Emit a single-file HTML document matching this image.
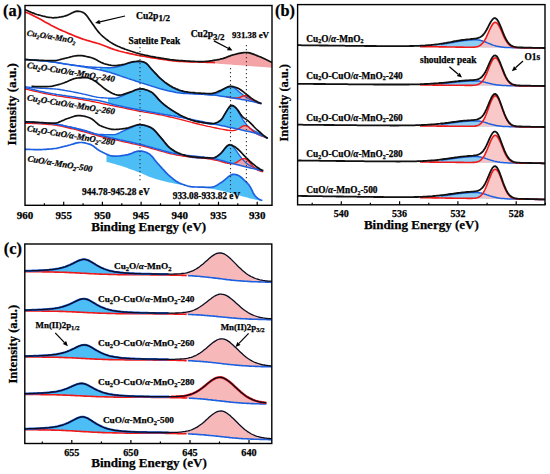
<!DOCTYPE html>
<html><head><meta charset="utf-8"><style>
html,body{margin:0;padding:0;background:#fff;width:550px;height:474px;overflow:hidden}
svg{display:block}
</style></head><body>
<svg width="550" height="474" viewBox="0 0 550 474">
<rect width="550" height="474" fill="#fff"/>
<polygon points="165,58.8 167,59.1 169,59.4 170.9,59.7 172.9,59.9 174.9,60.1 176.9,60.3 178.9,60.5 180.9,60.7 182.8,60.8 184.8,60.9 186.8,61 188.8,61.2 190.8,61.3 192.7,61.4 194.7,61.4 196.7,61.5 198.7,61.6 200.7,61.6 202.6,61.6 204.6,61.5 206.6,61.4 208.6,61.2 210.6,60.9 212.6,60.6 214.5,60.3 216.5,59.9 218.5,59.5 220.5,59.1 222.5,58.6 224.4,58 226.4,57.3 228.4,56.5 230.4,55.8 232.4,55.1 234.4,54.5 236.3,54 238.3,53.5 240.3,53.1 242.3,52.8 244.3,52.5 246.2,52.5 248.2,52.7 250.2,53.1 252.2,53.8 254.2,54.5 256.1,55.3 258.1,56 260.1,56.8 262.1,57.6 264.1,58.5 266.1,59.5 268,60.5 270,61.5 272,62.3 272,67.7 270,67.6 268,67.4 266.1,67.3 264.1,67.1 262.1,67 260.1,66.8 258.1,66.7 256.1,66.5 254.2,66.4 252.2,66.2 250.2,66.1 248.2,65.9 246.2,65.8 244.3,65.6 242.3,65.5 240.3,65.3 238.3,65.2 236.3,65 234.4,64.9 232.4,64.7 230.4,64.6 228.4,64.4 226.4,64.3 224.4,64.2 222.5,64 220.5,63.9 218.5,63.7 216.5,63.6 214.5,63.4 212.6,63.3 210.6,63.1 208.6,63 206.6,62.8 204.6,62.7 202.6,62.5 200.7,62.4 198.7,62.2 196.7,62.1 194.7,61.9 192.7,61.8 190.8,61.6 188.8,61.5 186.8,61.3 184.8,61.2 182.8,61 180.9,60.9 178.9,60.8 176.9,60.6 174.9,60.5 172.9,60.3 170.9,60.2 169,60 167,59.9 165,59.7" fill="#f4a3a6" />
<polyline points="25,12.1 27,12.7 29,13.5 31,14.5 33,15.5 35,16.5 37,17.5 39,18.6 41,19.6 43,20.7 45,21.9 47,23 49,24.1 51,25.2 53,26.2 55,27.2 57,28.2 59,29.2 61,30.1 63,31 65,31.8 67,32.7 69,33.6 71,34.4 73,35.2 75,36.1 77,36.9 79,37.6 81,38.4 83,39.1 85,39.7 87,40.4 89,40.9 91,41.5 93,42.1 95,42.6 97,43.2 99,43.8 101,44.5 103,45.2 105,46 107,46.8 109,47.6 111,48.4 113,49.1 115,49.8 117,50.4 119,51 121,51.5 123,52 125,52.5 127,52.9 129,53.4 131,53.8 133,54.2 135,54.7 137,55.1 139,55.4 141,55.8 143,56.2 145,56.5 147,56.9 149,57.2 151,57.6 153,57.9 155,58.2 157,58.5 159,58.8 161,59.1 163,59.4 165,59.7 167,60 169,60.3 171,60.5 173,60.8 175,61 177,61.2 179,61.3 181,61.4 183,61.5 185,61.6 187,61.7 189,61.8 191,61.9 193,61.9 195,62 197,62 199,62.1 201,62.1 203,62.2 205,62.2 207,62.3 209,62.4 211,62.4 213,62.5 215,62.5" fill="none" stroke="#f01818" stroke-width="1.7" stroke-linejoin="round" />
<polyline points="25,9.7 26.5,10.2 28,10.9 29.5,11.6 31,12.2 32.5,12.9 34,13.4 35.5,14 37,14.5 38.5,14.9 40,15.3 41.5,15.7 43,16.1 44.5,16.4 46,16.8 47.5,17.1 49,17.3 50.4,17.5 51.9,17.7 53.4,17.8 54.9,17.7 56.4,17.6 57.9,17.5 59.4,17.2 60.9,17 62.4,16.6 63.9,16.3 65.4,15.9 66.9,15.4 68.4,14.8 69.9,14.1 71.4,13.3 72.9,12.5 74.4,11.9 75.9,11.4 77.4,11.2 78.9,11.3 80.4,11.5 81.9,12 83.4,12.6 84.9,13.7 86.4,15.3 87.9,17.3 89.4,19.4 90.9,21.5 92.4,23.7 93.9,25.8 95.4,28 96.9,30 98.4,31.9 99.8,33.5 101.3,35 102.8,36.4 104.3,37.7 105.8,38.9 107.3,40 108.8,41.1 110.3,42.1 111.8,43.1 113.3,43.9 114.8,44.7 116.3,45.5 117.8,46.2 119.3,46.8 120.8,47.5 122.3,48.1 123.8,48.6 125.3,49.2 126.8,49.7 128.3,50.3 129.8,50.8 131.3,51.3 132.8,51.7 134.3,52.2 135.8,52.7 137.3,53.1 138.8,53.5 140.3,54 141.8,54.3 143.3,54.7 144.8,55.1 146.3,55.4 147.8,55.7 149.2,56 150.7,56.4 152.2,56.6 153.7,56.9 155.2,57.2 156.7,57.5 158.2,57.7 159.7,57.9 161.2,58.2 162.7,58.4 164.2,58.7 165.7,58.9 167.2,59.1 168.7,59.3 170.2,59.6 171.7,59.8 173.2,59.9 174.7,60.1 176.2,60.3 177.7,60.4 179.2,60.5 180.7,60.6 182.2,60.7 183.7,60.8 185.2,60.9 186.7,61 188.2,61.1 189.7,61.2 191.2,61.3 192.7,61.4 194.2,61.4 195.7,61.5 197.2,61.5 198.6,61.6 200.1,61.6 201.6,61.6 203.1,61.6 204.6,61.5 206.1,61.4 207.6,61.3 209.1,61.1 210.6,60.9 212.1,60.7 213.6,60.4 215.1,60.1 216.6,59.9 218.1,59.6 219.6,59.3 221.1,58.9 222.6,58.6 224.1,58.1 225.6,57.6 227.1,57 228.6,56.4 230.1,55.9 231.6,55.3 233.1,54.9 234.6,54.5 236.1,54.1 237.6,53.7 239.1,53.4 240.6,53.1 242.1,52.8 243.6,52.6 245.1,52.5 246.6,52.5 248,52.6 249.5,52.9 251,53.4 252.5,53.9 254,54.4 255.5,55 257,55.6 258.5,56.2 260,56.8 261.5,57.4 263,58.1 264.5,58.7 266,59.5 267.5,60.2 269,61 270.5,61.7 272,62.3" fill="none" stroke="#111" stroke-width="1.7" stroke-linejoin="round" />
<polygon points="100,67.5 101.5,67.5 103,67.6 104.5,67.6 106,67.6 107.5,67.7 109,67.7 110.5,67.7 112,67.6 113.5,67.5 115,67.3 116.5,67 118,66.6 119.5,66.2 121,65.9 122.5,65.4 124,65 125.5,64.4 127,63.9 128.5,63.3 130,62.8 131.5,62.4 133,62.1 134.5,61.9 136,61.7 137.5,61.5 139,61.4 140.5,61.5 142,61.7 143.5,62.1 145,62.7 146.5,63.6 148,65 149.5,66.8 151,68.6 152.5,70.3 154,71.9 155.5,73.5 157,75.1 158.5,76.7 160,78.1 161.5,79.5 163,80.8 164.5,82.1 166,83.3 167.5,84.4 169,85.5 170.5,86.4 172,87.3 173.5,88.1 175,88.9 176.5,89.6 178,90.2 179.5,90.8 181,91.3 182.5,91.7 184,92.1 185.5,92.4 187,92.6 188.5,92.9 190,93.1 191.5,93.3 193,93.4 194.5,93.6 196,93.7 197.5,93.9 199,94 200.5,94.2 202,94.3 203.5,94.4 205,94.5 206.5,94.6 208,94.7 209.5,94.8 211,94.8 212.5,94.9 214,94.9 214,95.1 212.5,94.9 211,94.8 209.5,94.7 208,94.6 206.5,94.5 205,94.4 203.5,94.3 202,94.2 200.5,94.2 199,94.1 197.5,94.1 196,94 194.5,94 193,93.9 191.5,93.8 190,93.8 188.5,93.7 187,93.6 185.5,93.5 184,93.4 182.5,93.3 181,93.1 179.5,92.9 178,92.7 176.5,92.5 175,92.2 173.5,91.9 172,91.6 170.5,91.3 169,91 167.5,90.6 166,90.3 164.5,89.9 163,89.5 161.5,89.1 160,88.6 158.5,88.2 157,87.8 155.5,87.3 154,86.8 152.5,86.4 151,85.9 149.5,85.4 148,85 146.5,84.5 145,84 143.5,83.5 142,83.1 140.5,82.6 139,82.1 137.5,81.6 136,81.1 134.5,80.6 133,80.1 131.5,79.6 130,79.1 128.5,78.6 127,78.2 125.5,77.7 124,77.2 122.5,76.7 121,76.1 119.5,75.6 118,75.1 116.5,74.6 115,74.1 113.5,73.5 112,73 110.5,72.6 109,72.1 107.5,71.7 106,71.3 104.5,70.9 103,70.5 101.5,70.2 100,69.9" fill="#4cbdf5" />
<polyline points="25,59.5 26.5,59.6 28,59.7 29.5,59.8 31,59.9 32.5,60 34,60.1 35.5,60.3 37,60.4 38.5,60.5 40,60.6 41.5,60.8 43,60.9 44.5,61.1 46,61.3 47.5,61.4 49,61.6 50.5,61.8 52,62 53.5,62.1 55,62.3 56.5,62.5 58,62.8 59.5,63 61,63.2 62.5,63.5 64,63.7 65.5,63.9 67,64.2 68.5,64.4 70,64.6 71.5,64.8 73,65 74.5,65.2 76,65.4 77.5,65.6 79,65.8 80.5,66 82,66.2 83.5,66.3 85,66.5 86.5,66.6 88,66.8 89.5,66.9 91,67 92.5,67.2 94,67.2 95.5,67.3 97,67.4 98.5,67.4 100,67.5 101.5,67.5 103,67.6 104.5,67.6 106,67.6 107.5,67.7 109,67.7 110.5,67.7 112,67.6 113.5,67.5 115,67.3 116.5,67 118,66.6 119.5,66.2 121,65.9 122.5,65.4 124,65 125.5,64.4 127,63.9 128.5,63.3 130,62.8 131.5,62.4 133,62.1 134.5,61.9 136,61.7 137.5,61.5 139,61.4 140.5,61.5 142,61.7 143.5,62.1 145,62.7 146.5,63.6 148,65 149.5,66.8 151,68.6 152.5,70.3 154,71.9 155.5,73.5 157,75.1 158.5,76.7 160,78.1 161.5,79.5 163,80.8 164.5,82.1 166,83.3 167.5,84.4 169,85.5 170.5,86.4 172,87.3 173.5,88.1 175,88.9 176.5,89.6 178,90.2 179.5,90.8 181,91.3 182.5,91.7 184,92.1 185.5,92.4 187,92.6 188.5,92.9 190,93.1 191.5,93.3 193,93.4 194.5,93.6 196,93.7 197.5,93.9 199,94 200.5,94.2 202,94.3 203.5,94.4 205,94.5 206.5,94.6 208,94.7 209.5,94.8 211,94.8 212.5,94.9 214,94.9" fill="none" stroke="#1c60e0" stroke-width="1.4" stroke-linejoin="round" />
<polygon points="205,94 206,94.1 207,94.1 208,94.1 209,94.1 209.9,94.1 210.9,94.1 211.9,94 212.9,93.9 213.9,93.8 214.9,93.7 215.9,93.5 216.9,93.2 217.9,92.9 218.9,92.4 219.8,91.9 220.8,91.4 221.8,90.7 222.8,90.1 223.8,89.3 224.8,88.7 225.8,88.2 226.8,87.7 227.8,87.3 228.7,87 229.7,86.8 230.7,86.7 231.7,86.8 232.7,87.1 233.7,87.6 234.7,88.2 235.7,88.9 236.7,89.7 237.7,90.5 238.6,91.3 239.6,92.2 240.6,93 241.6,93.8 242.6,94.6 243.6,95.4 244.6,96.1 245.6,96.8 246.6,97.4 247.5,98 248.5,98.6 249.5,99.1 250.5,99.5 251.5,100 252.5,100.4 253.5,100.7 254.5,101.1 255.5,101.4 256.5,101.8 257.4,102.3 258.4,102.8 259.4,103.3 260.4,103.6 261.4,103.9 261.4,103.5 260.4,103.3 259.4,103.2 258.4,102.9 257.4,102.7 256.5,102.5 255.5,102.2 254.5,102 253.5,101.8 252.5,101.5 251.5,101.3 250.5,101.1 249.5,100.9 248.5,100.7 247.5,100.5 246.6,100.3 245.6,100.1 244.6,99.9 243.6,99.7 242.6,99.6 241.6,99.4 240.6,99.2 239.6,99 238.6,98.9 237.7,98.7 236.7,98.5 235.7,98.4 234.7,98.2 233.7,98.1 232.7,97.9 231.7,97.8 230.7,97.6 229.7,97.5 228.7,97.3 227.8,97.1 226.8,97 225.8,96.8 224.8,96.7 223.8,96.5 222.8,96.4 221.8,96.2 220.8,96 219.8,95.9 218.9,95.7 217.9,95.6 216.9,95.5 215.9,95.3 214.9,95.2 213.9,95.1 212.9,95 211.9,94.9 210.9,94.8 209.9,94.7 209,94.6 208,94.6 207,94.5 206,94.4 205,94.4" fill="#4cbdf5" />
<polygon points="226,96.9 227,97 228,97.2 228.9,97.3 229.9,97.5 230.9,97.6 231.9,97.8 232.9,97.9 233.9,98 234.8,98 235.8,98.1 236.8,98 237.8,97.9 238.8,97.7 239.8,97.3 240.8,97 241.7,96.5 242.7,96.1 243.7,95.8 244.7,95.6 245.7,95.6 246.6,95.9 247.6,96.3 248.6,96.9 249.6,97.6 250.6,98.4 251.6,99.2 252.5,100 253.5,100.7 254.5,101.2 255.5,101.7 256.5,102.2 257.5,102.5 258.4,102.8 259.4,103.1 260.4,103.3 261.4,103.5 261.4,103.5 260.4,103.3 259.4,103.2 258.4,102.9 257.5,102.7 256.5,102.5 255.5,102.2 254.5,102 253.5,101.8 252.5,101.5 251.6,101.3 250.6,101.1 249.6,100.9 248.6,100.7 247.6,100.5 246.6,100.3 245.7,100.1 244.7,99.9 243.7,99.8 242.7,99.6 241.7,99.4 240.8,99.2 239.8,99.1 238.8,98.9 237.8,98.7 236.8,98.6 235.8,98.4 234.8,98.3 233.9,98.1 232.9,97.9 231.9,97.8 230.9,97.6 229.9,97.5 228.9,97.3 228,97.2 227,97 226,96.9" fill="#f4a3a6" opacity="0.9"/>
<polyline points="205,94 206,94.1 207,94.1 208,94.1 209,94.1 209.9,94.1 210.9,94.1 211.9,94 212.9,93.9 213.9,93.8 214.9,93.7 215.9,93.5 216.9,93.2 217.9,92.9 218.9,92.4 219.8,91.9 220.8,91.4 221.8,90.7 222.8,90.1 223.8,89.3 224.8,88.7 225.8,88.2 226.8,87.7 227.8,87.3 228.7,87 229.7,86.8 230.7,86.7 231.7,86.8 232.7,87.1 233.7,87.6 234.7,88.2 235.7,88.9 236.7,89.7 237.7,90.5 238.6,91.3 239.6,92.2 240.6,93 241.6,93.8 242.6,94.6 243.6,95.4 244.6,96.1 245.6,96.8 246.6,97.4 247.5,98 248.5,98.6 249.5,99.1 250.5,99.5 251.5,100 252.5,100.4 253.5,100.7 254.5,101.1 255.5,101.4 256.5,101.8 257.4,102.3 258.4,102.8 259.4,103.3 260.4,103.6 261.4,103.9" fill="none" stroke="#1c60e0" stroke-width="1.3" stroke-linejoin="round" />
<polyline points="226,96.9 227,97 228,97.2 228.9,97.3 229.9,97.5 230.9,97.6 231.9,97.8 232.9,97.9 233.9,98 234.8,98 235.8,98.1 236.8,98 237.8,97.9 238.8,97.7 239.8,97.3 240.8,97 241.7,96.5 242.7,96.1 243.7,95.8 244.7,95.6 245.7,95.6 246.6,95.9 247.6,96.3 248.6,96.9 249.6,97.6 250.6,98.4 251.6,99.2 252.5,100 253.5,100.7 254.5,101.2 255.5,101.7 256.5,102.2 257.5,102.5 258.4,102.8 259.4,103.1 260.4,103.3 261.4,103.5" fill="none" stroke="#f01818" stroke-width="1.4" stroke-linejoin="round" />
<polyline points="25,59.5 27,59.6 29,59.8 31,59.9 32.9,60.1 34.9,60.2 36.9,60.4 38.9,60.6 40.9,60.7 42.9,60.9 44.9,61.1 46.9,61.3 48.8,61.6 50.8,61.8 52.8,62.1 54.8,62.3 56.8,62.6 58.8,62.9 60.8,63.3 62.7,63.6 64.7,64 66.7,64.3 68.7,64.6 70.7,64.9 72.7,65.2 74.7,65.5 76.7,65.8 78.6,66.1 80.6,66.4 82.6,66.7 84.6,67 86.6,67.4 88.6,67.7 90.6,68.1 92.5,68.4 94.5,68.8 96.5,69.2 98.5,69.6 100.5,70 102.5,70.4 104.5,70.9 106.4,71.4 108.4,71.9 110.4,72.5 112.4,73.2 114.4,73.8 116.4,74.5 118.4,75.2 120.4,75.9 122.3,76.6 124.3,77.3 126.3,77.9 128.3,78.6 130.3,79.2 132.3,79.9 134.3,80.5 136.2,81.2 138.2,81.8 140.2,82.5 142.2,83.1 144.2,83.8 146.2,84.4 148.2,85 150.2,85.6 152.1,86.3 154.1,86.9 156.1,87.5 158.1,88.1 160.1,88.7 162.1,89.2 164.1,89.8 166,90.3 168,90.8 170,91.2 172,91.6 174,92 176,92.4 178,92.7 180,93 181.9,93.2 183.9,93.4 185.9,93.5 187.9,93.6 189.9,93.8 191.9,93.8 193.9,93.9 195.8,94 197.8,94.1 199.8,94.2 201.8,94.2 203.8,94.3 205.8,94.4 207.8,94.6 209.7,94.7 211.7,94.9 213.7,95.1 215.7,95.3 217.7,95.6 219.7,95.9 221.7,96.2 223.7,96.5 225.6,96.8 227.6,97.1 229.6,97.4 231.6,97.7 233.6,98.1 235.6,98.4 237.6,98.7 239.5,99 241.5,99.4 243.5,99.7 245.5,100.1 247.5,100.5 249.5,100.9 251.5,101.3 253.5,101.7 255.4,102.2 257.4,102.7 259.4,103.1 261.4,103.5" fill="none" stroke="#1c60e0" stroke-width="1.5" stroke-linejoin="round" />
<polyline points="25,59.5 26.5,59.6 28,59.7 29.5,59.8 31,59.9 32.5,60 34,60.1 35.5,60.1 37,60.2 38.5,60.3 40,60.3 41.5,60.4 43,60.4 44.5,60.5 45.9,60.5 47.4,60.6 48.9,60.6 50.4,60.7 51.9,60.7 53.4,60.7 54.9,60.6 56.4,60.5 57.9,60.2 59.4,59.8 60.9,59.4 62.4,59 63.9,58.6 65.4,58.2 66.9,57.8 68.4,57.5 69.9,57.1 71.4,56.7 72.9,56.3 74.4,56 75.9,55.8 77.4,55.6 78.9,55.5 80.4,55.6 81.9,55.7 83.4,55.9 84.8,56.2 86.3,56.5 87.8,56.8 89.3,57.1 90.8,57.5 92.3,58 93.8,58.6 95.3,59.3 96.8,60.1 98.3,60.9 99.8,61.7 101.3,62.5 102.8,63.1 104.3,63.7 105.8,64.1 107.3,64.5 108.8,64.9 110.3,65.2 111.8,65.5 113.3,65.6 114.8,65.7 116.3,65.6 117.8,65.4 119.3,65.2 120.8,65 122.3,64.7 123.7,64.4 125.2,64 126.7,63.5 128.2,63 129.7,62.6 131.2,62.2 132.7,61.9 134.2,61.7 135.7,61.5 137.2,61.3 138.7,61.2 140.2,61.3 141.7,61.5 143.2,61.9 144.7,62.5 146.2,63.3 147.7,64.7 149.2,66.5 150.7,68.2 152.2,69.9 153.7,71.5 155.2,73.1 156.7,74.7 158.2,76.3 159.7,77.8 161.2,79.2 162.7,80.4 164.1,81.6 165.6,82.8 167.1,83.8 168.6,84.8 170.1,85.8 171.6,86.6 173.1,87.4 174.6,88.1 176.1,88.8 177.6,89.4 179.1,90 180.6,90.5 182.1,90.9 183.6,91.3 185.1,91.6 186.6,91.8 188.1,92.1 189.6,92.3 191.1,92.5 192.6,92.6 194.1,92.7 195.6,92.9 197.1,93 198.6,93.1 200.1,93.2 201.6,93.3 203,93.4 204.5,93.4 206,93.5 207.5,93.5 209,93.6 210.5,93.6 212,93.5 213.5,93.2 215,92.7 216.5,92.2 218,91.5 219.5,90.9 221,90.3 222.5,89.5 224,88.7 225.5,87.9 227,87.2 228.5,86.6 230,86.3 231.5,86.3 233,86.6 234.5,87 236,87.5 237.5,88.1 239,88.8 240.5,89.7 241.9,90.7 243.4,91.9 244.9,93.1 246.4,94.3 247.9,95.5 249.4,96.7 250.9,97.9 252.4,98.9 253.9,99.9 255.4,100.8 256.9,101.6 258.4,102.4 259.9,103 261.4,103.5" fill="none" stroke="#111" stroke-width="1.7" stroke-linejoin="round" />
<polygon points="108,98.1 109.5,98.2 111,98.2 112.5,98.3 114,98.3 115.5,98.2 117,97.9 118.5,97.4 119.9,96.8 121.4,96.2 122.9,95.6 124.4,94.9 125.9,94.2 127.4,93.5 128.9,92.8 130.4,92.2 131.9,91.5 133.4,90.9 134.9,90.3 136.4,89.8 137.9,89.4 139.4,89.1 140.8,89.1 142.3,89.2 143.8,89.4 145.3,89.8 146.8,90.3 148.3,90.8 149.8,91.4 151.3,92.2 152.8,93.3 154.3,94.7 155.8,96.3 157.3,98.1 158.8,99.8 160.3,101.4 161.7,102.8 163.2,104.1 164.7,105.3 166.2,106.4 167.7,107.5 169.2,108.6 170.7,109.7 172.2,110.7 173.7,111.6 175.2,112.6 176.7,113.6 178.2,114.5 179.7,115.4 181.2,116.2 182.6,116.9 184.1,117.6 185.6,118.2 187.1,118.7 188.6,119.3 190.1,119.7 191.6,120.2 193.1,120.6 194.6,121 196.1,121.3 197.6,121.7 199.1,122 200.6,122.3 202.1,122.6 203.5,122.9 205,123.1 206.5,123.4 208,123.6 209.5,123.8 211,124 212.5,124.2 214,124.3 214,124 212.5,123.7 211,123.4 209.5,123.1 208,122.8 206.5,122.5 205,122.2 203.5,121.9 202.1,121.6 200.6,121.3 199.1,121 197.6,120.7 196.1,120.4 194.6,120.1 193.1,119.8 191.6,119.5 190.1,119.2 188.6,118.9 187.1,118.6 185.6,118.3 184.1,118 182.6,117.7 181.2,117.4 179.7,117.1 178.2,116.9 176.7,116.6 175.2,116.3 173.7,116 172.2,115.8 170.7,115.5 169.2,115.2 167.7,115 166.2,114.7 164.7,114.4 163.2,114.2 161.7,113.9 160.3,113.7 158.8,113.4 157.3,113.1 155.8,112.9 154.3,112.6 152.8,112.3 151.3,112.1 149.8,111.8 148.3,111.5 146.8,111.3 145.3,111 143.8,110.7 142.3,110.4 140.8,110.2 139.4,109.9 137.9,109.6 136.4,109.3 134.9,109 133.4,108.7 131.9,108.4 130.4,108.2 128.9,107.9 127.4,107.6 125.9,107.3 124.4,107 122.9,106.7 121.4,106.3 119.9,106 118.5,105.7 117,105.4 115.5,105 114,104.6 112.5,104.3 111,103.8 109.5,103.4 108,102.9" fill="#4cbdf5" />
<polyline points="25,86.8 26.5,86.9 28,87.1 29.5,87.3 31,87.4 32.5,87.6 34,87.7 35.5,87.9 37,88 38.5,88.1 40,88.2 41.5,88.3 43,88.4 44.5,88.4 46,88.5 47.5,88.6 49,88.6 50.5,88.7 52,88.8 53.5,88.9 55,89 56.5,89.1 58,89.3 59.5,89.5 61,89.8 62.5,90 64,90.3 65.5,90.6 67,90.8 68.5,91.1 70,91.3 71.5,91.6 73,91.9 74.5,92.2 76,92.5 77.5,92.8 79,93.1 80.5,93.4 82,93.8 83.5,94.1 85,94.4 86.5,94.8 88,95.1 89.5,95.5 91,95.9 92.5,96.3 94,96.6 95.5,96.9 97,97.2 98.5,97.4 100,97.6 101.5,97.7 103,97.8 104.5,97.9 106,98 107.5,98.1 109,98.2 110.5,98.2 112,98.3 113.5,98.3 115,98.2 116.5,98 118,97.5 119.5,97 121,96.4 122.5,95.8 124,95.1 125.5,94.4 127,93.7 128.5,93 130,92.3 131.5,91.7 133,91.1 134.5,90.5 136,89.9 137.5,89.5 139,89.2 140.5,89.1 142,89.1 143.5,89.3 145,89.7 146.5,90.1 148,90.7 149.5,91.3 151,92 152.5,93 154,94.4 155.5,96 157,97.8 158.5,99.5 160,101.2 161.5,102.6 163,103.9 164.5,105.1 166,106.3 167.5,107.4 169,108.5 170.5,109.5 172,110.5 173.5,111.5 175,112.5 176.5,113.5 178,114.4 179.5,115.3 181,116.1 182.5,116.9 184,117.5 185.5,118.1 187,118.7 188.5,119.2 190,119.7 191.5,120.1 193,120.6 194.5,121 196,121.3 197.5,121.6 199,122 200.5,122.3 202,122.6 203.5,122.9 205,123.1 206.5,123.4 208,123.6 209.5,123.8 211,124 212.5,124.2 214,124.3" fill="none" stroke="#1c60e0" stroke-width="1.4" stroke-linejoin="round" />
<polygon points="205,123.3 206,123.4 207,123.5 208,123.6 209,123.7 210,123.8 211,123.8 212,123.9 213,123.9 214,123.8 215,123.6 215.9,123.3 216.9,122.9 217.9,122.4 218.9,121.8 219.9,121.2 220.9,120.3 221.9,119.1 222.9,117.7 223.9,116 224.9,114.4 225.9,112.7 226.9,111.1 227.9,109.4 228.9,107.9 229.9,106.7 230.9,106 231.9,105.8 232.9,106 233.9,106.5 234.9,107.3 235.9,108.2 236.8,109.3 237.8,111 238.8,112.7 239.8,114.4 240.8,116.2 241.8,117.9 242.8,119.5 243.8,121 244.8,122.4 245.8,123.7 246.8,124.9 247.8,126 248.8,127 249.8,127.9 250.8,128.7 251.8,129.4 252.8,130 253.8,130.6 254.8,131.1 255.8,131.7 256.8,132.1 257.7,132.6 258.7,133.1 259.7,133.6 260.7,134 261.7,134.5 262.7,135 263.7,135.9 264.7,136.7 265.7,137.4 266.7,138.1 267.7,138.6 267.7,137.9 266.7,137.6 265.7,137.2 264.7,136.8 263.7,136.3 262.7,135.9 261.7,135.5 260.7,135.1 259.7,134.7 258.7,134.3 257.7,134 256.8,133.6 255.8,133.3 254.8,133.1 253.8,132.8 252.8,132.5 251.8,132.3 250.8,132 249.8,131.8 248.8,131.6 247.8,131.3 246.8,131.1 245.8,130.9 244.8,130.6 243.8,130.4 242.8,130.2 241.8,130 240.8,129.7 239.8,129.5 238.8,129.3 237.8,129.1 236.8,128.9 235.9,128.7 234.9,128.4 233.9,128.2 232.9,128 231.9,127.8 230.9,127.6 229.9,127.4 228.9,127.2 227.9,127 226.9,126.7 225.9,126.5 224.9,126.3 223.9,126.1 222.9,125.9 221.9,125.7 220.9,125.5 219.9,125.3 218.9,125.1 217.9,124.8 216.9,124.6 215.9,124.4 215,124.2 214,124 213,123.8 212,123.6 211,123.4 210,123.2 209,123 208,122.8 207,122.6 206,122.4 205,122.2" fill="#4cbdf5" />
<polygon points="225.8,126.5 226.8,126.7 227.8,126.9 228.8,127.1 229.8,127.4 230.8,127.6 231.8,127.8 232.8,128 233.8,128.2 234.8,128.4 235.8,128.6 236.8,128.9 237.8,129.1 238.8,128.7 239.8,128 240.8,127.4 241.8,126.7 242.8,126.2 243.8,125.8 244.8,125.6 245.8,125.6 246.8,125.9 247.7,126.4 248.7,127 249.7,127.9 250.7,128.8 251.7,129.8 252.7,130.7 253.7,131.6 254.7,132.4 255.7,133.1 256.7,133.6 257.7,134 258.7,134.3 259.7,134.7 260.7,135 261.7,135.5 262.7,135.9 263.7,136.3 264.7,136.8 265.7,137.2 266.7,137.6 267.7,137.9 267.7,137.9 266.7,137.6 265.7,137.2 264.7,136.8 263.7,136.3 262.7,135.9 261.7,135.5 260.7,135 259.7,134.7 258.7,134.3 257.7,134 256.7,133.6 255.7,133.3 254.7,133 253.7,132.8 252.7,132.5 251.7,132.3 250.7,132 249.7,131.8 248.7,131.6 247.7,131.3 246.8,131.1 245.8,130.9 244.8,130.6 243.8,130.4 242.8,130.2 241.8,129.9 240.8,129.7 239.8,129.5 238.8,129.3 237.8,129.1 236.8,128.9 235.8,128.6 234.8,128.4 233.8,128.2 232.8,128 231.8,127.8 230.8,127.6 229.8,127.4 228.8,127.1 227.8,126.9 226.8,126.7 225.8,126.5" fill="#f4a3a6" opacity="0.9"/>
<polyline points="205,123.3 206,123.4 207,123.5 208,123.6 209,123.7 210,123.8 211,123.8 212,123.9 213,123.9 214,123.8 215,123.6 215.9,123.3 216.9,122.9 217.9,122.4 218.9,121.8 219.9,121.2 220.9,120.3 221.9,119.1 222.9,117.7 223.9,116 224.9,114.4 225.9,112.7 226.9,111.1 227.9,109.4 228.9,107.9 229.9,106.7 230.9,106 231.9,105.8 232.9,106 233.9,106.5 234.9,107.3 235.9,108.2 236.8,109.3 237.8,111 238.8,112.7 239.8,114.4 240.8,116.2 241.8,117.9 242.8,119.5 243.8,121 244.8,122.4 245.8,123.7 246.8,124.9 247.8,126 248.8,127 249.8,127.9 250.8,128.7 251.8,129.4 252.8,130 253.8,130.6 254.8,131.1 255.8,131.7 256.8,132.1 257.7,132.6 258.7,133.1 259.7,133.6 260.7,134 261.7,134.5 262.7,135 263.7,135.9 264.7,136.7 265.7,137.4 266.7,138.1 267.7,138.6" fill="none" stroke="#1c60e0" stroke-width="1.3" stroke-linejoin="round" />
<polyline points="25,89 27,89.4 29,89.8 31,90.3 33,90.8 34.9,91.3 36.9,91.7 38.9,92.2 40.9,92.7 42.9,93.1 44.9,93.5 46.9,93.9 48.9,94.3 50.8,94.7 52.8,95.1 54.8,95.4 56.8,95.8 58.8,96.1 60.8,96.4 62.8,96.7 64.8,97 66.8,97.3 68.7,97.5 70.7,97.8 72.7,98.1 74.7,98.4 76.7,98.7 78.7,99 80.7,99.3 82.7,99.6 84.6,100 86.6,100.3 88.6,100.7 90.6,101.1 92.6,101.5 94.6,101.9 96.6,102.3 98.6,102.7 100.5,103.1 102.5,103.6 104.5,104 106.5,104.4 108.5,104.8 110.5,105.3 112.5,105.7 114.5,106.1 116.5,106.5 118.4,106.9 120.4,107.3 122.4,107.7 124.4,108.2 126.4,108.6 128.4,109 130.4,109.4 132.4,109.8 134.3,110.2 136.3,110.6 138.3,111 140.3,111.4 142.3,111.7 144.3,112.1 146.3,112.4 148.3,112.7 150.3,113.1 152.2,113.4 154.2,113.7 156.2,114.1 158.2,114.5 160.2,114.8 162.2,115.2 164.2,115.7 166.2,116.1 168.1,116.5 170.1,117 172.1,117.4 174.1,117.9 176.1,118.4 178.1,118.8 180.1,119.3 182.1,119.8 184,120.3 186,120.9 188,121.4 190,121.9 192,122.5 194,123 196,123.5 198,124 200,124.5 201.9,124.9 203.9,125.4 205.9,125.8 207.9,126.3 209.9,126.7 211.9,127.2 213.9,127.6 215.9,128 217.8,128.4 219.8,128.8 221.8,129.2 223.8,129.5 225.8,129.9 226.8,130.1" fill="none" stroke="#f01818" stroke-width="1.3" stroke-linejoin="round" />
<polyline points="225.8,129.9 226.8,130.1 227.8,130.2 228.8,130.4 229.8,130.5 230.8,130.6 231.8,130.6 232.8,130.6 233.8,130.5 234.8,130.4 235.8,130.1 236.8,129.7 237.8,129.2 238.8,128.7 239.8,128 240.8,127.4 241.8,126.7 242.8,126.2 243.8,125.8 244.8,125.6 245.8,125.6 246.8,125.9 247.7,126.4 248.7,127 249.7,127.9 250.7,128.8 251.7,129.8 252.7,130.7 253.7,131.6 254.7,132.4 255.7,133.1 256.7,133.7 257.7,134.3 258.7,134.8 259.7,135.2 260.7,135.6 261.7,136 262.7,136.4 263.7,136.7 264.7,137.1 265.7,137.4 266.7,137.7 267.7,138" fill="none" stroke="#f01818" stroke-width="1.4" stroke-linejoin="round" />
<polyline points="25,87.7 27,88.1 29,88.6 31,89.1 33,89.6 34.9,90 36.9,90.5 38.9,91 40.9,91.4 42.9,91.8 44.9,92.3 46.9,92.7 48.9,93.1 50.9,93.4 52.9,93.8 54.8,94.1 56.8,94.5 58.8,94.8 60.8,95.1 62.8,95.4 64.8,95.6 66.8,95.9 68.8,96.2 70.8,96.5 72.7,96.8 74.7,97.1 76.7,97.4 78.7,97.7 80.7,98 82.7,98.3 84.7,98.6 86.7,98.9 88.7,99.1 90.6,99.4 92.6,99.7 94.6,99.9 96.6,100.2 98.6,100.6 100.6,101 102.6,101.4 104.6,101.9 106.6,102.5 108.6,103.1 110.5,103.7 112.5,104.3 114.5,104.8 116.5,105.3 118.5,105.7 120.5,106.1 122.5,106.6 124.5,107 126.5,107.4 128.4,107.8 130.4,108.2 132.4,108.6 134.4,108.9 136.4,109.3 138.4,109.7 140.4,110.1 142.4,110.4 144.4,110.8 146.3,111.2 148.3,111.5 150.3,111.9 152.3,112.3 154.3,112.6 156.3,113 158.3,113.3 160.3,113.7 162.3,114 164.3,114.4 166.2,114.7 168.2,115.1 170.2,115.4 172.2,115.8 174.2,116.1 176.2,116.5 178.2,116.9 180.2,117.2 182.2,117.6 184.1,118 186.1,118.4 188.1,118.8 190.1,119.2 192.1,119.6 194.1,120 196.1,120.4 198.1,120.8 200.1,121.2 202.1,121.6 204,122 206,122.4 208,122.8 210,123.2 212,123.6 214,124 216,124.4 218,124.8 220,125.3 221.9,125.7 223.9,126.1 225.9,126.5 227.9,127 229.9,127.4 231.9,127.8 233.9,128.2 235.9,128.7 237.9,129.1 239.8,129.5 241.8,130 243.8,130.4 245.8,130.9 247.8,131.3 249.8,131.8 251.8,132.3 253.8,132.8 255.8,133.3 257.8,134 259.7,134.7 261.7,135.5 263.7,136.3 265.7,137.2 267.7,137.9" fill="none" stroke="#1c60e0" stroke-width="1.5" stroke-linejoin="round" />
<polyline points="31.5,86.3 33,86.4 34.5,86.5 36,86.6 37.5,86.6 39,86.6 40.5,86.7 42,86.7 43.5,86.7 45,86.7 46.4,86.7 47.9,86.6 49.4,86.5 50.9,86.3 52.4,86.1 53.9,85.7 55.4,85.4 56.9,85 58.4,84.6 59.9,84.2 61.4,83.8 62.9,83.3 64.4,82.8 65.9,82.1 67.4,81.5 68.9,80.8 70.4,80.1 71.9,79.5 73.4,78.9 74.9,78.5 76.3,78.2 77.8,78 79.3,77.9 80.8,77.8 82.3,77.7 83.8,77.6 85.3,77.6 86.8,77.7 88.3,78 89.8,78.5 91.3,79.1 92.8,79.8 94.3,80.7 95.8,81.6 97.3,82.7 98.8,84 100.3,85.2 101.8,86.4 103.3,87.6 104.8,88.8 106.2,89.8 107.7,90.7 109.2,91.6 110.7,92.4 112.2,93.2 113.7,93.9 115.2,94.5 116.7,94.9 118.2,95.1 119.7,95.1 121.2,94.9 122.7,94.6 124.2,94.1 125.7,93.6 127.2,93.1 128.7,92.6 130.2,92.1 131.7,91.6 133.2,91 134.7,90.3 136.1,89.8 137.6,89.3 139.1,89 140.6,88.9 142.1,88.9 143.6,89.2 145.1,89.5 146.6,90 148.1,90.5 149.6,91.2 151.1,91.9 152.6,92.9 154.1,94.3 155.6,95.9 157.1,97.6 158.6,99.4 160.1,100.9 161.6,102.3 163.1,103.6 164.5,104.8 166,106 167.5,107.1 169,108.1 170.5,109.2 172,110.2 173.5,111.1 175,112.1 176.5,113 178,113.8 179.5,114.7 181,115.5 182.5,116.2 184,116.9 185.5,117.6 187,118.2 188.5,118.9 190,119.4 191.5,120 193,120.5 194.4,120.9 195.9,121.3 197.4,121.6 198.9,121.9 200.4,122.2 201.9,122.4 203.4,122.6 204.9,122.9 206.4,123.1 207.9,123.2 209.4,123.3 210.9,123.4 212.4,123.5 213.9,123.4 215.4,123.1 216.9,122.5 218.4,121.8 219.9,120.8 221.4,119.4 222.9,117.4 224.3,114.9 225.8,112.4 227.3,109.9 228.8,107.6 230.3,105.9 231.8,105.4 233.3,105.8 234.8,106.9 236.3,108.2 237.8,110 239.3,112.3 240.8,114.6 242.3,116.5 243.8,117.9 245.3,118.9 246.8,119.9 248.3,121 249.8,122.4 251.3,123.9 252.8,125.4 254.2,127 255.7,128.5 257.2,129.9 258.7,131.2 260.2,132.5 261.7,133.8 263.2,135.1 264.7,136.3 266.2,137.4 267.7,138.2" fill="none" stroke="#111" stroke-width="1.7" stroke-linejoin="round" />
<polygon points="95,133.7 96.5,134.1 98,134.3 99.5,134.5 101,134.5 102.4,134.5 103.9,134.5 105.4,134.6 106.9,134.6 108.4,134.6 109.9,134.6 111.4,134.6 112.8,134.6 114.3,134.5 115.8,134.3 117.3,133.8 118.8,133.1 120.3,132.4 121.8,131.6 123.3,131 124.8,130.4 126.2,129.7 127.7,129.1 129.2,128.5 130.7,127.9 132.2,127.3 133.7,126.6 135.2,126 136.7,125.4 138.1,125.1 139.6,124.9 141.1,124.9 142.6,125.1 144.1,125.4 145.6,125.8 147.1,126.3 148.6,126.8 150,127.5 151.5,128.2 153,129.3 154.5,130.6 156,132.2 157.5,133.9 159,135.6 160.4,137.4 161.9,139.1 163.4,141 164.9,142.8 166.4,144.7 167.9,146.4 169.4,147.9 170.9,149.1 172.4,150.1 173.8,151.1 175.3,151.9 176.8,152.7 178.3,153.4 179.8,154 181.3,154.5 182.8,155.1 184.2,155.5 185.7,156 187.2,156.4 188.7,156.8 190.2,157.1 191.7,157.3 193.2,157.5 194.7,157.6 196.2,157.8 197.6,157.9 199.1,158 200.6,158.1 202.1,158.2 203.6,158.3 205.1,158.4 206.6,158.4 208.1,158.5 209.5,158.5 211,158.6 212.5,158.6 214,158.6 214,158.7 212.5,158.4 211,158.2 209.5,157.9 208.1,157.7 206.6,157.5 205.1,157.3 203.6,157.1 202.1,157 200.6,156.8 199.1,156.7 197.6,156.5 196.2,156.4 194.7,156.2 193.2,156.1 191.7,155.9 190.2,155.8 188.7,155.6 187.2,155.5 185.7,155.3 184.2,155.1 182.8,154.9 181.3,154.7 179.8,154.4 178.3,154.2 176.8,153.9 175.3,153.6 173.8,153.3 172.4,153 170.9,152.7 169.4,152.3 167.9,151.9 166.4,151.5 164.9,151.2 163.4,150.8 161.9,150.3 160.4,149.9 159,149.5 157.5,149.1 156,148.7 154.5,148.2 153,147.8 151.5,147.4 150,147 148.6,146.5 147.1,146.1 145.6,145.7 144.1,145.3 142.6,145 141.1,144.6 139.6,144.2 138.1,143.9 136.7,143.5 135.2,143.2 133.7,142.8 132.2,142.5 130.7,142.2 129.2,141.8 127.7,141.5 126.2,141.2 124.8,140.9 123.3,140.5 121.8,140.2 120.3,139.9 118.8,139.6 117.3,139.2 115.8,138.9 114.3,138.6 112.8,138.2 111.4,137.9 109.9,137.6 108.4,137.2 106.9,136.9 105.4,136.5 103.9,136.2 102.4,135.8 101,135.4 99.5,135.1 98,134.7 96.5,134.3 95,133.8" fill="#4cbdf5" />
<polyline points="25,122.2 26.5,122.2 28,122.2 29.5,122.3 31,122.3 32.5,122.3 34,122.4 35.5,122.5 37,122.6 38.5,122.6 40,122.7 41.5,122.8 43,123 44.5,123.1 46,123.2 47.5,123.3 49,123.4 50.5,123.6 52,123.7 53.5,123.9 55,124 56.5,124.2 58,124.4 59.5,124.7 61,125 62.5,125.3 64,125.6 65.5,125.9 67,126.3 68.5,126.6 70,126.9 71.5,127.2 73,127.6 74.5,127.9 76,128.2 77.5,128.6 79,129 80.5,129.3 82,129.7 83.5,130.1 85,130.5 86.5,131 88,131.5 89.5,132 91,132.5 92.5,133 94,133.5 95.5,133.9 97,134.2 98.5,134.4 100,134.5 101.5,134.5 103,134.5 104.5,134.6 106,134.6 107.5,134.6 109,134.6 110.5,134.6 112,134.6 113.5,134.6 115,134.5 116.5,134.1 118,133.5 119.5,132.8 121,132 122.5,131.3 124,130.7 125.5,130 127,129.4 128.5,128.8 130,128.2 131.5,127.6 133,126.9 134.5,126.2 136,125.6 137.5,125.2 139,124.9 140.5,124.9 142,125 143.5,125.2 145,125.6 146.5,126.1 148,126.6 149.5,127.2 151,127.9 152.5,128.9 154,130.1 155.5,131.6 157,133.3 158.5,135.1 160,136.9 161.5,138.6 163,140.4 164.5,142.3 166,144.2 167.5,146 169,147.5 170.5,148.8 172,149.9 173.5,150.9 175,151.8 176.5,152.6 178,153.3 179.5,153.9 181,154.4 182.5,155 184,155.5 185.5,155.9 187,156.3 188.5,156.7 190,157 191.5,157.3 193,157.5 194.5,157.6 196,157.7 197.5,157.9 199,158 200.5,158.1 202,158.2 203.5,158.3 205,158.4 206.5,158.4 208,158.5 209.5,158.5 211,158.6 212.5,158.6 214,158.6" fill="none" stroke="#1c60e0" stroke-width="1.4" stroke-linejoin="round" />
<polygon points="205,158.2 206,158.2 207,158.3 208,158.3 208.9,158.3 209.9,158.4 210.9,158.4 211.9,158.4 212.9,158.3 213.9,158.2 214.9,157.9 215.9,157.4 216.8,156.8 217.8,156.1 218.8,155.5 219.8,154.7 220.8,153.8 221.8,152.7 222.8,151.5 223.7,150.3 224.7,149 225.7,147.8 226.7,146.7 227.7,145.9 228.7,145.3 229.7,145.1 230.6,145.2 231.6,145.5 232.6,146.4 233.6,147.4 234.6,148.6 235.6,149.9 236.6,151.2 237.6,152.6 238.5,154 239.5,155.4 240.5,156.7 241.5,158 242.5,159.2 243.5,160.3 244.5,161.4 245.4,162.3 246.4,163.2 247.4,163.9 248.4,164.6 249.4,165.3 250.4,165.8 251.4,166.3 252.3,166.8 253.3,167.2 254.3,167.6 255.3,168 256.3,168.3 257.3,168.7 258.3,169 259.3,169.2 260.2,169.6 261.2,170.2 262.2,170.7 263.2,171 263.2,170.7 262.2,170.6 261.2,170.4 260.2,170.2 259.3,170 258.3,169.8 257.3,169.6 256.3,169.3 255.3,169.1 254.3,168.9 253.3,168.6 252.3,168.4 251.4,168.2 250.4,167.9 249.4,167.7 248.4,167.5 247.4,167.2 246.4,167 245.4,166.7 244.5,166.5 243.5,166.3 242.5,166 241.5,165.8 240.5,165.5 239.5,165.3 238.5,165 237.6,164.8 236.6,164.5 235.6,164.2 234.6,164 233.6,163.7 232.6,163.5 231.6,163.2 230.6,163 229.7,162.7 228.7,162.5 227.7,162.2 226.7,162 225.7,161.7 224.7,161.4 223.7,161.2 222.8,160.9 221.8,160.6 220.8,160.4 219.8,160.1 218.8,159.8 217.8,159.6 216.8,159.3 215.9,159.1 214.9,158.9 213.9,158.7 212.9,158.5 211.9,158.3 210.9,158.1 209.9,158 208.9,157.8 208,157.7 207,157.6 206,157.4 205,157.3" fill="#4cbdf5" />
<polygon points="224.8,161.4 225.8,161.7 226.8,162 227.8,162.2 228.7,162.5 229.7,162.8 230.7,163 231.7,163.3 232.7,163.5 233.7,163.4 234.6,163.2 235.6,162.8 236.6,162.3 237.6,161.7 238.6,161 239.6,160.4 240.6,159.7 241.5,159.2 242.5,158.8 243.5,158.6 244.5,158.6 245.5,158.9 246.5,159.5 247.4,160.2 248.4,161.2 249.4,162.3 250.4,163.4 251.4,164.6 252.4,165.7 253.4,166.7 254.3,167.6 255.3,168.5 256.3,169.2 257.3,169.6 258.3,169.8 259.3,170 260.2,170.2 261.2,170.4 262.2,170.6 263.2,170.7 263.2,170.7 262.2,170.6 261.2,170.4 260.2,170.2 259.3,170 258.3,169.8 257.3,169.6 256.3,169.3 255.3,169.1 254.3,168.9 253.4,168.6 252.4,168.4 251.4,168.2 250.4,167.9 249.4,167.7 248.4,167.5 247.4,167.2 246.5,167 245.5,166.8 244.5,166.5 243.5,166.3 242.5,166 241.5,165.8 240.6,165.5 239.6,165.3 238.6,165 237.6,164.8 236.6,164.5 235.6,164.3 234.6,164 233.7,163.8 232.7,163.5 231.7,163.3 230.7,163 229.7,162.8 228.7,162.5 227.8,162.2 226.8,162 225.8,161.7 224.8,161.4" fill="#f4a3a6" opacity="0.9"/>
<polyline points="205,158.2 206,158.2 207,158.3 208,158.3 208.9,158.3 209.9,158.4 210.9,158.4 211.9,158.4 212.9,158.3 213.9,158.2 214.9,157.9 215.9,157.4 216.8,156.8 217.8,156.1 218.8,155.5 219.8,154.7 220.8,153.8 221.8,152.7 222.8,151.5 223.7,150.3 224.7,149 225.7,147.8 226.7,146.7 227.7,145.9 228.7,145.3 229.7,145.1 230.6,145.2 231.6,145.5 232.6,146.4 233.6,147.4 234.6,148.6 235.6,149.9 236.6,151.2 237.6,152.6 238.5,154 239.5,155.4 240.5,156.7 241.5,158 242.5,159.2 243.5,160.3 244.5,161.4 245.4,162.3 246.4,163.2 247.4,163.9 248.4,164.6 249.4,165.3 250.4,165.8 251.4,166.3 252.3,166.8 253.3,167.2 254.3,167.6 255.3,168 256.3,168.3 257.3,168.7 258.3,169 259.3,169.2 260.2,169.6 261.2,170.2 262.2,170.7 263.2,171" fill="none" stroke="#1c60e0" stroke-width="1.3" stroke-linejoin="round" />
<polyline points="25,123.3 27,123.3 29,123.4 31,123.4 33,123.5 35,123.6 37,123.7 39,123.8 41,123.9 43,124 45,124.2 47,124.4 49,124.5 51,124.7 53,124.9 55,125.1 57,125.4 59,125.8 61,126.2 63,126.6 65,127.1 67,127.5 69,128 71,128.5 73,128.9 75,129.4 76.9,129.9 78.9,130.5 80.9,131 82.9,131.5 84.9,132.1 86.9,132.6 88.9,133.2 90.9,133.8 92.9,134.4 94.9,134.9 96.9,135.5 98.9,136 100.9,136.5 102.9,137 104.9,137.5 106.9,138 108.9,138.4 110.9,138.9 112.9,139.4 114.9,139.8 116.9,140.2 118.9,140.7 120.9,141.1 122.9,141.6 124.9,142 126.9,142.4 128.9,142.9 130.9,143.3 132.9,143.8 134.9,144.2 136.9,144.7 138.9,145.1 140.9,145.6 142.9,146.1 144.9,146.6 146.9,147.2 148.9,147.7 150.9,148.3 152.9,148.9 154.9,149.4 156.9,150 158.9,150.6 160.9,151.1 162.9,151.7 164.9,152.2 166.9,152.8 168.9,153.3 170.9,153.8 172.9,154.2 174.9,154.6 176.8,155 178.8,155.4 180.8,155.7 182.8,156 184.8,156.3 186.8,156.5 188.8,156.7 190.8,156.9 192.8,157.1 194.8,157.3 196.8,157.5 198.8,157.7 200.8,157.9 202.8,158.2 204.8,158.4 206.8,158.6 208.8,158.9 210.8,159.2 212.8,159.6 214.8,160 216.8,160.4 218.8,160.9 220.8,161.5 222.8,162 224.8,162.5 225.8,162.8" fill="none" stroke="#f01818" stroke-width="1.3" stroke-linejoin="round" />
<polyline points="224.8,162.5 225.8,162.8 226.8,163 227.8,163.2 228.7,163.4 229.7,163.5 230.7,163.6 231.7,163.7 232.7,163.6 233.7,163.4 234.6,163.2 235.6,162.8 236.6,162.3 237.6,161.7 238.6,161 239.6,160.4 240.6,159.7 241.5,159.2 242.5,158.8 243.5,158.6 244.5,158.6 245.5,158.9 246.5,159.5 247.4,160.2 248.4,161.2 249.4,162.3 250.4,163.4 251.4,164.6 252.4,165.7 253.4,166.7 254.3,167.6 255.3,168.5 256.3,169.2 257.3,169.8 258.3,170.3 259.3,170.7 260.2,171.1 261.2,171.4 262.2,171.6 263.2,171.8" fill="none" stroke="#f01818" stroke-width="1.4" stroke-linejoin="round" />
<polyline points="25,122.2 27,122.2 29,122.3 31,122.3 32.9,122.4 34.9,122.5 36.9,122.6 38.9,122.7 40.9,122.8 42.9,122.9 44.8,123.1 46.8,123.3 48.8,123.4 50.8,123.6 52.8,123.8 54.8,124 56.8,124.3 58.7,124.6 60.7,125 62.7,125.4 64.7,125.9 66.7,126.4 68.7,126.8 70.7,127.3 72.6,127.8 74.6,128.3 76.6,128.8 78.6,129.3 80.6,129.8 82.6,130.3 84.5,130.9 86.5,131.4 88.5,132 90.5,132.6 92.5,133.1 94.5,133.7 96.5,134.2 98.4,134.8 100.4,135.3 102.4,135.8 104.4,136.3 106.4,136.8 108.4,137.2 110.4,137.7 112.3,138.1 114.3,138.6 116.3,139 118.3,139.4 120.3,139.9 122.3,140.3 124.2,140.7 126.2,141.2 128.2,141.6 130.2,142.1 132.2,142.5 134.2,142.9 136.2,143.4 138.1,143.9 140.1,144.3 142.1,144.8 144.1,145.3 146.1,145.9 148.1,146.4 150.1,147 152,147.5 154,148.1 156,148.7 158,149.2 160,149.8 162,150.4 163.9,150.9 165.9,151.4 167.9,151.9 169.9,152.4 171.9,152.9 173.9,153.3 175.9,153.7 177.8,154.1 179.8,154.5 181.8,154.8 183.8,155 185.8,155.3 187.8,155.5 189.8,155.7 191.7,155.9 193.7,156.1 195.7,156.3 197.7,156.5 199.7,156.7 201.7,156.9 203.6,157.1 205.6,157.4 207.6,157.6 209.6,157.9 211.6,158.3 213.6,158.6 215.6,159.1 217.5,159.5 219.5,160 221.5,160.6 223.5,161.1 225.5,161.6 227.5,162.2 229.5,162.7 231.4,163.2 233.4,163.7 235.4,164.2 237.4,164.7 239.4,165.2 241.4,165.7 243.3,166.2 245.3,166.7 247.3,167.2 249.3,167.7 251.3,168.2 253.3,168.6 255.3,169.1 257.2,169.5 259.2,170 261.2,170.4 263.2,170.7" fill="none" stroke="#1c60e0" stroke-width="1.5" stroke-linejoin="round" />
<polyline points="25,121.7 26.5,121.8 28,121.9 29.5,122 31,122 32.5,122.1 34,122.2 35.5,122.3 37,122.4 38.5,122.4 40,122.5 41.5,122.6 43,122.7 44.5,122.8 46,122.9 47.5,123 49,123.1 50.5,123.1 52,123.2 53.5,123.2 55,123.1 56.5,122.9 58,122.5 59.5,121.9 61,121.3 62.5,120.6 64,120 65.4,119.3 66.9,118.7 68.4,118.2 69.9,117.7 71.4,117.2 72.9,116.7 74.4,116.2 75.9,115.9 77.4,115.6 78.9,115.5 80.4,115.6 81.9,115.8 83.4,116 84.9,116.4 86.4,116.8 87.9,117.2 89.4,117.7 90.9,118.4 92.4,119.3 93.9,120.5 95.4,121.9 96.9,123.2 98.4,124.5 99.9,125.4 101.4,126.1 102.9,126.7 104.4,127.3 105.9,127.8 107.4,128.3 108.9,128.7 110.4,129 111.9,129.3 113.4,129.4 114.9,129.5 116.4,129.4 117.9,129.3 119.4,129.2 120.9,129 122.4,128.8 123.9,128.6 125.4,128.4 126.9,128.1 128.4,127.8 129.9,127.3 131.4,126.8 132.9,126.3 134.4,125.8 135.9,125.3 137.4,124.9 138.9,124.7 140.4,124.7 141.9,124.8 143.4,125 144.8,125.3 146.3,125.8 147.8,126.3 149.3,126.9 150.8,127.5 152.3,128.4 153.8,129.7 155.3,131.1 156.8,132.8 158.3,134.6 159.8,136.4 161.3,138.1 162.8,139.9 164.3,141.8 165.8,143.6 167.3,145.4 168.8,147 170.3,148.2 171.8,149.3 173.3,150.3 174.8,151.3 176.3,152.1 177.8,152.8 179.3,153.4 180.8,154 182.3,154.5 183.8,154.9 185.3,155.4 186.8,155.8 188.3,156.1 189.8,156.4 191.3,156.6 192.8,156.8 194.3,157 195.8,157.1 197.3,157.3 198.8,157.4 200.3,157.5 201.8,157.6 203.3,157.7 204.8,157.8 206.3,157.8 207.8,157.9 209.3,157.9 210.8,158 212.3,158 213.8,157.8 215.3,157.3 216.8,156.5 218.3,155.4 219.8,154.2 221.3,152.8 222.8,151.1 224.2,149.2 225.7,147.4 227.2,145.8 228.7,144.9 230.2,144.7 231.7,145.1 233.2,145.9 234.7,146.8 236.2,147.8 237.7,149 239.2,150.3 240.7,151.9 242.2,153.5 243.7,155.1 245.2,156.6 246.7,158.2 248.2,159.7 249.7,161.2 251.2,162.5 252.7,163.8 254.2,164.9 255.7,166.1 257.2,167.2 258.7,168.2 260.2,169.2 261.7,170 263.2,170.6" fill="none" stroke="#111" stroke-width="1.7" stroke-linejoin="round" />
<polygon points="106.5,154.1 108,154.7 109.5,155.3 111,155.7 112.5,156 114,156.1 115.5,156.2 117,156.1 118.5,156 120,155.9 121.5,155.7 123,155.5 124.5,155.3 126,155 127.5,154.7 129,154.3 130.5,153.7 132,153.2 133.5,152.6 135,152 136.5,151.5 138,151.2 139.5,151 141,151 142.5,151.2 144,151.6 145.4,152.1 146.9,152.7 148.4,153.4 149.9,154.5 151.4,155.9 152.9,157.6 154.4,159.4 155.9,161.3 157.4,163.1 158.9,164.8 160.4,166.5 161.9,168.2 163.4,169.8 164.9,171.5 166.4,173 167.9,174.4 169.4,175.8 170.9,177.1 172.4,178.3 173.9,179.5 175.4,180.6 176.9,181.6 178.4,182.5 179.9,183.2 181.4,183.8 182.9,184.4 184.4,185 185.9,185.5 187.4,185.9 188.9,186.3 190.4,186.6 191.9,186.8 193.4,186.9 194.9,187 196.4,187 197.9,187.1 199.4,187.1 200.9,187.2 202.4,187.2 203.9,187.2 205.4,187.3 206.9,187.3 208.4,187.3 209.9,187.3 211.4,187.2 212.9,187 214.4,186.6 215.9,185.9 217.4,185 218.9,184 220.4,183 221.9,182.1 223.3,181 224.8,179.8 226.3,178.5 227.8,177.2 229.3,176 230.8,175 232.3,174.5 233.8,174.3 235.3,174.5 236.8,174.9 238.3,175.5 239.8,176.3 241.3,177.4 242.8,178.8 244.3,180.2 245.8,181.7 247.3,183.1 248.8,184.8 250.3,187.1 251.8,190.1 253.3,193.1 254.8,195.5 256.3,197.1 257.8,198.4 259.3,199.4 260.8,200 262.3,200.3 262.3,200.9 260.8,200.7 259.3,200.4 257.8,200.1 256.3,199.8 254.8,199.5 253.3,199.1 251.8,198.8 250.3,198.4 248.8,198 247.3,197.6 245.8,197.2 244.3,196.8 242.8,196.4 241.3,196 239.8,195.6 238.3,195.2 236.8,194.8 235.3,194.3 233.8,193.9 232.3,193.5 230.8,193.1 229.3,192.7 227.8,192.3 226.3,191.9 224.8,191.6 223.3,191.2 221.9,190.8 220.4,190.5 218.9,190.2 217.4,189.9 215.9,189.6 214.4,189.3 212.9,189 211.4,188.8 209.9,188.5 208.4,188.3 206.9,188.1 205.4,187.9 203.9,187.7 202.4,187.4 200.9,187.2 199.4,187.1 197.9,187.1 196.4,187 194.9,187 193.4,186.9 191.9,186.8 190.4,186.6 188.9,186.3 187.4,185.9 185.9,185.5 184.4,185.1 182.9,184.9 181.4,184.7 179.9,184.4 178.4,184.2 176.9,183.9 175.4,183.7 173.9,183.4 172.4,183.1 170.9,182.8 169.4,182.5 167.9,182.2 166.4,181.8 164.9,181.4 163.4,181.1 161.9,180.7 160.4,180.3 158.9,179.8 157.4,179.4 155.9,178.9 154.4,178.5 152.9,178 151.4,177.5 149.9,176.9 148.4,176.4 146.9,175.7 145.4,175.1 144,174.4 142.5,173.8 141,173.1 139.5,172.5 138,171.9 136.5,171.4 135,170.8 133.5,170.3 132,169.7 130.5,169.2 129,168.7 127.5,168.1 126,167.6 124.5,167.1 123,166.6 121.5,166.1 120,165.6 118.5,165.2 117,164.7 115.5,164.3 114,163.8 112.5,163.4 111,163 109.5,162.6 108,162.2 106.5,162" fill="#4cbdf5" />
<polyline points="25,149.2 26.5,149.3 28,149.4 29.5,149.4 31,149.5 32.5,149.5 34,149.6 35.4,149.6 36.9,149.6 38.4,149.6 39.9,149.6 41.4,149.6 42.9,149.5 44.4,149.4 45.9,149.3 47.4,149.2 48.9,149.1 50.4,149 51.9,148.8 53.4,148.7 54.8,148.5 56.3,148.3 57.8,148 59.3,147.7 60.8,147.3 62.3,146.9 63.8,146.5 65.3,146.1 66.8,145.8 68.3,145.4 69.8,145 71.3,144.5 72.8,144.1 74.3,143.6 75.7,143.1 77.2,142.8 78.7,142.6 80.2,142.5 81.7,142.5 83.2,142.7 84.7,142.9 86.2,143.3 87.7,143.7 89.2,144.1 90.7,144.6 92.2,145.4 93.7,146.3 95.1,147.5 96.6,148.7 98.1,149.8 99.6,150.7 101.1,151.5 102.6,152.3 104.1,153 105.6,153.7 107.1,154.4 108.6,155 110.1,155.5 111.6,155.8 113.1,156.1 114.5,156.2 116,156.2 117.5,156.1 119,156 120.5,155.8 122,155.6 123.5,155.4 125,155.2 126.5,154.9 128,154.6 129.5,154.1 131,153.6 132.5,153 133.9,152.4 135.4,151.8 136.9,151.4 138.4,151.1 139.9,151 141.4,151.1 142.9,151.3 144.4,151.7 145.9,152.3 147.4,152.9 148.9,153.7 150.4,154.9 151.9,156.3 153.4,158.1 154.8,159.9 156.3,161.8 157.8,163.6 159.3,165.2 160.8,166.9 162.3,168.6 163.8,170.2 165.3,171.8 166.8,173.4 168.3,174.8 169.8,176.1 171.3,177.4 172.8,178.6 174.2,179.8 175.7,180.9 177.2,181.8 178.7,182.7 180.2,183.4 181.7,184 183.2,184.5 184.7,185.1 186.2,185.5 187.7,186 189.2,186.3 190.7,186.6 192.2,186.8 193.6,186.9 195.1,187 196.6,187 198.1,187.1 199.6,187.1 201.1,187.2 202.6,187.2 204.1,187.2 205.6,187.3 207.1,187.3 208.6,187.3 210.1,187.3 211.6,187.2 213,187 214.5,186.5 216,185.8 217.5,184.9 219,183.9 220.5,182.9 222,182 223.5,180.9 225,179.7 226.5,178.4 228,177 229.5,175.9 231,175 232.5,174.4 233.9,174.3 235.4,174.5 236.9,174.9 238.4,175.5 239.9,176.3 241.4,177.5 242.9,178.8 244.4,180.3 245.9,181.7 247.4,183.2 248.9,184.9 250.4,187.2 251.9,190.1 253.3,193.1 254.8,195.5 256.3,197.1 257.8,198.4 259.3,199.4 260.8,200 262.3,200.3" fill="none" stroke="#1c60e0" stroke-width="1.7" stroke-linejoin="round" />
<line x1="140" y1="47" x2="140" y2="182" stroke="#333" stroke-width="1.1" stroke-dasharray="1.2,2.8"/>
<line x1="230.5" y1="68" x2="230.5" y2="193" stroke="#333" stroke-width="1.1" stroke-dasharray="1.2,2.8"/>
<line x1="246.4" y1="45" x2="246.4" y2="183" stroke="#333" stroke-width="1.1" stroke-dasharray="1.2,2.8"/>
<rect x="25" y="5.5" width="247" height="199.8" fill="none" stroke="#000" stroke-width="1.4"/>
<path d="M63.7,205.3v-3.5M102.4,205.3v-3.5M141.1,205.3v-3.5M179.8,205.3v-3.5M218.5,205.3v-3.5M257.2,205.3v-3.5M44.4,205.3v-2M83.1,205.3v-2M121.8,205.3v-2M160.5,205.3v-2M199.2,205.3v-2M237.8,205.3v-2" stroke="#000" stroke-width="1.2"/>
<text x="25" y="218.8" font-size="11" text-anchor="middle" style="font-family:'Liberation Serif',serif;font-weight:bold;stroke:#000;stroke-width:0.25px;" >960</text>
<text x="63.7" y="218.8" font-size="11" text-anchor="middle" style="font-family:'Liberation Serif',serif;font-weight:bold;stroke:#000;stroke-width:0.25px;" >955</text>
<text x="102.4" y="218.8" font-size="11" text-anchor="middle" style="font-family:'Liberation Serif',serif;font-weight:bold;stroke:#000;stroke-width:0.25px;" >950</text>
<text x="141.1" y="218.8" font-size="11" text-anchor="middle" style="font-family:'Liberation Serif',serif;font-weight:bold;stroke:#000;stroke-width:0.25px;" >945</text>
<text x="179.8" y="218.8" font-size="11" text-anchor="middle" style="font-family:'Liberation Serif',serif;font-weight:bold;stroke:#000;stroke-width:0.25px;" >940</text>
<text x="218.5" y="218.8" font-size="11" text-anchor="middle" style="font-family:'Liberation Serif',serif;font-weight:bold;stroke:#000;stroke-width:0.25px;" >935</text>
<text x="257.2" y="218.8" font-size="11" text-anchor="middle" style="font-family:'Liberation Serif',serif;font-weight:bold;stroke:#000;stroke-width:0.25px;" >930</text>
<text x="148.7" y="230.6" font-size="13" text-anchor="middle" style="font-family:'Liberation Serif',serif;font-weight:bold;stroke:#000;stroke-width:0.25px;" >Binding Energy (eV)</text>
<text x="0" y="0" font-size="13.2" text-anchor="middle" style="font-family:'Liberation Serif',serif;font-weight:bold;stroke:#000;stroke-width:0.25px;" transform="translate(16.2,104.2) rotate(-90)">Intensity (a.u.)</text>
<text x="3" y="15.5" font-size="16.3" text-anchor="start" style="font-family:'Liberation Serif',serif;font-weight:bold;stroke:#000;stroke-width:0.25px;" >(a)</text>
<text font-size="8.3" style="font-family:'Liberation Serif',serif;font-weight:bold;stroke:#000;stroke-width:0.25px;font-style:italic" transform="translate(26.6,35.4) rotate(9.3)">Cu<tspan font-size="5.6" dy="2">2</tspan><tspan dy="-2">O/α-MnO<tspan font-size="5.6" dy="2">2</tspan><tspan dy="-2"></tspan></text>
<text font-size="8.8" style="font-family:'Liberation Serif',serif;font-weight:bold;stroke:#000;stroke-width:0.25px;font-style:italic" transform="translate(26.8,67.7) rotate(9.3)">Cu<tspan font-size="6" dy="2">2</tspan><tspan dy="-2">O-CuO/α-MnO<tspan font-size="6" dy="2">2</tspan><tspan dy="-2">-240</tspan></text>
<text font-size="8.8" style="font-family:'Liberation Serif',serif;font-weight:bold;stroke:#000;stroke-width:0.25px;font-style:italic" transform="translate(26.8,100.2) rotate(9.3)">Cu<tspan font-size="6" dy="2">2</tspan><tspan dy="-2">O-CuO/α-MnO<tspan font-size="6" dy="2">2</tspan><tspan dy="-2">-260</tspan></text>
<text font-size="8.8" style="font-family:'Liberation Serif',serif;font-weight:bold;stroke:#000;stroke-width:0.25px;font-style:italic" transform="translate(26.8,131) rotate(9.3)">Cu<tspan font-size="6" dy="2">2</tspan><tspan dy="-2">O-CuO/α-MnO<tspan font-size="6" dy="2">2</tspan><tspan dy="-2">-280</tspan></text>
<text font-size="8.8" style="font-family:'Liberation Serif',serif;font-weight:bold;stroke:#000;stroke-width:0.25px;font-style:italic" transform="translate(27.2,161.3) rotate(9.3)">CuO/α-MnO<tspan font-size="6" dy="2">2</tspan><tspan dy="-2">-500</tspan></text>
<text x="136" y="18.8" font-size="9.6" text-anchor="start" style="font-family:'Liberation Serif',serif;font-weight:bold;stroke:#000;stroke-width:0.25px;" >Cu2p<tspan font-size="9" dy="2.5">1/2</tspan><tspan dy="-2.5"></tspan></text>
<text x="190.7" y="37.2" font-size="9.6" text-anchor="start" style="font-family:'Liberation Serif',serif;font-weight:bold;stroke:#000;stroke-width:0.25px;" >Cu2p<tspan font-size="9" dy="2.5">3/2</tspan><tspan dy="-2.5"></tspan></text>
<text x="232" y="37.6" font-size="8.9" text-anchor="start" style="font-family:'Liberation Serif',serif;font-weight:bold;stroke:#000;stroke-width:0.25px;" >931.38 eV</text>
<text x="128.5" y="44.1" font-size="9.35" text-anchor="start" style="font-family:'Liberation Serif',serif;font-weight:bold;stroke:#000;stroke-width:0.25px;" >Satelite Peak</text>
<text x="82" y="194.5" font-size="9.33" text-anchor="start" style="font-family:'Liberation Serif',serif;font-weight:bold;stroke:#000;stroke-width:0.25px;" >944.78-945.28 eV</text>
<text x="172.8" y="198.9" font-size="9.3" text-anchor="start" style="font-family:'Liberation Serif',serif;font-weight:bold;stroke:#000;stroke-width:0.25px;" >933.08-933.82 eV</text>
<line x1="125" y1="16" x2="99.9" y2="21.9" stroke="#000" stroke-width="1.2"/>
<polygon points="95,23 99.4,19.7 100.4,24" fill="#000"/>
<line x1="213.9" y1="40.9" x2="228.1" y2="48.3" stroke="#000" stroke-width="1.2"/>
<polygon points="232.5,50.6 227,50.2 229.1,46.3" fill="#000"/>
<polygon points="425,45.9 426,45.9 427,45.8 428,45.8 429,45.7 430,45.6 431,45.5 432,45.4 433,45.3 434,45.2 435,45.1 436,45 437,44.9 438,44.8 439,44.6 440,44.5 441,44.4 442,44.2 443,44.1 444,43.9 445,43.8 446,43.6 447,43.4 448,43.3 449,43.1 450,42.9 451,42.7 452,42.6 453,42.4 454,42.2 455,42 456,41.8 457,41.7 458,41.5 459,41.3 460,41.2 461,41 462,40.9 463,40.7 464,40.6 465,40.5 466,40.4 467,40.3 468,40.2 469,40.1 470,40 471,39.9 472,39.9 473,39.8 474,39.8 475,39.8 476,39.8 477,39.8 478,39.9 479,40 480,40.2 481,40.5 482,40.7 483,41.1 484,41.4 485,41.8 486,42.2 487,42.7 488,43.1 489,43.5 490,43.9 491,44.3 492,44.7 493,45.1 494,45.4 495,45.7 496,46 497,46.2 498,46.4 499,46.6 500,46.8 501,47 502,47.1 503,47.2 504,47.3 505,47.4 506,47.4 507,47.5 508,47.5 509,47.6 510,47.6 511,47.6 512,47.7 513,47.7 514,47.7 515,47.7 516,47.7 517,47.8 518,47.8 519,47.8 520,47.8 521,47.8 522,47.8 523,47.8 524,47.9 525,47.9 526,47.9 527,47.9 528,47.9 529,47.9 530,47.9 531,47.9 532,47.9 533,48 534,48 535,48 536,48 537,48 538,48 539,48 540,48 541,48.1 542,48.1 543,48.1 544,48.1 545,48.1 545,48.1 544,48.1 543,48.1 542,48.1 541,48.1 540,48 539,48 538,48 537,48 536,48 535,48 534,48 533,48 532,47.9 531,47.9 530,47.9 529,47.9 528,47.9 527,47.9 526,47.9 525,47.9 524,47.9 523,47.8 522,47.8 521,47.8 520,47.8 519,47.8 518,47.8 517,47.8 516,47.8 515,47.7 514,47.7 513,47.7 512,47.7 511,47.7 510,47.7 509,47.7 508,47.7 507,47.7 506,47.6 505,47.6 504,47.6 503,47.6 502,47.6 501,47.6 500,47.6 499,47.6 498,47.5 497,47.5 496,47.5 495,47.5 494,47.5 493,47.5 492,47.5 491,47.5 490,47.5 489,47.4 488,47.4 487,47.4 486,47.4 485,47.4 484,47.4 483,47.4 482,47.4 481,47.3 480,47.3 479,47.3 478,47.3 477,47.3 476,47.3 475,47.3 474,47.3 473,47.3 472,47.2 471,47.2 470,47.2 469,47.2 468,47.2 467,47.2 466,47.2 465,47.2 464,47.2 463,47.1 462,47.1 461,47.1 460,47.1 459,47.1 458,47.1 457,47.1 456,47.1 455,47 454,47 453,47 452,47 451,47 450,47 449,47 448,47 447,47 446,46.9 445,46.9 444,46.9 443,46.9 442,46.9 441,46.9 440,46.9 439,46.9 438,46.8 437,46.8 436,46.8 435,46.8 434,46.8 433,46.8 432,46.8 431,46.8 430,46.8 429,46.7 428,46.7 427,46.7 426,46.7 425,46.7" fill="#8ccdf3" />
<polygon points="425,46.7 426,46.7 427,46.7 428,46.7 429,46.7 430,46.8 431,46.8 432,46.8 433,46.8 434,46.8 435,46.8 436,46.8 437,46.8 438,46.8 439,46.9 440,46.9 441,46.9 442,46.9 443,46.9 444,46.9 445,46.9 446,46.9 447,47 448,47 449,47 450,47 451,47 452,47 453,47 454,47 455,47 456,47.1 457,47.1 458,47.1 459,47.1 460,47.1 461,47.1 462,47.1 463,47.1 464,47.2 465,47.2 466,47.2 467,47.2 468,47.2 469,47.2 470,47.2 471,47.2 472,47.2 473,47.2 474,47.1 475,47 476,46.9 477,46.7 478,46.4 479,46 480,45.5 481,44.8 482,43.8 483,42.7 484,41.3 485,39.7 486,37.8 487,35.7 488,33.5 489,31.2 490,29 491,27 492,25.2 493,23.7 494,22.8 495,22.3 496,22.5 497,23.1 498,24.3 499,25.9 500,27.9 501,30 502,32.3 503,34.6 504,36.8 505,38.8 506,40.6 507,42.2 508,43.5 509,44.6 510,45.4 511,46.1 512,46.6 513,47 514,47.2 515,47.4 516,47.5 517,47.6 518,47.7 519,47.7 520,47.8 521,47.8 522,47.8 523,47.8 524,47.9 525,47.9 526,47.9 527,47.9 528,47.9 529,47.9 530,47.9 531,47.9 532,47.9 533,48 534,48 535,48 536,48 537,48 538,48 539,48 540,48 541,48.1 542,48.1 543,48.1 544,48.1 545,48.1 545,48.1 544,48.1 543,48.1 542,48.1 541,48.1 540,48 539,48 538,48 537,48 536,48 535,48 534,48 533,48 532,47.9 531,47.9 530,47.9 529,47.9 528,47.9 527,47.9 526,47.9 525,47.9 524,47.9 523,47.8 522,47.8 521,47.8 520,47.8 519,47.8 518,47.8 517,47.8 516,47.8 515,47.7 514,47.7 513,47.7 512,47.7 511,47.7 510,47.7 509,47.7 508,47.7 507,47.7 506,47.6 505,47.6 504,47.6 503,47.6 502,47.6 501,47.6 500,47.6 499,47.6 498,47.5 497,47.5 496,47.5 495,47.5 494,47.5 493,47.5 492,47.5 491,47.5 490,47.5 489,47.4 488,47.4 487,47.4 486,47.4 485,47.4 484,47.4 483,47.4 482,47.4 481,47.3 480,47.3 479,47.3 478,47.3 477,47.3 476,47.3 475,47.3 474,47.3 473,47.3 472,47.2 471,47.2 470,47.2 469,47.2 468,47.2 467,47.2 466,47.2 465,47.2 464,47.2 463,47.1 462,47.1 461,47.1 460,47.1 459,47.1 458,47.1 457,47.1 456,47.1 455,47 454,47 453,47 452,47 451,47 450,47 449,47 448,47 447,47 446,46.9 445,46.9 444,46.9 443,46.9 442,46.9 441,46.9 440,46.9 439,46.9 438,46.8 437,46.8 436,46.8 435,46.8 434,46.8 433,46.8 432,46.8 431,46.8 430,46.8 429,46.7 428,46.7 427,46.7 426,46.7 425,46.7" fill="#f9c3c3" opacity="0.92"/>
<polyline points="441,44.4 442,44.2 443,44.1 444,43.9 445,43.8 446,43.6 447,43.4 448,43.3 449,43.1 450,42.9 451,42.7 452,42.6 453,42.4 454,42.2 455,42 456,41.8 457,41.7 458,41.5 459,41.3 460,41.2 461,41 462,40.9 463,40.7 464,40.6 465,40.5 466,40.4 467,40.3 468,40.2 469,40.1 470,40 471,39.9 472,39.9 473,39.8 474,39.8 475,39.8 476,39.8 477,39.8 478,39.9 479,40 480,40.2 481,40.5 482,40.7 483,41.1 484,41.4 485,41.8 486,42.2 487,42.7 488,43.1 489,43.5 490,43.9 491,44.3 492,44.7 493,45.1 494,45.4 495,45.7 496,46 497,46.2 498,46.4 499,46.6 500,46.8 501,47 502,47.1 503,47.2 504,47.3 505,47.4 506,47.4 507,47.5 508,47.5 509,47.6 510,47.6 511,47.6 512,47.7 513,47.7 514,47.7 515,47.7 516,47.7 517,47.8 518,47.8 519,47.8 520,47.8 521,47.8 522,47.8 523,47.8 524,47.9 525,47.9 526,47.9 527,47.9 528,47.9 529,47.9 530,47.9 531,47.9 532,47.9 533,48 534,48 535,48 536,48 537,48 538,48 539,48 540,48 541,48.1 542,48.1 543,48.1 544,48.1 545,48.1" fill="none" stroke="#1c60e0" stroke-width="1.5" stroke-linejoin="round" />
<polyline points="420,46.6 421,46.6 422,46.7 423,46.7 424,46.7 425,46.7 426,46.7 427,46.7 428,46.7 429,46.7 430,46.8 431,46.8 432,46.8 433,46.8 434,46.8 435,46.8 436,46.8 437,46.8 438,46.8 439,46.9 440,46.9 441,46.9 442,46.9 443,46.9 444,46.9 445,46.9 446,46.9 447,47 448,47 449,47 450,47 451,47 452,47 453,47 454,47 455,47 456,47.1 457,47.1 458,47.1 459,47.1 460,47.1 461,47.1 462,47.1 463,47.1 464,47.2 465,47.2 466,47.2 467,47.2 468,47.2 469,47.2 470,47.2 471,47.2 472,47.2 473,47.2 474,47.1 475,47 476,46.9 477,46.7 478,46.4 479,46 480,45.5 481,44.8 482,43.8 483,42.7 484,41.3 485,39.7 486,37.8 487,35.7 488,33.5 489,31.2 490,29 491,27 492,25.2 493,23.7 494,22.8 495,22.3 496,22.5 497,23.1 498,24.3 499,25.9 500,27.9 501,30 502,32.3 503,34.6 504,36.8 505,38.8 506,40.6 507,42.2 508,43.5 509,44.6 510,45.4 511,46.1 512,46.6 513,47 514,47.2 515,47.4 516,47.5 517,47.6 518,47.7 519,47.7 520,47.8 521,47.8 522,47.8 523,47.8 524,47.9 525,47.9 526,47.9 527,47.9 528,47.9 529,47.9 530,47.9 531,47.9 532,47.9 533,48 534,48 535,48 536,48 537,48 538,48 539,48 540,48 541,48.1 542,48.1 543,48.1 544,48.1 545,48.1" fill="none" stroke="#f01818" stroke-width="1.6" stroke-linejoin="round" />
<polyline points="297.6,45.2 299.1,45.2 300.6,45.2 302.1,45.3 303.6,45.3 305.1,45.3 306.6,45.3 308.1,45.3 309.6,45.3 311.1,45.4 312.6,45.4 314.1,45.4 315.6,45.4 317.1,45.4 318.6,45.4 320.1,45.5 321.6,45.5 323.1,45.5 324.6,45.5 326.1,45.5 327.6,45.5 329.1,45.6 330.6,45.6 332.1,45.6 333.6,45.6 335.1,45.6 336.6,45.7 338.1,45.7 339.6,45.7 341.1,45.7 342.6,45.7 344.1,45.7 345.6,45.8 347.1,45.8 348.6,45.8 350.1,45.8 351.6,45.8 353.1,45.8 354.6,45.9 356.1,45.9 357.6,45.9 359.1,45.9 360.6,45.9 362.1,45.9 363.6,45.9 365.1,46 366.6,46 368.1,46 369.6,46 371.1,46 372.6,46 374.1,46 375.6,46 377.1,46.1 378.6,46.1 380.1,46.1 381.6,46.1 383.1,46.1 384.6,46.1 386.1,46.1 387.6,46.1 389.1,46.1 390.6,46.1 392.1,46.1 393.6,46.1 395.1,46.1 396.6,46.1 398.1,46.1 399.6,46.1 401.1,46.1 402.6,46.1 404.1,46.1 405.6,46.1 407.1,46.1 408.6,46.1 410.1,46 411.6,46 413.1,46 414.6,45.9 416.1,45.9 417.6,45.8 419.1,45.8 420.6,45.7 422,45.6 423.5,45.6 425,45.5 426.5,45.3 428,45.2 429.5,45.1 431,45 432.5,44.8 434,44.6 435.5,44.5 437,44.3 438.5,44.1 440,43.8 441.5,43.6 443,43.4 444.5,43.1 446,42.9 447.5,42.6 449,42.3 450.5,42.1 452,41.8 453.5,41.5 455,41.2 456.5,41 458,40.7 459.5,40.5 461,40.2 462.5,40 464,39.8 465.5,39.6 467,39.4 468.5,39.3 470,39.2 471.5,39 473,38.9 474.5,38.7 476,38.5 477.5,38.2 479,37.7 480.5,37 482,36 483.5,34.5 485,32.5 486.5,30 488,27.2 489.5,24.2 491,21.5 492.5,19.4 494,18.2 495.5,18.2 497,19.4 498.5,21.8 500,25 501.5,28.7 503,32.5 504.5,36.1 506,39.2 507.5,41.7 509,43.6 510.5,45 512,45.9 513.5,46.5 515,46.9 516.5,47.2 518,47.3 519.5,47.4 521,47.5 522.5,47.5 524,47.6 525.5,47.6 527,47.6 528.5,47.7 530,47.7 531.5,47.7 533,47.8 534.5,47.8 536,47.8 537.5,47.9 539,47.9 540.5,47.9 542,47.9 543.5,48 545,48" fill="none" stroke="#111" stroke-width="1.8" stroke-linejoin="round" />
<text x="306.3" y="41.7" font-size="9.3" text-anchor="start" style="font-family:'Liberation Serif',serif;font-weight:bold;stroke:#000;stroke-width:0.25px;" >Cu<tspan font-size="6" dy="1.5">2</tspan><tspan dy="-1.5">O/<tspan style="font-style:italic">α</tspan>-MnO<tspan font-size="6" dy="1.5">2</tspan><tspan dy="-1.5"></tspan></tspan></text>
<polygon points="425,84.5 426,84.5 427,84.5 428,84.4 429,84.4 430,84.3 431,84.3 432,84.2 433,84.2 434,84.1 435,84.1 436,84 437,83.9 438,83.9 439,83.8 440,83.7 441,83.6 442,83.5 443,83.5 444,83.4 445,83.3 446,83.2 447,83.1 448,83 449,82.9 450,82.8 451,82.7 452,82.6 453,82.5 454,82.4 455,82.3 456,82.1 457,82 458,81.9 459,81.9 460,81.8 461,81.7 462,81.6 463,81.5 464,81.4 465,81.3 466,81.3 467,81.2 468,81.2 469,81.1 470,81.1 471,81 472,81 473,81 474,81 475,81 476,81 477,81 478,81 479,81.1 480,81.2 481,81.4 482,81.5 483,81.7 484,82 485,82.2 486,82.5 487,82.7 488,83 489,83.2 490,83.5 491,83.7 492,83.9 493,84.2 494,84.4 495,84.5 496,84.7 497,84.9 498,85 499,85.1 500,85.2 501,85.3 502,85.4 503,85.5 504,85.5 505,85.6 506,85.6 507,85.7 508,85.7 509,85.7 510,85.7 511,85.8 512,85.8 513,85.8 514,85.8 515,85.8 516,85.8 517,85.8 518,85.8 519,85.9 520,85.9 521,85.9 522,85.9 523,85.9 524,85.9 525,85.9 526,85.9 527,85.9 528,85.9 529,86 530,86 531,86 532,86 533,86 534,86 535,86 536,86 537,86 538,86 539,86 540,86.1 541,86.1 542,86.1 543,86.1 544,86.1 545,86.1 545,86.1 544,86.1 543,86.1 542,86.1 541,86.1 540,86.1 539,86 538,86 537,86 536,86 535,86 534,86 533,86 532,86 531,86 530,86 529,86 528,85.9 527,85.9 526,85.9 525,85.9 524,85.9 523,85.9 522,85.9 521,85.9 520,85.9 519,85.9 518,85.8 517,85.8 516,85.8 515,85.8 514,85.8 513,85.8 512,85.8 511,85.8 510,85.8 509,85.8 508,85.8 507,85.7 506,85.7 505,85.7 504,85.7 503,85.7 502,85.7 501,85.7 500,85.7 499,85.7 498,85.7 497,85.7 496,85.6 495,85.6 494,85.6 493,85.6 492,85.6 491,85.6 490,85.6 489,85.6 488,85.6 487,85.6 486,85.6 485,85.5 484,85.5 483,85.5 482,85.5 481,85.5 480,85.5 479,85.5 478,85.5 477,85.5 476,85.5 475,85.4 474,85.4 473,85.4 472,85.4 471,85.4 470,85.4 469,85.4 468,85.4 467,85.4 466,85.4 465,85.4 464,85.3 463,85.3 462,85.3 461,85.3 460,85.3 459,85.3 458,85.3 457,85.3 456,85.3 455,85.3 454,85.3 453,85.2 452,85.2 451,85.2 450,85.2 449,85.2 448,85.2 447,85.2 446,85.2 445,85.2 444,85.2 443,85.2 442,85.1 441,85.1 440,85.1 439,85.1 438,85.1 437,85.1 436,85.1 435,85.1 434,85.1 433,85.1 432,85 431,85 430,85 429,85 428,85 427,85 426,85 425,85" fill="#8ccdf3" />
<polygon points="425,85 426,85 427,85 428,85 429,85 430,85 431,85 432,85 433,85.1 434,85.1 435,85.1 436,85.1 437,85.1 438,85.1 439,85.1 440,85.1 441,85.1 442,85.1 443,85.2 444,85.2 445,85.2 446,85.2 447,85.2 448,85.2 449,85.2 450,85.2 451,85.2 452,85.2 453,85.2 454,85.3 455,85.3 456,85.3 457,85.3 458,85.3 459,85.3 460,85.3 461,85.3 462,85.3 463,85.3 464,85.3 465,85.4 466,85.4 467,85.4 468,85.4 469,85.4 470,85.4 471,85.4 472,85.4 473,85.3 474,85.3 475,85.2 476,85 477,84.8 478,84.5 479,84 480,83.4 481,82.7 482,81.6 483,80.4 484,78.8 485,77 486,74.9 487,72.7 488,70.2 489,67.7 490,65.3 491,63 492,61 493,59.4 494,58.3 495,57.9 496,58 497,58.7 498,60 499,61.8 500,63.9 501,66.3 502,68.8 503,71.3 504,73.8 505,76 506,78 507,79.7 508,81.1 509,82.3 510,83.3 511,84 512,84.5 513,85 514,85.2 515,85.5 516,85.6 517,85.7 518,85.8 519,85.8 520,85.8 521,85.9 522,85.9 523,85.9 524,85.9 525,85.9 526,85.9 527,85.9 528,85.9 529,86 530,86 531,86 532,86 533,86 534,86 535,86 536,86 537,86 538,86 539,86 540,86.1 541,86.1 542,86.1 543,86.1 544,86.1 545,86.1 545,86.1 544,86.1 543,86.1 542,86.1 541,86.1 540,86.1 539,86 538,86 537,86 536,86 535,86 534,86 533,86 532,86 531,86 530,86 529,86 528,85.9 527,85.9 526,85.9 525,85.9 524,85.9 523,85.9 522,85.9 521,85.9 520,85.9 519,85.9 518,85.8 517,85.8 516,85.8 515,85.8 514,85.8 513,85.8 512,85.8 511,85.8 510,85.8 509,85.8 508,85.8 507,85.7 506,85.7 505,85.7 504,85.7 503,85.7 502,85.7 501,85.7 500,85.7 499,85.7 498,85.7 497,85.7 496,85.6 495,85.6 494,85.6 493,85.6 492,85.6 491,85.6 490,85.6 489,85.6 488,85.6 487,85.6 486,85.6 485,85.5 484,85.5 483,85.5 482,85.5 481,85.5 480,85.5 479,85.5 478,85.5 477,85.5 476,85.5 475,85.4 474,85.4 473,85.4 472,85.4 471,85.4 470,85.4 469,85.4 468,85.4 467,85.4 466,85.4 465,85.4 464,85.3 463,85.3 462,85.3 461,85.3 460,85.3 459,85.3 458,85.3 457,85.3 456,85.3 455,85.3 454,85.3 453,85.2 452,85.2 451,85.2 450,85.2 449,85.2 448,85.2 447,85.2 446,85.2 445,85.2 444,85.2 443,85.2 442,85.1 441,85.1 440,85.1 439,85.1 438,85.1 437,85.1 436,85.1 435,85.1 434,85.1 433,85.1 432,85 431,85 430,85 429,85 428,85 427,85 426,85 425,85" fill="#f9c3c3" opacity="0.92"/>
<polyline points="441,83.6 442,83.5 443,83.5 444,83.4 445,83.3 446,83.2 447,83.1 448,83 449,82.9 450,82.8 451,82.7 452,82.6 453,82.5 454,82.4 455,82.3 456,82.1 457,82 458,81.9 459,81.9 460,81.8 461,81.7 462,81.6 463,81.5 464,81.4 465,81.3 466,81.3 467,81.2 468,81.2 469,81.1 470,81.1 471,81 472,81 473,81 474,81 475,81 476,81 477,81 478,81 479,81.1 480,81.2 481,81.4 482,81.5 483,81.7 484,82 485,82.2 486,82.5 487,82.7 488,83 489,83.2 490,83.5 491,83.7 492,83.9 493,84.2 494,84.4 495,84.5 496,84.7 497,84.9 498,85 499,85.1 500,85.2 501,85.3 502,85.4 503,85.5 504,85.5 505,85.6 506,85.6 507,85.7 508,85.7 509,85.7 510,85.7 511,85.8 512,85.8 513,85.8 514,85.8 515,85.8 516,85.8 517,85.8 518,85.8 519,85.9 520,85.9 521,85.9 522,85.9 523,85.9 524,85.9 525,85.9 526,85.9 527,85.9 528,85.9 529,86 530,86 531,86 532,86 533,86 534,86 535,86 536,86 537,86 538,86 539,86 540,86.1 541,86.1 542,86.1 543,86.1 544,86.1 545,86.1" fill="none" stroke="#1c60e0" stroke-width="1.5" stroke-linejoin="round" />
<polyline points="420,84.9 421,84.9 422,85 423,85 424,85 425,85 426,85 427,85 428,85 429,85 430,85 431,85 432,85 433,85.1 434,85.1 435,85.1 436,85.1 437,85.1 438,85.1 439,85.1 440,85.1 441,85.1 442,85.1 443,85.2 444,85.2 445,85.2 446,85.2 447,85.2 448,85.2 449,85.2 450,85.2 451,85.2 452,85.2 453,85.2 454,85.3 455,85.3 456,85.3 457,85.3 458,85.3 459,85.3 460,85.3 461,85.3 462,85.3 463,85.3 464,85.3 465,85.4 466,85.4 467,85.4 468,85.4 469,85.4 470,85.4 471,85.4 472,85.4 473,85.3 474,85.3 475,85.2 476,85 477,84.8 478,84.5 479,84 480,83.4 481,82.7 482,81.6 483,80.4 484,78.8 485,77 486,74.9 487,72.7 488,70.2 489,67.7 490,65.3 491,63 492,61 493,59.4 494,58.3 495,57.9 496,58 497,58.7 498,60 499,61.8 500,63.9 501,66.3 502,68.8 503,71.3 504,73.8 505,76 506,78 507,79.7 508,81.1 509,82.3 510,83.3 511,84 512,84.5 513,85 514,85.2 515,85.5 516,85.6 517,85.7 518,85.8 519,85.8 520,85.8 521,85.9 522,85.9 523,85.9 524,85.9 525,85.9 526,85.9 527,85.9 528,85.9 529,86 530,86 531,86 532,86 533,86 534,86 535,86 536,86 537,86 538,86 539,86 540,86.1 541,86.1 542,86.1 543,86.1 544,86.1 545,86.1" fill="none" stroke="#f01818" stroke-width="1.6" stroke-linejoin="round" />
<polyline points="297.6,83.8 299.1,83.8 300.6,83.8 302.1,83.8 303.6,83.9 305.1,83.9 306.6,83.9 308.1,83.9 309.6,83.9 311.1,83.9 312.6,83.9 314.1,84 315.6,84 317.1,84 318.6,84 320.1,84 321.6,84 323.1,84 324.6,84 326.1,84.1 327.6,84.1 329.1,84.1 330.6,84.1 332.1,84.1 333.6,84.1 335.1,84.1 336.6,84.2 338.1,84.2 339.6,84.2 341.1,84.2 342.6,84.2 344.1,84.2 345.6,84.2 347.1,84.2 348.6,84.3 350.1,84.3 351.6,84.3 353.1,84.3 354.6,84.3 356.1,84.3 357.6,84.3 359.1,84.3 360.6,84.4 362.1,84.4 363.6,84.4 365.1,84.4 366.6,84.4 368.1,84.4 369.6,84.4 371.1,84.4 372.6,84.4 374.1,84.5 375.6,84.5 377.1,84.5 378.6,84.5 380.1,84.5 381.6,84.5 383.1,84.5 384.6,84.5 386.1,84.5 387.6,84.5 389.1,84.5 390.6,84.5 392.1,84.5 393.6,84.5 395.1,84.5 396.6,84.5 398.1,84.5 399.6,84.5 401.1,84.5 402.6,84.5 404.1,84.5 405.6,84.5 407.1,84.5 408.6,84.5 410.1,84.4 411.6,84.4 413.1,84.4 414.6,84.4 416.1,84.3 417.6,84.3 419.1,84.3 420.6,84.2 422,84.2 423.5,84.1 425,84 426.5,84 428,83.9 429.5,83.8 431,83.7 432.5,83.6 434,83.5 435.5,83.4 437,83.3 438.5,83.2 440,83 441.5,82.9 443,82.8 444.5,82.6 446,82.5 447.5,82.3 449,82.1 450.5,82 452,81.8 453.5,81.6 455,81.5 456.5,81.3 458,81.2 459.5,81 461,80.9 462.5,80.7 464,80.6 465.5,80.5 467,80.4 468.5,80.3 470,80.2 471.5,80.2 473,80.1 474.5,79.9 476,79.7 477.5,79.3 479,78.8 480.5,78 482,76.7 483.5,74.9 485,72.6 486.5,69.7 488,66.4 489.5,62.9 491,59.7 492.5,57.2 494,55.7 495.5,55.5 497,56.6 498.5,59 500,62.3 501.5,66.2 503,70.1 504.5,73.9 506,77.1 507.5,79.7 509,81.7 510.5,83.1 512,84 513.5,84.7 515,85 516.5,85.3 518,85.4 519.5,85.5 521,85.6 522.5,85.6 524,85.6 525.5,85.7 527,85.7 528.5,85.7 530,85.7 531.5,85.8 533,85.8 534.5,85.8 536,85.9 537.5,85.9 539,85.9 540.5,85.9 542,85.9 543.5,86 545,86" fill="none" stroke="#111" stroke-width="1.8" stroke-linejoin="round" />
<text x="306.3" y="78.7" font-size="9.3" text-anchor="start" style="font-family:'Liberation Serif',serif;font-weight:bold;stroke:#000;stroke-width:0.25px;" >Cu<tspan font-size="6" dy="1.5">2</tspan><tspan dy="-1.5">O-CuO/<tspan style="font-style:italic">α</tspan>-MnO<tspan font-size="6" dy="1.5">2</tspan><tspan dy="-1.5">-240</tspan></tspan></text>
<polygon points="425,125.4 426,125.3 427,125.3 428,125.3 429,125.2 430,125.1 431,125.1 432,125 433,124.9 434,124.9 435,124.8 436,124.7 437,124.6 438,124.5 439,124.4 440,124.4 441,124.2 442,124.1 443,124 444,123.9 445,123.8 446,123.7 447,123.6 448,123.4 449,123.3 450,123.2 451,123.1 452,122.9 453,122.8 454,122.7 455,122.5 456,122.4 457,122.3 458,122.2 459,122 460,121.9 461,121.8 462,121.7 463,121.6 464,121.5 465,121.4 466,121.3 467,121.3 468,121.2 469,121.1 470,121.1 471,121 472,121 473,121 474,120.9 475,120.9 476,120.9 477,120.9 478,121 479,121.1 480,121.2 481,121.4 482,121.6 483,121.9 484,122.1 485,122.4 486,122.7 487,123 488,123.4 489,123.7 490,124 491,124.3 492,124.5 493,124.8 494,125.1 495,125.3 496,125.5 497,125.7 498,125.8 499,126 500,126.1 501,126.2 502,126.3 503,126.4 504,126.5 505,126.5 506,126.6 507,126.6 508,126.6 509,126.7 510,126.7 511,126.7 512,126.7 513,126.8 514,126.8 515,126.8 516,126.8 517,126.8 518,126.8 519,126.8 520,126.9 521,126.9 522,126.9 523,126.9 524,126.9 525,126.9 526,126.9 527,126.9 528,126.9 529,126.9 530,127 531,127 532,127 533,127 534,127 535,127 536,127 537,127 538,127 539,127 540,127.1 541,127.1 542,127.1 543,127.1 544,127.1 545,127.1 545,127.1 544,127.1 543,127.1 542,127.1 541,127.1 540,127.1 539,127 538,127 537,127 536,127 535,127 534,127 533,127 532,127 531,127 530,127 529,126.9 528,126.9 527,126.9 526,126.9 525,126.9 524,126.9 523,126.9 522,126.9 521,126.9 520,126.9 519,126.8 518,126.8 517,126.8 516,126.8 515,126.8 514,126.8 513,126.8 512,126.8 511,126.8 510,126.8 509,126.8 508,126.7 507,126.7 506,126.7 505,126.7 504,126.7 503,126.7 502,126.7 501,126.7 500,126.7 499,126.7 498,126.6 497,126.6 496,126.6 495,126.6 494,126.6 493,126.6 492,126.6 491,126.6 490,126.6 489,126.6 488,126.5 487,126.5 486,126.5 485,126.5 484,126.5 483,126.5 482,126.5 481,126.5 480,126.5 479,126.5 478,126.5 477,126.4 476,126.4 475,126.4 474,126.4 473,126.4 472,126.4 471,126.4 470,126.4 469,126.4 468,126.4 467,126.3 466,126.3 465,126.3 464,126.3 463,126.3 462,126.3 461,126.3 460,126.3 459,126.3 458,126.3 457,126.2 456,126.2 455,126.2 454,126.2 453,126.2 452,126.2 451,126.2 450,126.2 449,126.2 448,126.2 447,126.1 446,126.1 445,126.1 444,126.1 443,126.1 442,126.1 441,126.1 440,126.1 439,126.1 438,126.1 437,126.1 436,126 435,126 434,126 433,126 432,126 431,126 430,126 429,126 428,126 427,126 426,125.9 425,125.9" fill="#8ccdf3" />
<polygon points="425,125.9 426,125.9 427,126 428,126 429,126 430,126 431,126 432,126 433,126 434,126 435,126 436,126 437,126.1 438,126.1 439,126.1 440,126.1 441,126.1 442,126.1 443,126.1 444,126.1 445,126.1 446,126.1 447,126.1 448,126.2 449,126.2 450,126.2 451,126.2 452,126.2 453,126.2 454,126.2 455,126.2 456,126.2 457,126.2 458,126.3 459,126.3 460,126.3 461,126.3 462,126.3 463,126.3 464,126.3 465,126.3 466,126.3 467,126.3 468,126.3 469,126.3 470,126.3 471,126.3 472,126.3 473,126.3 474,126.2 475,126.1 476,125.9 477,125.7 478,125.4 479,124.9 480,124.2 481,123.3 482,122.2 483,120.8 484,119.1 485,117.1 486,114.8 487,112.2 488,109.5 489,106.8 490,104 491,101.5 492,99.3 493,97.6 494,96.4 495,95.8 496,96 497,96.8 498,98.2 499,100.2 500,102.6 501,105.2 502,108 503,110.8 504,113.4 505,115.9 506,118.1 507,120 508,121.6 509,122.9 510,124 511,124.8 512,125.4 513,125.8 514,126.2 515,126.4 516,126.6 517,126.7 518,126.7 519,126.8 520,126.8 521,126.8 522,126.9 523,126.9 524,126.9 525,126.9 526,126.9 527,126.9 528,126.9 529,126.9 530,127 531,127 532,127 533,127 534,127 535,127 536,127 537,127 538,127 539,127 540,127.1 541,127.1 542,127.1 543,127.1 544,127.1 545,127.1 545,127.1 544,127.1 543,127.1 542,127.1 541,127.1 540,127.1 539,127 538,127 537,127 536,127 535,127 534,127 533,127 532,127 531,127 530,127 529,126.9 528,126.9 527,126.9 526,126.9 525,126.9 524,126.9 523,126.9 522,126.9 521,126.9 520,126.9 519,126.8 518,126.8 517,126.8 516,126.8 515,126.8 514,126.8 513,126.8 512,126.8 511,126.8 510,126.8 509,126.8 508,126.7 507,126.7 506,126.7 505,126.7 504,126.7 503,126.7 502,126.7 501,126.7 500,126.7 499,126.7 498,126.6 497,126.6 496,126.6 495,126.6 494,126.6 493,126.6 492,126.6 491,126.6 490,126.6 489,126.6 488,126.5 487,126.5 486,126.5 485,126.5 484,126.5 483,126.5 482,126.5 481,126.5 480,126.5 479,126.5 478,126.5 477,126.4 476,126.4 475,126.4 474,126.4 473,126.4 472,126.4 471,126.4 470,126.4 469,126.4 468,126.4 467,126.3 466,126.3 465,126.3 464,126.3 463,126.3 462,126.3 461,126.3 460,126.3 459,126.3 458,126.3 457,126.2 456,126.2 455,126.2 454,126.2 453,126.2 452,126.2 451,126.2 450,126.2 449,126.2 448,126.2 447,126.1 446,126.1 445,126.1 444,126.1 443,126.1 442,126.1 441,126.1 440,126.1 439,126.1 438,126.1 437,126.1 436,126 435,126 434,126 433,126 432,126 431,126 430,126 429,126 428,126 427,126 426,125.9 425,125.9" fill="#f9c3c3" opacity="0.92"/>
<polyline points="441,124.2 442,124.1 443,124 444,123.9 445,123.8 446,123.7 447,123.6 448,123.4 449,123.3 450,123.2 451,123.1 452,122.9 453,122.8 454,122.7 455,122.5 456,122.4 457,122.3 458,122.2 459,122 460,121.9 461,121.8 462,121.7 463,121.6 464,121.5 465,121.4 466,121.3 467,121.3 468,121.2 469,121.1 470,121.1 471,121 472,121 473,121 474,120.9 475,120.9 476,120.9 477,120.9 478,121 479,121.1 480,121.2 481,121.4 482,121.6 483,121.9 484,122.1 485,122.4 486,122.7 487,123 488,123.4 489,123.7 490,124 491,124.3 492,124.5 493,124.8 494,125.1 495,125.3 496,125.5 497,125.7 498,125.8 499,126 500,126.1 501,126.2 502,126.3 503,126.4 504,126.5 505,126.5 506,126.6 507,126.6 508,126.6 509,126.7 510,126.7 511,126.7 512,126.7 513,126.8 514,126.8 515,126.8 516,126.8 517,126.8 518,126.8 519,126.8 520,126.9 521,126.9 522,126.9 523,126.9 524,126.9 525,126.9 526,126.9 527,126.9 528,126.9 529,126.9 530,127 531,127 532,127 533,127 534,127 535,127 536,127 537,127 538,127 539,127 540,127.1 541,127.1 542,127.1 543,127.1 544,127.1 545,127.1" fill="none" stroke="#1c60e0" stroke-width="1.5" stroke-linejoin="round" />
<polyline points="420,125.9 421,125.9 422,125.9 423,125.9 424,125.9 425,125.9 426,125.9 427,126 428,126 429,126 430,126 431,126 432,126 433,126 434,126 435,126 436,126 437,126.1 438,126.1 439,126.1 440,126.1 441,126.1 442,126.1 443,126.1 444,126.1 445,126.1 446,126.1 447,126.1 448,126.2 449,126.2 450,126.2 451,126.2 452,126.2 453,126.2 454,126.2 455,126.2 456,126.2 457,126.2 458,126.3 459,126.3 460,126.3 461,126.3 462,126.3 463,126.3 464,126.3 465,126.3 466,126.3 467,126.3 468,126.3 469,126.3 470,126.3 471,126.3 472,126.3 473,126.3 474,126.2 475,126.1 476,125.9 477,125.7 478,125.4 479,124.9 480,124.2 481,123.3 482,122.2 483,120.8 484,119.1 485,117.1 486,114.8 487,112.2 488,109.5 489,106.8 490,104 491,101.5 492,99.3 493,97.6 494,96.4 495,95.8 496,96 497,96.8 498,98.2 499,100.2 500,102.6 501,105.2 502,108 503,110.8 504,113.4 505,115.9 506,118.1 507,120 508,121.6 509,122.9 510,124 511,124.8 512,125.4 513,125.8 514,126.2 515,126.4 516,126.6 517,126.7 518,126.7 519,126.8 520,126.8 521,126.8 522,126.9 523,126.9 524,126.9 525,126.9 526,126.9 527,126.9 528,126.9 529,126.9 530,127 531,127 532,127 533,127 534,127 535,127 536,127 537,127 538,127 539,127 540,127.1 541,127.1 542,127.1 543,127.1 544,127.1 545,127.1" fill="none" stroke="#f01818" stroke-width="1.6" stroke-linejoin="round" />
<polyline points="297.6,124.7 299.1,124.7 300.6,124.7 302.1,124.7 303.6,124.8 305.1,124.8 306.6,124.8 308.1,124.8 309.6,124.8 311.1,124.8 312.6,124.8 314.1,124.9 315.6,124.9 317.1,124.9 318.6,124.9 320.1,124.9 321.6,124.9 323.1,124.9 324.6,125 326.1,125 327.6,125 329.1,125 330.6,125 332.1,125 333.6,125 335.1,125.1 336.6,125.1 338.1,125.1 339.6,125.1 341.1,125.1 342.6,125.1 344.1,125.1 345.6,125.2 347.1,125.2 348.6,125.2 350.1,125.2 351.6,125.2 353.1,125.2 354.6,125.2 356.1,125.2 357.6,125.3 359.1,125.3 360.6,125.3 362.1,125.3 363.6,125.3 365.1,125.3 366.6,125.3 368.1,125.3 369.6,125.4 371.1,125.4 372.6,125.4 374.1,125.4 375.6,125.4 377.1,125.4 378.6,125.4 380.1,125.4 381.6,125.4 383.1,125.4 384.6,125.4 386.1,125.4 387.6,125.4 389.1,125.4 390.6,125.5 392.1,125.5 393.6,125.5 395.1,125.5 396.6,125.5 398.1,125.5 399.6,125.4 401.1,125.4 402.6,125.4 404.1,125.4 405.6,125.4 407.1,125.4 408.6,125.4 410.1,125.4 411.6,125.3 413.1,125.3 414.6,125.3 416.1,125.2 417.6,125.2 419.1,125.2 420.6,125.1 422,125 423.5,125 425,124.9 426.5,124.8 428,124.7 429.5,124.6 431,124.5 432.5,124.4 434,124.3 435.5,124.1 437,124 438.5,123.8 440,123.7 441.5,123.5 443,123.3 444.5,123.2 446,123 447.5,122.8 449,122.6 450.5,122.4 452,122.2 453.5,122 455,121.8 456.5,121.6 458,121.4 459.5,121.2 461,121 462.5,120.9 464,120.7 465.5,120.6 467,120.5 468.5,120.3 470,120.3 471.5,120.2 473,120.1 474.5,119.9 476,119.7 477.5,119.3 479,118.7 480.5,117.9 482,116.6 483.5,114.7 485,112.2 486.5,109.1 488,105.6 489.5,101.9 491,98.5 492.5,95.8 494,94.2 495.5,94 497,95.3 498.5,97.9 500,101.5 501.5,105.7 503,110 504.5,114 506,117.5 507.5,120.3 509,122.5 510.5,124 512,125 513.5,125.6 515,126 516.5,126.3 518,126.4 519.5,126.5 521,126.5 522.5,126.6 524,126.6 525.5,126.7 527,126.7 528.5,126.7 530,126.7 531.5,126.8 533,126.8 534.5,126.8 536,126.8 537.5,126.9 539,126.9 540.5,126.9 542,126.9 543.5,127 545,127" fill="none" stroke="#111" stroke-width="1.8" stroke-linejoin="round" />
<text x="306.3" y="120.7" font-size="9.3" text-anchor="start" style="font-family:'Liberation Serif',serif;font-weight:bold;stroke:#000;stroke-width:0.25px;" >Cu<tspan font-size="6" dy="1.5">2</tspan><tspan dy="-1.5">O-CuO/<tspan style="font-style:italic">α</tspan>-MnO<tspan font-size="6" dy="1.5">2</tspan><tspan dy="-1.5">-260</tspan></tspan></text>
<polygon points="425,161.4 426,161.3 427,161.3 428,161.2 429,161.2 430,161.1 431,161.1 432,161 433,160.9 434,160.8 435,160.8 436,160.7 437,160.6 438,160.5 439,160.4 440,160.3 441,160.2 442,160.1 443,159.9 444,159.8 445,159.7 446,159.6 447,159.4 448,159.3 449,159.2 450,159 451,158.9 452,158.7 453,158.6 454,158.5 455,158.3 456,158.2 457,158.1 458,157.9 459,157.8 460,157.7 461,157.5 462,157.4 463,157.3 464,157.2 465,157.1 466,157 467,156.9 468,156.9 469,156.8 470,156.7 471,156.7 472,156.6 473,156.6 474,156.6 475,156.6 476,156.6 477,156.6 478,156.7 479,156.8 480,156.9 481,157.1 482,157.4 483,157.6 484,157.9 485,158.2 486,158.6 487,158.9 488,159.3 489,159.6 490,159.9 491,160.3 492,160.6 493,160.8 494,161.1 495,161.4 496,161.6 497,161.8 498,162 499,162.1 500,162.3 501,162.4 502,162.5 503,162.6 504,162.7 505,162.7 506,162.8 507,162.8 508,162.9 509,162.9 510,162.9 511,163 512,163 513,163 514,163 515,163 516,163.1 517,163.1 518,163.1 519,163.1 520,163.1 521,163.1 522,163.1 523,163.1 524,163.2 525,163.2 526,163.2 527,163.2 528,163.2 529,163.2 530,163.2 531,163.2 532,163.2 533,163.3 534,163.3 535,163.3 536,163.3 537,163.3 538,163.3 539,163.3 540,163.3 541,163.4 542,163.4 543,163.4 544,163.4 545,163.4 545,163.4 544,163.4 543,163.4 542,163.4 541,163.4 540,163.3 539,163.3 538,163.3 537,163.3 536,163.3 535,163.3 534,163.3 533,163.3 532,163.2 531,163.2 530,163.2 529,163.2 528,163.2 527,163.2 526,163.2 525,163.2 524,163.2 523,163.1 522,163.1 521,163.1 520,163.1 519,163.1 518,163.1 517,163.1 516,163.1 515,163 514,163 513,163 512,163 511,163 510,163 509,163 508,163 507,163 506,162.9 505,162.9 504,162.9 503,162.9 502,162.9 501,162.9 500,162.9 499,162.9 498,162.8 497,162.8 496,162.8 495,162.8 494,162.8 493,162.8 492,162.8 491,162.8 490,162.8 489,162.7 488,162.7 487,162.7 486,162.7 485,162.7 484,162.7 483,162.7 482,162.7 481,162.6 480,162.6 479,162.6 478,162.6 477,162.6 476,162.6 475,162.6 474,162.6 473,162.6 472,162.5 471,162.5 470,162.5 469,162.5 468,162.5 467,162.5 466,162.5 465,162.5 464,162.5 463,162.4 462,162.4 461,162.4 460,162.4 459,162.4 458,162.4 457,162.4 456,162.4 455,162.3 454,162.3 453,162.3 452,162.3 451,162.3 450,162.3 449,162.3 448,162.3 447,162.3 446,162.2 445,162.2 444,162.2 443,162.2 442,162.2 441,162.2 440,162.2 439,162.2 438,162.1 437,162.1 436,162.1 435,162.1 434,162.1 433,162.1 432,162.1 431,162.1 430,162.1 429,162 428,162 427,162 426,162 425,162" fill="#8ccdf3" />
<polygon points="425,162 426,162 427,162 428,162 429,162 430,162.1 431,162.1 432,162.1 433,162.1 434,162.1 435,162.1 436,162.1 437,162.1 438,162.1 439,162.2 440,162.2 441,162.2 442,162.2 443,162.2 444,162.2 445,162.2 446,162.2 447,162.3 448,162.3 449,162.3 450,162.3 451,162.3 452,162.3 453,162.3 454,162.3 455,162.3 456,162.4 457,162.4 458,162.4 459,162.4 460,162.4 461,162.4 462,162.4 463,162.4 464,162.5 465,162.5 466,162.5 467,162.5 468,162.5 469,162.5 470,162.5 471,162.5 472,162.5 473,162.4 474,162.4 475,162.3 476,162.2 477,161.9 478,161.6 479,161.2 480,160.6 481,159.8 482,158.8 483,157.6 484,156.1 485,154.3 486,152.2 487,150 488,147.5 489,145.1 490,142.6 491,140.4 492,138.4 493,136.9 494,135.8 495,135.3 496,135.5 497,136.2 498,137.5 499,139.3 500,141.4 501,143.7 502,146.2 503,148.7 504,151.1 505,153.3 506,155.3 507,157 508,158.4 509,159.6 510,160.5 511,161.2 512,161.8 513,162.2 514,162.5 515,162.7 516,162.8 517,162.9 518,163 519,163 520,163.1 521,163.1 522,163.1 523,163.1 524,163.2 525,163.2 526,163.2 527,163.2 528,163.2 529,163.2 530,163.2 531,163.2 532,163.2 533,163.3 534,163.3 535,163.3 536,163.3 537,163.3 538,163.3 539,163.3 540,163.3 541,163.4 542,163.4 543,163.4 544,163.4 545,163.4 545,163.4 544,163.4 543,163.4 542,163.4 541,163.4 540,163.3 539,163.3 538,163.3 537,163.3 536,163.3 535,163.3 534,163.3 533,163.3 532,163.2 531,163.2 530,163.2 529,163.2 528,163.2 527,163.2 526,163.2 525,163.2 524,163.2 523,163.1 522,163.1 521,163.1 520,163.1 519,163.1 518,163.1 517,163.1 516,163.1 515,163 514,163 513,163 512,163 511,163 510,163 509,163 508,163 507,163 506,162.9 505,162.9 504,162.9 503,162.9 502,162.9 501,162.9 500,162.9 499,162.9 498,162.8 497,162.8 496,162.8 495,162.8 494,162.8 493,162.8 492,162.8 491,162.8 490,162.8 489,162.7 488,162.7 487,162.7 486,162.7 485,162.7 484,162.7 483,162.7 482,162.7 481,162.6 480,162.6 479,162.6 478,162.6 477,162.6 476,162.6 475,162.6 474,162.6 473,162.6 472,162.5 471,162.5 470,162.5 469,162.5 468,162.5 467,162.5 466,162.5 465,162.5 464,162.5 463,162.4 462,162.4 461,162.4 460,162.4 459,162.4 458,162.4 457,162.4 456,162.4 455,162.3 454,162.3 453,162.3 452,162.3 451,162.3 450,162.3 449,162.3 448,162.3 447,162.3 446,162.2 445,162.2 444,162.2 443,162.2 442,162.2 441,162.2 440,162.2 439,162.2 438,162.1 437,162.1 436,162.1 435,162.1 434,162.1 433,162.1 432,162.1 431,162.1 430,162.1 429,162 428,162 427,162 426,162 425,162" fill="#f9c3c3" opacity="0.92"/>
<polyline points="441,160.2 442,160.1 443,159.9 444,159.8 445,159.7 446,159.6 447,159.4 448,159.3 449,159.2 450,159 451,158.9 452,158.7 453,158.6 454,158.5 455,158.3 456,158.2 457,158.1 458,157.9 459,157.8 460,157.7 461,157.5 462,157.4 463,157.3 464,157.2 465,157.1 466,157 467,156.9 468,156.9 469,156.8 470,156.7 471,156.7 472,156.6 473,156.6 474,156.6 475,156.6 476,156.6 477,156.6 478,156.7 479,156.8 480,156.9 481,157.1 482,157.4 483,157.6 484,157.9 485,158.2 486,158.6 487,158.9 488,159.3 489,159.6 490,159.9 491,160.3 492,160.6 493,160.8 494,161.1 495,161.4 496,161.6 497,161.8 498,162 499,162.1 500,162.3 501,162.4 502,162.5 503,162.6 504,162.7 505,162.7 506,162.8 507,162.8 508,162.9 509,162.9 510,162.9 511,163 512,163 513,163 514,163 515,163 516,163.1 517,163.1 518,163.1 519,163.1 520,163.1 521,163.1 522,163.1 523,163.1 524,163.2 525,163.2 526,163.2 527,163.2 528,163.2 529,163.2 530,163.2 531,163.2 532,163.2 533,163.3 534,163.3 535,163.3 536,163.3 537,163.3 538,163.3 539,163.3 540,163.3 541,163.4 542,163.4 543,163.4 544,163.4 545,163.4" fill="none" stroke="#1c60e0" stroke-width="1.5" stroke-linejoin="round" />
<polyline points="420,161.9 421,161.9 422,162 423,162 424,162 425,162 426,162 427,162 428,162 429,162 430,162.1 431,162.1 432,162.1 433,162.1 434,162.1 435,162.1 436,162.1 437,162.1 438,162.1 439,162.2 440,162.2 441,162.2 442,162.2 443,162.2 444,162.2 445,162.2 446,162.2 447,162.3 448,162.3 449,162.3 450,162.3 451,162.3 452,162.3 453,162.3 454,162.3 455,162.3 456,162.4 457,162.4 458,162.4 459,162.4 460,162.4 461,162.4 462,162.4 463,162.4 464,162.5 465,162.5 466,162.5 467,162.5 468,162.5 469,162.5 470,162.5 471,162.5 472,162.5 473,162.4 474,162.4 475,162.3 476,162.2 477,161.9 478,161.6 479,161.2 480,160.6 481,159.8 482,158.8 483,157.6 484,156.1 485,154.3 486,152.2 487,150 488,147.5 489,145.1 490,142.6 491,140.4 492,138.4 493,136.9 494,135.8 495,135.3 496,135.5 497,136.2 498,137.5 499,139.3 500,141.4 501,143.7 502,146.2 503,148.7 504,151.1 505,153.3 506,155.3 507,157 508,158.4 509,159.6 510,160.5 511,161.2 512,161.8 513,162.2 514,162.5 515,162.7 516,162.8 517,162.9 518,163 519,163 520,163.1 521,163.1 522,163.1 523,163.1 524,163.2 525,163.2 526,163.2 527,163.2 528,163.2 529,163.2 530,163.2 531,163.2 532,163.2 533,163.3 534,163.3 535,163.3 536,163.3 537,163.3 538,163.3 539,163.3 540,163.3 541,163.4 542,163.4 543,163.4 544,163.4 545,163.4" fill="none" stroke="#f01818" stroke-width="1.6" stroke-linejoin="round" />
<polyline points="297.6,160.5 299.1,160.5 300.6,160.5 302.1,160.6 303.6,160.6 305.1,160.6 306.6,160.6 308.1,160.6 309.6,160.6 311.1,160.7 312.6,160.7 314.1,160.7 315.6,160.7 317.1,160.7 318.6,160.7 320.1,160.8 321.6,160.8 323.1,160.8 324.6,160.8 326.1,160.8 327.6,160.8 329.1,160.9 330.6,160.9 332.1,160.9 333.6,160.9 335.1,160.9 336.6,161 338.1,161 339.6,161 341.1,161 342.6,161 344.1,161 345.6,161.1 347.1,161.1 348.6,161.1 350.1,161.1 351.6,161.1 353.1,161.1 354.6,161.2 356.1,161.2 357.6,161.2 359.1,161.2 360.6,161.2 362.1,161.2 363.6,161.2 365.1,161.3 366.6,161.3 368.1,161.3 369.6,161.3 371.1,161.3 372.6,161.3 374.1,161.3 375.6,161.3 377.1,161.4 378.6,161.4 380.1,161.4 381.6,161.4 383.1,161.4 384.6,161.4 386.1,161.4 387.6,161.4 389.1,161.4 390.6,161.4 392.1,161.4 393.6,161.4 395.1,161.4 396.6,161.5 398.1,161.5 399.6,161.5 401.1,161.4 402.6,161.4 404.1,161.4 405.6,161.4 407.1,161.4 408.6,161.4 410.1,161.4 411.6,161.4 413.1,161.3 414.6,161.3 416.1,161.3 417.6,161.2 419.1,161.2 420.6,161.1 422,161.1 423.5,161 425,160.9 426.5,160.8 428,160.7 429.5,160.6 431,160.5 432.5,160.4 434,160.3 435.5,160.1 437,160 438.5,159.8 440,159.6 441.5,159.4 443,159.2 444.5,159 446,158.8 447.5,158.6 449,158.4 450.5,158.2 452,158 453.5,157.8 455,157.5 456.5,157.3 458,157.1 459.5,156.9 461,156.7 462.5,156.6 464,156.4 465.5,156.3 467,156.1 468.5,156 470,155.9 471.5,155.8 473,155.7 474.5,155.5 476,155.3 477.5,154.9 479,154.3 480.5,153.5 482,152.3 483.5,150.6 485,148.2 486.5,145.4 488,142.1 489.5,138.7 491,135.6 492.5,133.1 494,131.7 495.5,131.6 497,132.8 498.5,135.3 500,138.7 501.5,142.7 503,146.7 504.5,150.6 506,153.9 507.5,156.6 509,158.6 510.5,160.1 512,161.1 513.5,161.8 515,162.2 516.5,162.5 518,162.6 519.5,162.7 521,162.8 522.5,162.8 524,162.9 525.5,162.9 527,162.9 528.5,163 530,163 531.5,163 533,163.1 534.5,163.1 536,163.1 537.5,163.2 539,163.2 540.5,163.2 542,163.2 543.5,163.3 545,163.3" fill="none" stroke="#111" stroke-width="1.8" stroke-linejoin="round" />
<text x="306.3" y="157.2" font-size="9.3" text-anchor="start" style="font-family:'Liberation Serif',serif;font-weight:bold;stroke:#000;stroke-width:0.25px;" >Cu<tspan font-size="6" dy="1.5">2</tspan><tspan dy="-1.5">O-CuO/<tspan style="font-style:italic">α</tspan>-MnO<tspan font-size="6" dy="1.5">2</tspan><tspan dy="-1.5">-280</tspan></tspan></text>
<polygon points="425,197.2 426,197.1 427,197.1 428,197 429,197 430,196.9 431,196.8 432,196.8 433,196.7 434,196.6 435,196.6 436,196.5 437,196.4 438,196.3 439,196.2 440,196.1 441,196 442,195.9 443,195.8 444,195.6 445,195.5 446,195.4 447,195.3 448,195.1 449,195 450,194.9 451,194.7 452,194.6 453,194.4 454,194.3 455,194.2 456,194 457,193.9 458,193.8 459,193.6 460,193.5 461,193.4 462,193.3 463,193.2 464,193.1 465,193 466,192.9 467,192.8 468,192.7 469,192.7 470,192.6 471,192.6 472,192.5 473,192.5 474,192.5 475,192.5 476,192.5 477,192.5 478,192.6 479,192.7 480,192.9 481,193.1 482,193.3 483,193.6 484,193.9 485,194.2 486,194.5 487,194.9 488,195.2 489,195.5 490,195.9 491,196.2 492,196.5 493,196.8 494,197.1 495,197.3 496,197.5 497,197.7 498,197.9 499,198.1 500,198.2 501,198.4 502,198.5 503,198.6 504,198.6 505,198.7 506,198.8 507,198.8 508,198.9 509,198.9 510,198.9 511,199 512,199 513,199 514,199 515,199.1 516,199.1 517,199.1 518,199.1 519,199.1 520,199.1 521,199.1 522,199.2 523,199.2 524,199.2 525,199.2 526,199.2 527,199.2 528,199.3 529,199.3 530,199.3 531,199.3 532,199.3 533,199.3 534,199.3 535,199.4 536,199.4 537,199.4 538,199.4 539,199.4 540,199.4 541,199.4 542,199.5 543,199.5 544,199.5 545,199.5 545,199.5 544,199.5 543,199.5 542,199.5 541,199.4 540,199.4 539,199.4 538,199.4 537,199.4 536,199.4 535,199.4 534,199.3 533,199.3 532,199.3 531,199.3 530,199.3 529,199.3 528,199.3 527,199.2 526,199.2 525,199.2 524,199.2 523,199.2 522,199.2 521,199.2 520,199.1 519,199.1 518,199.1 517,199.1 516,199.1 515,199.1 514,199 513,199 512,199 511,199 510,199 509,199 508,199 507,198.9 506,198.9 505,198.9 504,198.9 503,198.9 502,198.9 501,198.9 500,198.8 499,198.8 498,198.8 497,198.8 496,198.8 495,198.8 494,198.8 493,198.7 492,198.7 491,198.7 490,198.7 489,198.7 488,198.7 487,198.7 486,198.6 485,198.6 484,198.6 483,198.6 482,198.6 481,198.6 480,198.6 479,198.5 478,198.5 477,198.5 476,198.5 475,198.5 474,198.5 473,198.5 472,198.4 471,198.4 470,198.4 469,198.4 468,198.4 467,198.4 466,198.4 465,198.3 464,198.3 463,198.3 462,198.3 461,198.3 460,198.3 459,198.2 458,198.2 457,198.2 456,198.2 455,198.2 454,198.2 453,198.2 452,198.1 451,198.1 450,198.1 449,198.1 448,198.1 447,198.1 446,198.1 445,198 444,198 443,198 442,198 441,198 440,198 439,198 438,197.9 437,197.9 436,197.9 435,197.9 434,197.9 433,197.9 432,197.9 431,197.8 430,197.8 429,197.8 428,197.8 427,197.8 426,197.8 425,197.8" fill="#8ccdf3" />
<polygon points="425,197.8 426,197.8 427,197.8 428,197.8 429,197.8 430,197.8 431,197.8 432,197.9 433,197.9 434,197.9 435,197.9 436,197.9 437,197.9 438,197.9 439,198 440,198 441,198 442,198 443,198 444,198 445,198 446,198.1 447,198.1 448,198.1 449,198.1 450,198.1 451,198.1 452,198.1 453,198.2 454,198.2 455,198.2 456,198.2 457,198.2 458,198.2 459,198.2 460,198.3 461,198.3 462,198.3 463,198.3 464,198.3 465,198.3 466,198.3 467,198.4 468,198.4 469,198.4 470,198.4 471,198.4 472,198.4 473,198.3 474,198.3 475,198.2 476,198 477,197.8 478,197.5 479,197 480,196.4 481,195.5 482,194.5 483,193.1 484,191.5 485,189.5 486,187.3 487,184.9 488,182.3 489,179.7 490,177.1 491,174.6 492,172.5 493,170.8 494,169.7 495,169.2 496,169.3 497,170.1 498,171.5 499,173.4 500,175.7 501,178.2 502,180.9 503,183.6 504,186.2 505,188.5 506,190.7 507,192.5 508,194.1 509,195.3 510,196.3 511,197.1 512,197.7 513,198.1 514,198.4 515,198.7 516,198.8 517,198.9 518,199 519,199.1 520,199.1 521,199.1 522,199.2 523,199.2 524,199.2 525,199.2 526,199.2 527,199.2 528,199.3 529,199.3 530,199.3 531,199.3 532,199.3 533,199.3 534,199.3 535,199.4 536,199.4 537,199.4 538,199.4 539,199.4 540,199.4 541,199.4 542,199.5 543,199.5 544,199.5 545,199.5 545,199.5 544,199.5 543,199.5 542,199.5 541,199.4 540,199.4 539,199.4 538,199.4 537,199.4 536,199.4 535,199.4 534,199.3 533,199.3 532,199.3 531,199.3 530,199.3 529,199.3 528,199.3 527,199.2 526,199.2 525,199.2 524,199.2 523,199.2 522,199.2 521,199.2 520,199.1 519,199.1 518,199.1 517,199.1 516,199.1 515,199.1 514,199 513,199 512,199 511,199 510,199 509,199 508,199 507,198.9 506,198.9 505,198.9 504,198.9 503,198.9 502,198.9 501,198.9 500,198.8 499,198.8 498,198.8 497,198.8 496,198.8 495,198.8 494,198.8 493,198.7 492,198.7 491,198.7 490,198.7 489,198.7 488,198.7 487,198.7 486,198.6 485,198.6 484,198.6 483,198.6 482,198.6 481,198.6 480,198.6 479,198.5 478,198.5 477,198.5 476,198.5 475,198.5 474,198.5 473,198.5 472,198.4 471,198.4 470,198.4 469,198.4 468,198.4 467,198.4 466,198.4 465,198.3 464,198.3 463,198.3 462,198.3 461,198.3 460,198.3 459,198.2 458,198.2 457,198.2 456,198.2 455,198.2 454,198.2 453,198.2 452,198.1 451,198.1 450,198.1 449,198.1 448,198.1 447,198.1 446,198.1 445,198 444,198 443,198 442,198 441,198 440,198 439,198 438,197.9 437,197.9 436,197.9 435,197.9 434,197.9 433,197.9 432,197.9 431,197.8 430,197.8 429,197.8 428,197.8 427,197.8 426,197.8 425,197.8" fill="#f9c3c3" opacity="0.92"/>
<polyline points="441,196 442,195.9 443,195.8 444,195.6 445,195.5 446,195.4 447,195.3 448,195.1 449,195 450,194.9 451,194.7 452,194.6 453,194.4 454,194.3 455,194.2 456,194 457,193.9 458,193.8 459,193.6 460,193.5 461,193.4 462,193.3 463,193.2 464,193.1 465,193 466,192.9 467,192.8 468,192.7 469,192.7 470,192.6 471,192.6 472,192.5 473,192.5 474,192.5 475,192.5 476,192.5 477,192.5 478,192.6 479,192.7 480,192.9 481,193.1 482,193.3 483,193.6 484,193.9 485,194.2 486,194.5 487,194.9 488,195.2 489,195.5 490,195.9 491,196.2 492,196.5 493,196.8 494,197.1 495,197.3 496,197.5 497,197.7 498,197.9 499,198.1 500,198.2 501,198.4 502,198.5 503,198.6 504,198.6 505,198.7 506,198.8 507,198.8 508,198.9 509,198.9 510,198.9 511,199 512,199 513,199 514,199 515,199.1 516,199.1 517,199.1 518,199.1 519,199.1 520,199.1 521,199.1 522,199.2 523,199.2 524,199.2 525,199.2 526,199.2 527,199.2 528,199.3 529,199.3 530,199.3 531,199.3 532,199.3 533,199.3 534,199.3 535,199.4 536,199.4 537,199.4 538,199.4 539,199.4 540,199.4 541,199.4 542,199.5 543,199.5 544,199.5 545,199.5" fill="none" stroke="#1c60e0" stroke-width="1.5" stroke-linejoin="round" />
<polyline points="420,197.7 421,197.7 422,197.7 423,197.7 424,197.7 425,197.8 426,197.8 427,197.8 428,197.8 429,197.8 430,197.8 431,197.8 432,197.9 433,197.9 434,197.9 435,197.9 436,197.9 437,197.9 438,197.9 439,198 440,198 441,198 442,198 443,198 444,198 445,198 446,198.1 447,198.1 448,198.1 449,198.1 450,198.1 451,198.1 452,198.1 453,198.2 454,198.2 455,198.2 456,198.2 457,198.2 458,198.2 459,198.2 460,198.3 461,198.3 462,198.3 463,198.3 464,198.3 465,198.3 466,198.3 467,198.4 468,198.4 469,198.4 470,198.4 471,198.4 472,198.4 473,198.3 474,198.3 475,198.2 476,198 477,197.8 478,197.5 479,197 480,196.4 481,195.5 482,194.5 483,193.1 484,191.5 485,189.5 486,187.3 487,184.9 488,182.3 489,179.7 490,177.1 491,174.6 492,172.5 493,170.8 494,169.7 495,169.2 496,169.3 497,170.1 498,171.5 499,173.4 500,175.7 501,178.2 502,180.9 503,183.6 504,186.2 505,188.5 506,190.7 507,192.5 508,194.1 509,195.3 510,196.3 511,197.1 512,197.7 513,198.1 514,198.4 515,198.7 516,198.8 517,198.9 518,199 519,199.1 520,199.1 521,199.1 522,199.2 523,199.2 524,199.2 525,199.2 526,199.2 527,199.2 528,199.3 529,199.3 530,199.3 531,199.3 532,199.3 533,199.3 534,199.3 535,199.4 536,199.4 537,199.4 538,199.4 539,199.4 540,199.4 541,199.4 542,199.5 543,199.5 544,199.5 545,199.5" fill="none" stroke="#f01818" stroke-width="1.6" stroke-linejoin="round" />
<polyline points="297.6,195.9 299.1,195.9 300.6,195.9 302.1,196 303.6,196 305.1,196 306.6,196 308.1,196.1 309.6,196.1 311.1,196.1 312.6,196.1 314.1,196.1 315.6,196.2 317.1,196.2 318.6,196.2 320.1,196.2 321.6,196.2 323.1,196.3 324.6,196.3 326.1,196.3 327.6,196.3 329.1,196.4 330.6,196.4 332.1,196.4 333.6,196.4 335.1,196.4 336.6,196.5 338.1,196.5 339.6,196.5 341.1,196.5 342.6,196.5 344.1,196.6 345.6,196.6 347.1,196.6 348.6,196.6 350.1,196.7 351.6,196.7 353.1,196.7 354.6,196.7 356.1,196.7 357.6,196.8 359.1,196.8 360.6,196.8 362.1,196.8 363.6,196.8 365.1,196.8 366.6,196.9 368.1,196.9 369.6,196.9 371.1,196.9 372.6,196.9 374.1,197 375.6,197 377.1,197 378.6,197 380.1,197 381.6,197 383.1,197 384.6,197.1 386.1,197.1 387.6,197.1 389.1,197.1 390.6,197.1 392.1,197.1 393.6,197.1 395.1,197.1 396.6,197.1 398.1,197.1 399.6,197.1 401.1,197.1 402.6,197.1 404.1,197.1 405.6,197.1 407.1,197.1 408.6,197.1 410.1,197.1 411.6,197.1 413.1,197.1 414.6,197 416.1,197 417.6,197 419.1,196.9 420.6,196.9 422,196.8 423.5,196.7 425,196.7 426.5,196.6 428,196.5 429.5,196.4 431,196.3 432.5,196.2 434,196 435.5,195.9 437,195.7 438.5,195.6 440,195.4 441.5,195.2 443,195.1 444.5,194.9 446,194.7 447.5,194.5 449,194.2 450.5,194 452,193.8 453.5,193.6 455,193.4 456.5,193.2 458,193 459.5,192.8 461,192.6 462.5,192.4 464,192.3 465.5,192.1 467,192 468.5,191.9 470,191.8 471.5,191.7 473,191.6 474.5,191.4 476,191.2 477.5,190.8 479,190.3 480.5,189.4 482,188.1 483.5,186.3 485,183.9 486.5,180.9 488,177.4 489.5,173.9 491,170.5 492.5,167.9 494,166.4 495.5,166.2 497,167.5 498.5,170.1 500,173.7 501.5,177.9 503,182.2 504.5,186.2 506,189.6 507.5,192.4 509,194.6 510.5,196.1 512,197.1 513.5,197.8 515,198.2 516.5,198.5 518,198.7 519.5,198.8 521,198.8 522.5,198.9 524,198.9 525.5,199 527,199 528.5,199 530,199.1 531.5,199.1 533,199.1 534.5,199.2 536,199.2 537.5,199.2 539,199.3 540.5,199.3 542,199.3 543.5,199.4 545,199.4" fill="none" stroke="#111" stroke-width="1.8" stroke-linejoin="round" />
<text x="306.3" y="193.2" font-size="9.3" text-anchor="start" style="font-family:'Liberation Serif',serif;font-weight:bold;stroke:#000;stroke-width:0.25px;" >CuO/<tspan style="font-style:italic">α</tspan>-MnO<tspan font-size="6" dy="1.5">2</tspan><tspan dy="-1.5">-500</tspan></text>
<rect x="297.6" y="4.6" width="247.4" height="200.2" fill="none" stroke="#000" stroke-width="1.4"/>
<path d="M341.3,204.8v-3.5M399.6,204.8v-3.5M457.9,204.8v-3.5M516.2,204.8v-3.5M312.2,204.8v-2M370.4,204.8v-2M428.8,204.8v-2M487.1,204.8v-2M545.4,204.8v-2" stroke="#000" stroke-width="1.2"/>
<text x="341.3" y="217.4" font-size="10" text-anchor="middle" style="font-family:'Liberation Serif',serif;font-weight:bold;stroke:#000;stroke-width:0.25px;" >540</text>
<text x="399.6" y="217.4" font-size="10" text-anchor="middle" style="font-family:'Liberation Serif',serif;font-weight:bold;stroke:#000;stroke-width:0.25px;" >536</text>
<text x="457.9" y="217.4" font-size="10" text-anchor="middle" style="font-family:'Liberation Serif',serif;font-weight:bold;stroke:#000;stroke-width:0.25px;" >532</text>
<text x="516.2" y="217.4" font-size="10" text-anchor="middle" style="font-family:'Liberation Serif',serif;font-weight:bold;stroke:#000;stroke-width:0.25px;" >528</text>
<text x="421.3" y="229.2" font-size="13" text-anchor="middle" style="font-family:'Liberation Serif',serif;font-weight:bold;stroke:#000;stroke-width:0.25px;" >Binding Energy (eV)</text>
<text x="0" y="0" font-size="12.4" text-anchor="middle" style="font-family:'Liberation Serif',serif;font-weight:bold;stroke:#000;stroke-width:0.25px;" transform="translate(288.2,102.8) rotate(-90)">Intensity (a.u.)</text>
<text x="275" y="16" font-size="16.3" text-anchor="start" style="font-family:'Liberation Serif',serif;font-weight:bold;stroke:#000;stroke-width:0.25px;" >(b)</text>
<text x="420" y="63" font-size="9.4" text-anchor="start" style="font-family:'Liberation Serif',serif;font-weight:bold;stroke:#000;stroke-width:0.25px;" >shoulder peak</text>
<text x="524.5" y="60" font-size="9.4" text-anchor="start" style="font-family:'Liberation Serif',serif;font-weight:bold;stroke:#000;stroke-width:0.25px;" >O1s</text>
<line x1="449.4" y1="66.7" x2="458.2" y2="74.3" stroke="#000" stroke-width="1.2"/>
<polygon points="462,77.6 456.8,76 459.7,72.7" fill="#000"/>
<line x1="523" y1="61" x2="515.5" y2="67.8" stroke="#000" stroke-width="1.2"/>
<polygon points="511.8,71.2 514,66.2 517,69.5" fill="#000"/>
<polygon points="24.8,271 26.3,270.9 27.8,270.9 29.3,270.9 30.8,270.8 32.3,270.8 33.8,270.7 35.3,270.7 36.8,270.6 38.3,270.6 39.8,270.5 41.3,270.4 42.8,270.3 44.3,270.3 45.8,270.2 47.3,270 48.8,269.9 50.3,269.8 51.8,269.6 53.3,269.4 54.8,269.2 56.3,269 57.8,268.7 59.3,268.4 60.8,268.1 62.3,267.7 63.8,267.3 65.3,266.8 66.7,266.3 68.2,265.7 69.7,265.1 71.2,264.4 72.7,263.6 74.2,262.9 75.7,262.1 77.2,261.4 78.7,260.7 80.2,260.1 81.7,259.7 83.2,259.5 84.7,259.5 86.2,259.8 87.7,260.2 89.2,260.9 90.7,261.7 92.2,262.6 93.7,263.5 95.2,264.4 96.7,265.4 98.2,266.2 99.7,267 101.2,267.8 102.7,268.5 104.2,269.1 105.7,269.6 107.2,270.1 108.7,270.6 110.2,271 111.7,271.3 113.2,271.6 114.7,271.9 116.2,272.2 117.7,272.4 119.2,272.6 120.7,272.7 122.2,272.9 123.7,273 125.2,273.2 126.7,273.3 128.2,273.4 129.7,273.5 131.2,273.6 132.7,273.6 134.2,273.7 135.7,273.8 137.2,273.8 138.7,273.9 140.2,273.9 141.7,274 143.2,274 144.7,274.1 146.2,274.1 147.7,274.2 149.1,274.2 150.6,274.2 152.1,274.3 153.6,274.3 155.1,274.3 156.6,274.4 158.1,274.4 159.6,274.4 161.1,274.5 162.6,274.5 164.1,274.5 165.6,274.6 167.1,274.6 168.6,274.7 170.1,274.7 171.6,274.7 173.1,274.8 174.6,274.8 176.1,274.9 177.6,274.9 179.1,275 180.6,275 182.1,275.1 183.6,275.2 185.1,275.2 186.6,275.3 188.1,275.4 189.6,275.5 191.1,275.6 192.6,275.7 194.1,275.8 195.6,275.9 197.1,276 198.6,276.1 200.1,276.2 201.6,276.4 203.1,276.5 204.6,276.7 206.1,276.8 207.6,277 209.1,277.2 210.6,277.3 212.1,277.5 213.6,277.7 215.1,277.9 216.6,278.1 218.1,278.3 219.6,278.5 221.1,278.7 222.6,278.9 224.1,279.1 225.6,279.2 227.1,279.4 228.6,279.6 230.1,279.8 231.5,279.9 233,280.1 234.5,280.3 236,280.4 237.5,280.5 239,280.7 240.5,280.8 242,280.9 243.5,281 245,281.1 246.5,281.2 248,281.3 249.5,281.4 251,281.5 252.5,281.6 254,281.6 255.5,281.7 257,281.7 258.5,281.8 260,281.8 261.5,281.9 263,281.9 264.5,282 266,282 267.5,282 269,282.1 270.5,282.1 272,282.1 272,282.2 270.5,282.2 269,282.1 267.5,282.1 266,282.1 264.5,282 263,282 261.5,282 260,281.9 258.5,281.9 257,281.8 255.5,281.8 254,281.7 252.5,281.7 251,281.6 249.5,281.5 248,281.4 246.5,281.3 245,281.2 243.5,281.1 242,281 240.5,280.9 239,280.8 237.5,280.7 236,280.5 234.5,280.4 233,280.2 231.5,280.1 230.1,279.9 228.6,279.7 227.1,279.6 225.6,279.4 224.1,279.2 222.6,279 221.1,278.8 219.6,278.6 218.1,278.4 216.6,278.3 215.1,278.1 213.6,277.9 212.1,277.7 210.6,277.5 209.1,277.4 207.6,277.2 206.1,277 204.6,276.9 203.1,276.7 201.6,276.6 200.1,276.5 198.6,276.3 197.1,276.2 195.6,276.1 194.1,276 192.6,275.9 191.1,275.8 189.6,275.7 188.1,275.6 186.6,275.6 185.1,275.5 183.6,275.4 182.1,275.4 180.6,275.3 179.1,275.3 177.6,275.2 176.1,275.2 174.6,275.2 173.1,275.1 171.6,275.1 170.1,275.1 168.6,275 167.1,275 165.6,275 164.1,275 162.6,275 161.1,274.9 159.6,274.9 158.1,274.9 156.6,274.9 155.1,274.9 153.6,274.9 152.1,274.9 150.6,274.9 149.1,274.8 147.7,274.8 146.2,274.8 144.7,274.8 143.2,274.8 141.7,274.8 140.2,274.8 138.7,274.8 137.2,274.8 135.7,274.8 134.2,274.7 132.7,274.7 131.2,274.7 129.7,274.7 128.2,274.7 126.7,274.7 125.2,274.7 123.7,274.7 122.2,274.6 120.7,274.6 119.2,274.6 117.7,274.6 116.2,274.5 114.7,274.5 113.2,274.5 111.7,274.5 110.2,274.4 108.7,274.4 107.2,274.3 105.7,274.3 104.2,274.2 102.7,274.2 101.2,274.1 99.7,274.1 98.2,274 96.7,274 95.2,273.9 93.7,273.8 92.2,273.7 90.7,273.7 89.2,273.6 87.7,273.5 86.2,273.4 84.7,273.3 83.2,273.3 81.7,273.2 80.2,273.1 78.7,273 77.2,272.9 75.7,272.9 74.2,272.8 72.7,272.7 71.2,272.6 69.7,272.6 68.2,272.5 66.7,272.4 65.3,272.4 63.8,272.3 62.3,272.3 60.8,272.2 59.3,272.2 57.8,272.1 56.3,272.1 54.8,272.1 53.3,272 51.8,272 50.3,272 48.8,271.9 47.3,271.9 45.8,271.9 44.3,271.9 42.8,271.9 41.3,271.8 39.8,271.8 38.3,271.8 36.8,271.8 35.3,271.8 33.8,271.8 32.3,271.8 30.8,271.8 29.3,271.8 27.8,271.8 26.3,271.8 24.8,271.7" fill="#4cbdf5" />
<polygon points="24.8,271.7 26.3,271.7 27.8,271.7 29.3,271.7 30.8,271.7 32.3,271.7 33.8,271.7 35.3,271.8 36.8,271.8 38.3,271.8 39.8,271.8 41.3,271.8 42.8,271.8 44.3,271.8 45.8,271.9 47.3,271.9 48.8,271.9 50.3,271.9 51.8,271.9 53.3,272 54.8,272 56.3,272 57.8,272.1 59.3,272.1 60.8,272.2 62.3,272.2 63.8,272.3 65.3,272.3 66.7,272.4 68.2,272.4 69.7,272.5 71.2,272.6 72.7,272.6 74.2,272.7 75.7,272.8 77.2,272.9 78.7,272.9 80.2,273 81.7,273.1 83.2,273.2 84.7,273.3 86.2,273.3 87.7,273.4 89.2,273.5 90.7,273.6 92.2,273.7 93.7,273.7 95.2,273.8 96.7,273.9 98.2,273.9 99.7,274 101.2,274 102.7,274.1 104.2,274.1 105.7,274.2 107.2,274.2 108.7,274.3 110.2,274.3 111.7,274.3 113.2,274.4 114.7,274.4 116.2,274.4 117.7,274.4 119.2,274.4 120.7,274.5 122.2,274.5 123.7,274.5 125.2,274.5 126.7,274.5 128.2,274.5 129.7,274.5 131.2,274.5 132.7,274.5 134.2,274.5 135.7,274.5 137.2,274.6 138.7,274.6 140.2,274.6 141.7,274.6 143.2,274.6 144.7,274.6 146.2,274.6 147.7,274.6 149.1,274.6 150.6,274.6 152.1,274.5 153.6,274.5 155.1,274.5 156.6,274.5 158.1,274.5 159.6,274.5 161.1,274.5 162.6,274.5 164.1,274.5 165.6,274.5 167.1,274.5 168.6,274.5 170.1,274.5 171.6,274.4 173.1,274.4 174.6,274.4 176.1,274.3 177.6,274.2 179.1,274.1 180.6,274 182.1,273.8 183.6,273.6 185.1,273.4 186.6,273 188.1,272.7 189.6,272.2 191.1,271.7 192.6,271.1 194.1,270.4 195.6,269.5 197.1,268.6 198.6,267.6 200.1,266.5 201.6,265.3 203.1,264.1 204.6,262.8 206.1,261.4 207.6,260.1 209.1,258.7 210.6,257.5 212.1,256.3 213.6,255.2 215.1,254.3 216.6,253.7 218.1,253.2 219.6,253 221.1,253.1 222.6,253.5 224.1,254.1 225.6,254.9 227.1,255.9 228.6,257 230.1,258.3 231.5,259.7 233,261.2 234.5,262.7 236,264.2 237.5,265.8 239,267.3 240.5,268.7 242,270.1 243.5,271.4 245,272.6 246.5,273.8 248,274.8 249.5,275.7 251,276.6 252.5,277.3 254,278 255.5,278.6 257,279.1 258.5,279.5 260,279.9 261.5,280.2 263,280.5 264.5,280.7 266,280.9 267.5,281.1 269,281.2 270.5,281.3 272,281.4 272,282.2 270.5,282.2 269,282.1 267.5,282.1 266,282.1 264.5,282 263,282 261.5,282 260,281.9 258.5,281.9 257,281.8 255.5,281.8 254,281.7 252.5,281.7 251,281.6 249.5,281.5 248,281.4 246.5,281.3 245,281.2 243.5,281.1 242,281 240.5,280.9 239,280.8 237.5,280.7 236,280.5 234.5,280.4 233,280.2 231.5,280.1 230.1,279.9 228.6,279.7 227.1,279.6 225.6,279.4 224.1,279.2 222.6,279 221.1,278.8 219.6,278.6 218.1,278.4 216.6,278.3 215.1,278.1 213.6,277.9 212.1,277.7 210.6,277.5 209.1,277.4 207.6,277.2 206.1,277 204.6,276.9 203.1,276.7 201.6,276.6 200.1,276.5 198.6,276.3 197.1,276.2 195.6,276.1 194.1,276 192.6,275.9 191.1,275.8 189.6,275.7 188.1,275.6 186.6,275.6 185.1,275.5 183.6,275.4 182.1,275.4 180.6,275.3 179.1,275.3 177.6,275.2 176.1,275.2 174.6,275.2 173.1,275.1 171.6,275.1 170.1,275.1 168.6,275 167.1,275 165.6,275 164.1,275 162.6,275 161.1,274.9 159.6,274.9 158.1,274.9 156.6,274.9 155.1,274.9 153.6,274.9 152.1,274.9 150.6,274.9 149.1,274.8 147.7,274.8 146.2,274.8 144.7,274.8 143.2,274.8 141.7,274.8 140.2,274.8 138.7,274.8 137.2,274.8 135.7,274.8 134.2,274.7 132.7,274.7 131.2,274.7 129.7,274.7 128.2,274.7 126.7,274.7 125.2,274.7 123.7,274.7 122.2,274.6 120.7,274.6 119.2,274.6 117.7,274.6 116.2,274.5 114.7,274.5 113.2,274.5 111.7,274.5 110.2,274.4 108.7,274.4 107.2,274.3 105.7,274.3 104.2,274.2 102.7,274.2 101.2,274.1 99.7,274.1 98.2,274 96.7,274 95.2,273.9 93.7,273.8 92.2,273.7 90.7,273.7 89.2,273.6 87.7,273.5 86.2,273.4 84.7,273.3 83.2,273.3 81.7,273.2 80.2,273.1 78.7,273 77.2,272.9 75.7,272.9 74.2,272.8 72.7,272.7 71.2,272.6 69.7,272.6 68.2,272.5 66.7,272.4 65.3,272.4 63.8,272.3 62.3,272.3 60.8,272.2 59.3,272.2 57.8,272.1 56.3,272.1 54.8,272.1 53.3,272 51.8,272 50.3,272 48.8,271.9 47.3,271.9 45.8,271.9 44.3,271.9 42.8,271.9 41.3,271.8 39.8,271.8 38.3,271.8 36.8,271.8 35.3,271.8 33.8,271.8 32.3,271.8 30.8,271.8 29.3,271.8 27.8,271.8 26.3,271.8 24.8,271.7" fill="#f7b8b9" />
<polyline points="24.8,271.7 26.3,271.8 27.8,271.8 29.3,271.8 30.8,271.8 32.3,271.8 33.8,271.8 35.3,271.8 36.8,271.8 38.3,271.8 39.8,271.8 41.3,271.8 42.8,271.9 44.3,271.9 45.8,271.9 47.3,271.9 48.8,271.9 50.3,272 51.8,272 53.3,272 54.8,272.1 56.3,272.1 57.8,272.1 59.3,272.2 60.8,272.2 62.3,272.3 63.8,272.3 65.3,272.4 66.7,272.4 68.2,272.5 69.7,272.6 71.2,272.6 72.7,272.7 74.2,272.8 75.7,272.9 77.2,272.9 78.7,273 80.2,273.1 81.7,273.2 83.2,273.3 84.7,273.3 86.2,273.4 87.7,273.5 89.2,273.6 90.7,273.7 92.2,273.7 93.7,273.8 95.2,273.9 96.7,274 98.2,274 99.7,274.1 101.2,274.1 102.7,274.2 104.2,274.2 105.7,274.3 107.2,274.3 108.7,274.4 110.2,274.4 111.7,274.5 113.2,274.5 114.7,274.5 116.2,274.5 117.7,274.6 119.2,274.6 120.7,274.6 122.2,274.6 123.7,274.7 125.2,274.7 126.7,274.7 128.2,274.7 129.7,274.7 131.2,274.7 132.7,274.7 134.2,274.7 135.7,274.8 137.2,274.8 138.7,274.8 140.2,274.8 141.7,274.8 143.2,274.8 144.7,274.8 146.2,274.8 147.7,274.8 149.1,274.8 150.6,274.9 152.1,274.9 153.6,274.9 155.1,274.9 156.6,274.9 158.1,274.9 159.6,274.9 161.1,274.9 162.6,275 164.1,275 165.6,275 167.1,275 168.6,275 170.1,275.1 171.6,275.1 173.1,275.1 174.6,275.2 176.1,275.2 177.6,275.2 179.1,275.3 180.6,275.3 182.1,275.4 183.6,275.4 185.1,275.5 186.6,275.6" fill="none" stroke="#f01818" stroke-width="1.6" stroke-linejoin="round" />
<polyline points="188.1,275.6 189.6,275.7 191.1,275.8 192.6,275.9 194.1,276 195.6,276.1 197.1,276.2 198.6,276.3 200.1,276.5 201.6,276.6 203.1,276.7 204.6,276.9 206.1,277 207.6,277.2 209.1,277.4 210.6,277.5 212.1,277.7 213.6,277.9 215.1,278.1 216.6,278.3 218.1,278.4 219.6,278.6 221.1,278.8 222.6,279 224.1,279.2 225.6,279.4 227.1,279.6 228.6,279.7 230.1,279.9 231.5,280.1 233,280.2 234.5,280.4 236,280.5 237.5,280.7 239,280.8 240.5,280.9 242,281 243.5,281.1 245,281.2 246.5,281.3 248,281.4 249.5,281.5 251,281.6 252.5,281.7 254,281.7 255.5,281.8 257,281.8 258.5,281.9 260,281.9 261.5,282 263,282 264.5,282 266,282.1 267.5,282.1 269,282.1 270.5,282.2 272,282.2" fill="none" stroke="#1c60e0" stroke-width="1.6" stroke-linejoin="round" />
<polyline points="24.8,270.9 26.3,270.9 27.8,270.8 29.3,270.8 30.8,270.8 32.3,270.7 33.8,270.7 35.3,270.6 36.8,270.6 38.3,270.5 39.8,270.4 41.3,270.4 42.8,270.3 44.3,270.2 45.8,270.1 47.3,270 48.8,269.9 50.3,269.7 51.8,269.6 53.3,269.4 54.8,269.2 56.3,268.9 57.8,268.7 59.3,268.4 60.8,268 62.3,267.7 63.8,267.2 65.3,266.8 66.7,266.2 68.2,265.6 69.7,265 71.2,264.3 72.7,263.6 74.2,262.8 75.7,262.1 77.2,261.3 78.7,260.6 80.2,260.1 81.7,259.7 83.2,259.4 84.7,259.4 86.2,259.7 87.7,260.1 89.2,260.8 90.7,261.6 92.2,262.5 93.7,263.4 95.2,264.3 96.7,265.3 98.2,266.1 99.7,266.9 101.2,267.7 102.7,268.3 104.2,269 105.7,269.5 107.2,270 108.7,270.5 110.2,270.8 111.7,271.2 113.2,271.5 114.7,271.8 116.2,272 117.7,272.2 119.2,272.4 120.7,272.6 122.2,272.7 123.7,272.9 125.2,273 126.7,273.1 128.2,273.2 129.7,273.3 131.2,273.4 132.7,273.4 134.2,273.5 135.7,273.6 137.2,273.6 138.7,273.7 140.2,273.7 141.7,273.8 143.2,273.8 144.7,273.8 146.2,273.9 147.7,273.9 149.1,273.9 150.6,273.9 152.1,274 153.6,274 155.1,274 156.6,274 158.1,274 159.6,274.1 161.1,274.1 162.6,274.1 164.1,274.1 165.6,274.1 167.1,274.1 168.6,274.1" fill="none" stroke="#1c60e0" stroke-width="2.2" stroke-linejoin="round" />
<polyline points="24.8,270.9 26.3,270.9 27.8,270.8 29.3,270.8 30.8,270.8 32.3,270.7 33.8,270.7 35.3,270.6 36.8,270.6 38.3,270.5 39.8,270.4 41.3,270.4 42.8,270.3 44.3,270.2 45.8,270.1 47.3,270 48.8,269.9 50.3,269.7 51.8,269.6 53.3,269.4 54.8,269.2 56.3,268.9 57.8,268.7 59.3,268.4 60.8,268 62.3,267.7 63.8,267.2 65.3,266.8 66.7,266.2 68.2,265.6 69.7,265 71.2,264.3 72.7,263.6 74.2,262.8 75.7,262.1 77.2,261.3 78.7,260.6 80.2,260.1 81.7,259.7 83.2,259.4 84.7,259.4 86.2,259.7 87.7,260.1 89.2,260.8 90.7,261.6 92.2,262.5 93.7,263.4 95.2,264.3 96.7,265.3 98.2,266.1 99.7,266.9 101.2,267.7 102.7,268.3 104.2,269 105.7,269.5 107.2,270 108.7,270.5 110.2,270.8 111.7,271.2 113.2,271.5 114.7,271.8 116.2,272 117.7,272.2 119.2,272.4 120.7,272.6 122.2,272.7 123.7,272.9 125.2,273 126.7,273.1 128.2,273.2 129.7,273.3 131.2,273.4 132.7,273.4 134.2,273.5 135.7,273.6 137.2,273.6 138.7,273.7 140.2,273.7 141.7,273.8 143.2,273.8 144.7,273.8 146.2,273.9 147.7,273.9 149.1,273.9 150.6,273.9 152.1,274 153.6,274 155.1,274 156.6,274 158.1,274 159.6,274.1 161.1,274.1 162.6,274.1 164.1,274.1 165.6,274.1 167.1,274.1 168.6,274.1 170.1,274.1 171.6,274.1 173.1,274.1 174.6,274 176.1,274 177.6,273.9 179.1,273.8 180.6,273.7 182.1,273.5 183.6,273.3 185.1,273.1 186.6,272.8 188.1,272.4 189.6,272 191.1,271.4 192.6,270.8 194.1,270.1 195.6,269.3 197.1,268.4 198.6,267.4 200.1,266.3 201.6,265.1 203.1,263.9 204.6,262.6 206.1,261.2 207.6,259.9 209.1,258.6 210.6,257.3 212.1,256.1 213.6,255.1 215.1,254.2 216.6,253.5 218.1,253.1 219.6,252.9 221.1,253 222.6,253.3 224.1,253.9 225.6,254.7 227.1,255.7 228.6,256.9 230.1,258.2 231.5,259.6 233,261.1 234.5,262.6 236,264.1 237.5,265.7 239,267.2 240.5,268.6 242,270 243.5,271.3 245,272.5 246.5,273.7 248,274.7 249.5,275.6 251,276.5 252.5,277.2 254,277.9 255.5,278.5 257,279 258.5,279.4 260,279.8 261.5,280.1 263,280.4 264.5,280.6 266,280.8 267.5,281 269,281.1 270.5,281.2 272,281.3" fill="none" stroke="#0a0c20" stroke-width="1.3" stroke-linejoin="round" />
<text x="114" y="268.5" font-size="9.25" text-anchor="start" style="font-family:'Liberation Serif',serif;font-weight:bold;stroke:#000;stroke-width:0.25px;" >Cu<tspan font-size="6.5" dy="2">2</tspan><tspan dy="-2">O/<tspan style="font-style:italic">α</tspan>-MnO<tspan font-size="6.5" dy="2">2</tspan><tspan dy="-2"></tspan></tspan></text>
<polygon points="24.8,310.2 26.3,310.1 27.8,310.1 29.3,310.1 30.8,310 32.3,310 33.8,309.9 35.3,309.9 36.8,309.8 38.3,309.8 39.8,309.7 41.3,309.6 42.8,309.5 44.3,309.5 45.8,309.4 47.3,309.2 48.8,309.1 50.3,309 51.8,308.8 53.3,308.6 54.8,308.4 56.3,308.2 57.8,307.9 59.3,307.6 60.8,307.3 62.3,306.9 63.8,306.5 65.3,306 66.7,305.5 68.2,304.9 69.7,304.2 71.2,303.6 72.7,302.8 74.2,302.1 75.7,301.3 77.2,300.6 78.7,300 80.2,299.4 81.7,299.1 83.2,298.9 84.7,298.9 86.2,299.2 87.7,299.7 89.2,300.4 90.7,301.2 92.2,302.1 93.7,303 95.2,303.9 96.7,304.8 98.2,305.6 99.7,306.4 101.2,307.1 102.7,307.7 104.2,308.3 105.7,308.9 107.2,309.3 108.7,309.8 110.2,310.1 111.7,310.5 113.2,310.8 114.7,311 116.2,311.3 117.7,311.5 119.2,311.7 120.7,311.8 122.2,312 123.7,312.1 125.2,312.2 126.7,312.3 128.2,312.4 129.7,312.5 131.2,312.6 132.7,312.7 134.2,312.7 135.7,312.8 137.2,312.9 138.7,312.9 140.2,313 141.7,313 143.2,313.1 144.7,313.1 146.2,313.1 147.7,313.2 149.1,313.2 150.6,313.2 152.1,313.3 153.6,313.3 155.1,313.3 156.6,313.4 158.1,313.4 159.6,313.4 161.1,313.5 162.6,313.5 164.1,313.5 165.6,313.5 167.1,313.6 168.6,313.6 170.1,313.6 171.6,313.7 173.1,313.7 174.6,313.7 176.1,313.8 177.6,313.8 179.1,313.9 180.6,313.9 182.1,314 183.6,314 185.1,314.1 186.6,314.1 188.1,314.2 189.6,314.2 191.1,314.3 192.6,314.4 194.1,314.5 195.6,314.5 197.1,314.6 198.6,314.7 200.1,314.8 201.6,314.9 203.1,315.1 204.6,315.2 206.1,315.3 207.6,315.4 209.1,315.6 210.6,315.7 212.1,315.8 213.6,316 215.1,316.1 216.6,316.3 218.1,316.4 219.6,316.6 221.1,316.7 222.6,316.9 224.1,317 225.6,317.2 227.1,317.3 228.6,317.5 230.1,317.6 231.5,317.7 233,317.9 234.5,318 236,318.1 237.5,318.2 239,318.3 240.5,318.5 242,318.5 243.5,318.6 245,318.7 246.5,318.8 248,318.9 249.5,319 251,319 252.5,319.1 254,319.1 255.5,319.2 257,319.2 258.5,319.3 260,319.3 261.5,319.4 263,319.4 264.5,319.4 266,319.4 267.5,319.5 269,319.5 270.5,319.5 272,319.5 272,319.6 270.5,319.6 269,319.6 267.5,319.6 266,319.5 264.5,319.5 263,319.5 261.5,319.4 260,319.4 258.5,319.4 257,319.3 255.5,319.3 254,319.2 252.5,319.2 251,319.1 249.5,319.1 248,319 246.5,318.9 245,318.8 243.5,318.7 242,318.7 240.5,318.6 239,318.5 237.5,318.4 236,318.2 234.5,318.1 233,318 231.5,317.9 230.1,317.7 228.6,317.6 227.1,317.5 225.6,317.3 224.1,317.2 222.6,317 221.1,316.9 219.6,316.7 218.1,316.6 216.6,316.4 215.1,316.3 213.6,316.1 212.1,316 210.6,315.9 209.1,315.7 207.6,315.6 206.1,315.5 204.6,315.4 203.1,315.2 201.6,315.1 200.1,315 198.6,314.9 197.1,314.9 195.6,314.8 194.1,314.7 192.6,314.6 191.1,314.5 189.6,314.5 188.1,314.4 186.6,314.4 185.1,314.3 183.6,314.3 182.1,314.2 180.6,314.2 179.1,314.2 177.6,314.1 176.1,314.1 174.6,314.1 173.1,314 171.6,314 170.1,314 168.6,314 167.1,314 165.6,313.9 164.1,313.9 162.6,313.9 161.1,313.9 159.6,313.9 158.1,313.9 156.6,313.9 155.1,313.9 153.6,313.9 152.1,313.8 150.6,313.8 149.1,313.8 147.7,313.8 146.2,313.8 144.7,313.8 143.2,313.8 141.7,313.8 140.2,313.8 138.7,313.8 137.2,313.8 135.7,313.8 134.2,313.7 132.7,313.7 131.2,313.7 129.7,313.7 128.2,313.7 126.7,313.7 125.2,313.7 123.7,313.7 122.2,313.6 120.7,313.6 119.2,313.6 117.7,313.6 116.2,313.6 114.7,313.5 113.2,313.5 111.7,313.5 110.2,313.4 108.7,313.4 107.2,313.4 105.7,313.3 104.2,313.3 102.7,313.2 101.2,313.2 99.7,313.1 98.2,313.1 96.7,313 95.2,313 93.7,312.9 92.2,312.8 90.7,312.8 89.2,312.7 87.7,312.6 86.2,312.5 84.7,312.5 83.2,312.4 81.7,312.3 80.2,312.2 78.7,312.1 77.2,312.1 75.7,312 74.2,311.9 72.7,311.9 71.2,311.8 69.7,311.7 68.2,311.7 66.7,311.6 65.3,311.5 63.8,311.5 62.3,311.4 60.8,311.4 59.3,311.4 57.8,311.3 56.3,311.3 54.8,311.2 53.3,311.2 51.8,311.2 50.3,311.2 48.8,311.1 47.3,311.1 45.8,311.1 44.3,311.1 42.8,311.1 41.3,311 39.8,311 38.3,311 36.8,311 35.3,311 33.8,311 32.3,311 30.8,311 29.3,311 27.8,311 26.3,311 24.8,310.9" fill="#4cbdf5" />
<polygon points="24.8,310.9 26.3,310.9 27.8,310.9 29.3,310.9 30.8,310.9 32.3,310.9 33.8,310.9 35.3,311 36.8,311 38.3,311 39.8,311 41.3,311 42.8,311 44.3,311 45.8,311 47.3,311.1 48.8,311.1 50.3,311.1 51.8,311.1 53.3,311.2 54.8,311.2 56.3,311.2 57.8,311.3 59.3,311.3 60.8,311.3 62.3,311.4 63.8,311.4 65.3,311.5 66.7,311.5 68.2,311.6 69.7,311.7 71.2,311.7 72.7,311.8 74.2,311.9 75.7,311.9 77.2,312 78.7,312.1 80.2,312.2 81.7,312.2 83.2,312.3 84.7,312.4 86.2,312.5 87.7,312.5 89.2,312.6 90.7,312.7 92.2,312.7 93.7,312.8 95.2,312.9 96.7,312.9 98.2,313 99.7,313 101.2,313.1 102.7,313.1 104.2,313.2 105.7,313.2 107.2,313.3 108.7,313.3 110.2,313.3 111.7,313.4 113.2,313.4 114.7,313.4 116.2,313.4 117.7,313.5 119.2,313.5 120.7,313.5 122.2,313.5 123.7,313.5 125.2,313.5 126.7,313.5 128.2,313.6 129.7,313.6 131.2,313.6 132.7,313.6 134.2,313.6 135.7,313.6 137.2,313.6 138.7,313.6 140.2,313.6 141.7,313.6 143.2,313.6 144.7,313.6 146.2,313.6 147.7,313.6 149.1,313.6 150.6,313.6 152.1,313.6 153.6,313.6 155.1,313.6 156.6,313.6 158.1,313.6 159.6,313.6 161.1,313.6 162.6,313.5 164.1,313.5 165.6,313.5 167.1,313.5 168.6,313.5 170.1,313.5 171.6,313.5 173.1,313.4 174.6,313.4 176.1,313.4 177.6,313.3 179.1,313.2 180.6,313.1 182.1,313 183.6,312.8 185.1,312.6 186.6,312.4 188.1,312.1 189.6,311.7 191.1,311.3 192.6,310.8 194.1,310.2 195.6,309.5 197.1,308.8 198.6,307.9 200.1,307 201.6,306 203.1,304.9 204.6,303.8 206.1,302.6 207.6,301.4 209.1,300.2 210.6,299 212.1,297.9 213.6,296.9 215.1,296 216.6,295.2 218.1,294.7 219.6,294.4 221.1,294.3 222.6,294.4 224.1,294.8 225.6,295.3 227.1,296.1 228.6,297 230.1,298 231.5,299.2 233,300.4 234.5,301.7 236,303.1 237.5,304.4 239,305.7 240.5,307 242,308.3 243.5,309.5 245,310.6 246.5,311.6 248,312.6 249.5,313.5 251,314.3 252.5,315 254,315.6 255.5,316.1 257,316.6 258.5,317 260,317.4 261.5,317.7 263,318 264.5,318.2 266,318.4 267.5,318.6 269,318.7 270.5,318.8 272,318.9 272,319.6 270.5,319.6 269,319.6 267.5,319.6 266,319.5 264.5,319.5 263,319.5 261.5,319.4 260,319.4 258.5,319.4 257,319.3 255.5,319.3 254,319.2 252.5,319.2 251,319.1 249.5,319.1 248,319 246.5,318.9 245,318.8 243.5,318.7 242,318.7 240.5,318.6 239,318.5 237.5,318.4 236,318.2 234.5,318.1 233,318 231.5,317.9 230.1,317.7 228.6,317.6 227.1,317.5 225.6,317.3 224.1,317.2 222.6,317 221.1,316.9 219.6,316.7 218.1,316.6 216.6,316.4 215.1,316.3 213.6,316.1 212.1,316 210.6,315.9 209.1,315.7 207.6,315.6 206.1,315.5 204.6,315.4 203.1,315.2 201.6,315.1 200.1,315 198.6,314.9 197.1,314.9 195.6,314.8 194.1,314.7 192.6,314.6 191.1,314.5 189.6,314.5 188.1,314.4 186.6,314.4 185.1,314.3 183.6,314.3 182.1,314.2 180.6,314.2 179.1,314.2 177.6,314.1 176.1,314.1 174.6,314.1 173.1,314 171.6,314 170.1,314 168.6,314 167.1,314 165.6,313.9 164.1,313.9 162.6,313.9 161.1,313.9 159.6,313.9 158.1,313.9 156.6,313.9 155.1,313.9 153.6,313.9 152.1,313.8 150.6,313.8 149.1,313.8 147.7,313.8 146.2,313.8 144.7,313.8 143.2,313.8 141.7,313.8 140.2,313.8 138.7,313.8 137.2,313.8 135.7,313.8 134.2,313.7 132.7,313.7 131.2,313.7 129.7,313.7 128.2,313.7 126.7,313.7 125.2,313.7 123.7,313.7 122.2,313.6 120.7,313.6 119.2,313.6 117.7,313.6 116.2,313.6 114.7,313.5 113.2,313.5 111.7,313.5 110.2,313.4 108.7,313.4 107.2,313.4 105.7,313.3 104.2,313.3 102.7,313.2 101.2,313.2 99.7,313.1 98.2,313.1 96.7,313 95.2,313 93.7,312.9 92.2,312.8 90.7,312.8 89.2,312.7 87.7,312.6 86.2,312.5 84.7,312.5 83.2,312.4 81.7,312.3 80.2,312.2 78.7,312.1 77.2,312.1 75.7,312 74.2,311.9 72.7,311.9 71.2,311.8 69.7,311.7 68.2,311.7 66.7,311.6 65.3,311.5 63.8,311.5 62.3,311.4 60.8,311.4 59.3,311.4 57.8,311.3 56.3,311.3 54.8,311.2 53.3,311.2 51.8,311.2 50.3,311.2 48.8,311.1 47.3,311.1 45.8,311.1 44.3,311.1 42.8,311.1 41.3,311 39.8,311 38.3,311 36.8,311 35.3,311 33.8,311 32.3,311 30.8,311 29.3,311 27.8,311 26.3,311 24.8,310.9" fill="#f7b8b9" />
<polyline points="24.8,310.9 26.3,311 27.8,311 29.3,311 30.8,311 32.3,311 33.8,311 35.3,311 36.8,311 38.3,311 39.8,311 41.3,311 42.8,311.1 44.3,311.1 45.8,311.1 47.3,311.1 48.8,311.1 50.3,311.2 51.8,311.2 53.3,311.2 54.8,311.2 56.3,311.3 57.8,311.3 59.3,311.4 60.8,311.4 62.3,311.4 63.8,311.5 65.3,311.5 66.7,311.6 68.2,311.7 69.7,311.7 71.2,311.8 72.7,311.9 74.2,311.9 75.7,312 77.2,312.1 78.7,312.1 80.2,312.2 81.7,312.3 83.2,312.4 84.7,312.5 86.2,312.5 87.7,312.6 89.2,312.7 90.7,312.8 92.2,312.8 93.7,312.9 95.2,313 96.7,313 98.2,313.1 99.7,313.1 101.2,313.2 102.7,313.2 104.2,313.3 105.7,313.3 107.2,313.4 108.7,313.4 110.2,313.4 111.7,313.5 113.2,313.5 114.7,313.5 116.2,313.6 117.7,313.6 119.2,313.6 120.7,313.6 122.2,313.6 123.7,313.7 125.2,313.7 126.7,313.7 128.2,313.7 129.7,313.7 131.2,313.7 132.7,313.7 134.2,313.7 135.7,313.8 137.2,313.8 138.7,313.8 140.2,313.8 141.7,313.8 143.2,313.8 144.7,313.8 146.2,313.8 147.7,313.8 149.1,313.8 150.6,313.8 152.1,313.8 153.6,313.9 155.1,313.9 156.6,313.9 158.1,313.9 159.6,313.9 161.1,313.9 162.6,313.9 164.1,313.9 165.6,313.9 167.1,314 168.6,314 170.1,314 171.6,314 173.1,314 174.6,314.1 176.1,314.1 177.6,314.1 179.1,314.2 180.6,314.2 182.1,314.2 183.6,314.3 185.1,314.3 186.6,314.4" fill="none" stroke="#f01818" stroke-width="1.6" stroke-linejoin="round" />
<polyline points="188.1,314.4 189.6,314.5 191.1,314.5 192.6,314.6 194.1,314.7 195.6,314.8 197.1,314.9 198.6,314.9 200.1,315 201.6,315.1 203.1,315.2 204.6,315.4 206.1,315.5 207.6,315.6 209.1,315.7 210.6,315.9 212.1,316 213.6,316.1 215.1,316.3 216.6,316.4 218.1,316.6 219.6,316.7 221.1,316.9 222.6,317 224.1,317.2 225.6,317.3 227.1,317.5 228.6,317.6 230.1,317.7 231.5,317.9 233,318 234.5,318.1 236,318.2 237.5,318.4 239,318.5 240.5,318.6 242,318.7 243.5,318.7 245,318.8 246.5,318.9 248,319 249.5,319.1 251,319.1 252.5,319.2 254,319.2 255.5,319.3 257,319.3 258.5,319.4 260,319.4 261.5,319.4 263,319.5 264.5,319.5 266,319.5 267.5,319.6 269,319.6 270.5,319.6 272,319.6" fill="none" stroke="#1c60e0" stroke-width="1.6" stroke-linejoin="round" />
<polyline points="24.8,310.1 26.3,310.1 27.8,310.1 29.3,310 30.8,310 32.3,309.9 33.8,309.9 35.3,309.8 36.8,309.8 38.3,309.7 39.8,309.7 41.3,309.6 42.8,309.5 44.3,309.4 45.8,309.3 47.3,309.2 48.8,309.1 50.3,308.9 51.8,308.8 53.3,308.6 54.8,308.4 56.3,308.1 57.8,307.9 59.3,307.6 60.8,307.2 62.3,306.9 63.8,306.4 65.3,305.9 66.7,305.4 68.2,304.8 69.7,304.2 71.2,303.5 72.7,302.8 74.2,302 75.7,301.3 77.2,300.6 78.7,299.9 80.2,299.4 81.7,299 83.2,298.8 84.7,298.9 86.2,299.1 87.7,299.6 89.2,300.3 90.7,301.1 92.2,302 93.7,302.9 95.2,303.8 96.7,304.7 98.2,305.5 99.7,306.3 101.2,307 102.7,307.6 104.2,308.2 105.7,308.8 107.2,309.2 108.7,309.7 110.2,310 111.7,310.4 113.2,310.7 114.7,310.9 116.2,311.1 117.7,311.4 119.2,311.5 120.7,311.7 122.2,311.8 123.7,312 125.2,312.1 126.7,312.2 128.2,312.3 129.7,312.4 131.2,312.4 132.7,312.5 134.2,312.6 135.7,312.6 137.2,312.7 138.7,312.7 140.2,312.8 141.7,312.8 143.2,312.8 144.7,312.9 146.2,312.9 147.7,312.9 149.1,313 150.6,313 152.1,313 153.6,313 155.1,313 156.6,313.1 158.1,313.1 159.6,313.1 161.1,313.1 162.6,313.1 164.1,313.1 165.6,313.1 167.1,313.1 168.6,313.1" fill="none" stroke="#1c60e0" stroke-width="2.2" stroke-linejoin="round" />
<polyline points="24.8,310.1 26.3,310.1 27.8,310.1 29.3,310 30.8,310 32.3,309.9 33.8,309.9 35.3,309.8 36.8,309.8 38.3,309.7 39.8,309.7 41.3,309.6 42.8,309.5 44.3,309.4 45.8,309.3 47.3,309.2 48.8,309.1 50.3,308.9 51.8,308.8 53.3,308.6 54.8,308.4 56.3,308.1 57.8,307.9 59.3,307.6 60.8,307.2 62.3,306.9 63.8,306.4 65.3,305.9 66.7,305.4 68.2,304.8 69.7,304.2 71.2,303.5 72.7,302.8 74.2,302 75.7,301.3 77.2,300.6 78.7,299.9 80.2,299.4 81.7,299 83.2,298.8 84.7,298.9 86.2,299.1 87.7,299.6 89.2,300.3 90.7,301.1 92.2,302 93.7,302.9 95.2,303.8 96.7,304.7 98.2,305.5 99.7,306.3 101.2,307 102.7,307.6 104.2,308.2 105.7,308.8 107.2,309.2 108.7,309.7 110.2,310 111.7,310.4 113.2,310.7 114.7,310.9 116.2,311.1 117.7,311.4 119.2,311.5 120.7,311.7 122.2,311.8 123.7,312 125.2,312.1 126.7,312.2 128.2,312.3 129.7,312.4 131.2,312.4 132.7,312.5 134.2,312.6 135.7,312.6 137.2,312.7 138.7,312.7 140.2,312.8 141.7,312.8 143.2,312.8 144.7,312.9 146.2,312.9 147.7,312.9 149.1,313 150.6,313 152.1,313 153.6,313 155.1,313 156.6,313.1 158.1,313.1 159.6,313.1 161.1,313.1 162.6,313.1 164.1,313.1 165.6,313.1 167.1,313.1 168.6,313.1 170.1,313.1 171.6,313.1 173.1,313.1 174.6,313.1 176.1,313 177.6,313 179.1,312.9 180.6,312.8 182.1,312.7 183.6,312.5 185.1,312.4 186.6,312.1 188.1,311.8 189.6,311.5 191.1,311.1 192.6,310.6 194.1,310 195.6,309.3 197.1,308.6 198.6,307.7 200.1,306.8 201.6,305.8 203.1,304.7 204.6,303.6 206.1,302.4 207.6,301.2 209.1,300 210.6,298.9 212.1,297.7 213.6,296.7 215.1,295.8 216.6,295.1 218.1,294.5 219.6,294.2 221.1,294.1 222.6,294.3 224.1,294.6 225.6,295.2 227.1,295.9 228.6,296.9 230.1,297.9 231.5,299.1 233,300.3 234.5,301.6 236,303 237.5,304.3 239,305.6 240.5,306.9 242,308.2 243.5,309.4 245,310.5 246.5,311.5 248,312.5 249.5,313.4 251,314.2 252.5,314.9 254,315.5 255.5,316 257,316.5 258.5,317 260,317.3 261.5,317.6 263,317.9 264.5,318.1 266,318.3 267.5,318.5 269,318.6 270.5,318.7 272,318.8" fill="none" stroke="#0a0c20" stroke-width="1.3" stroke-linejoin="round" />
<text x="98" y="301.5" font-size="9.25" text-anchor="start" style="font-family:'Liberation Serif',serif;font-weight:bold;stroke:#000;stroke-width:0.25px;" >Cu<tspan font-size="6.5" dy="2">2</tspan><tspan dy="-2">O-CuO/<tspan style="font-style:italic">α</tspan>-MnO<tspan font-size="6.5" dy="2">2</tspan><tspan dy="-2">-240</tspan></tspan></text>
<polygon points="24.8,356.2 26.3,356.2 27.8,356.1 29.3,356.1 30.8,356 32.3,356 33.8,356 35.3,355.9 36.8,355.9 38.3,355.8 39.8,355.7 41.3,355.7 42.8,355.6 44.3,355.5 45.8,355.4 47.3,355.3 48.8,355.2 50.3,355.1 51.8,354.9 53.3,354.7 54.8,354.5 56.3,354.3 57.8,354.1 59.3,353.8 60.8,353.5 62.3,353.1 63.8,352.7 65.3,352.2 66.7,351.7 68.2,351.2 69.7,350.6 71.2,349.9 72.7,349.2 74.2,348.5 75.7,347.7 77.2,347 78.7,346.3 80.2,345.7 81.7,345.3 83.2,345 84.7,345 86.2,345.2 87.7,345.6 89.2,346.2 90.7,347 92.2,347.8 93.7,348.7 95.2,349.7 96.7,350.6 98.2,351.4 99.7,352.2 101.2,353 102.7,353.6 104.2,354.3 105.7,354.8 107.2,355.3 108.7,355.8 110.2,356.2 111.7,356.5 113.2,356.8 114.7,357.1 116.2,357.4 117.7,357.6 119.2,357.8 120.7,357.9 122.2,358.1 123.7,358.2 125.2,358.4 126.7,358.5 128.2,358.6 129.7,358.7 131.2,358.8 132.7,358.8 134.2,358.9 135.7,359 137.2,359 138.7,359.1 140.2,359.1 141.7,359.2 143.2,359.2 144.7,359.3 146.2,359.3 147.7,359.4 149.1,359.4 150.6,359.4 152.1,359.5 153.6,359.5 155.1,359.5 156.6,359.6 158.1,359.6 159.6,359.6 161.1,359.7 162.6,359.7 164.1,359.7 165.6,359.8 167.1,359.8 168.6,359.8 170.1,359.9 171.6,359.9 173.1,359.9 174.6,360 176.1,360 177.6,360.1 179.1,360.1 180.6,360.1 182.1,360.2 183.6,360.3 185.1,360.3 186.6,360.4 188.1,360.4 189.6,360.5 191.1,360.6 192.6,360.7 194.1,360.8 195.6,360.9 197.1,361 198.6,361.1 200.1,361.2 201.6,361.3 203.1,361.4 204.6,361.6 206.1,361.7 207.6,361.8 209.1,362 210.6,362.2 212.1,362.3 213.6,362.5 215.1,362.7 216.6,362.8 218.1,363 219.6,363.2 221.1,363.4 222.6,363.5 224.1,363.7 225.6,363.9 227.1,364.1 228.6,364.2 230.1,364.4 231.5,364.6 233,364.7 234.5,364.9 236,365 237.5,365.1 239,365.3 240.5,365.4 242,365.5 243.5,365.6 245,365.7 246.5,365.8 248,365.9 249.5,366 251,366.1 252.5,366.1 254,366.2 255.5,366.3 257,366.3 258.5,366.4 260,366.4 261.5,366.5 263,366.5 264.5,366.6 266,366.6 267.5,366.6 269,366.6 270.5,366.7 272,366.7 272,366.8 270.5,366.8 269,366.7 267.5,366.7 266,366.7 264.5,366.6 263,366.6 261.5,366.6 260,366.5 258.5,366.5 257,366.4 255.5,366.4 254,366.3 252.5,366.2 251,366.2 249.5,366.1 248,366 246.5,365.9 245,365.8 243.5,365.7 242,365.6 240.5,365.5 239,365.4 237.5,365.3 236,365.1 234.5,365 233,364.8 231.5,364.7 230.1,364.5 228.6,364.4 227.1,364.2 225.6,364 224.1,363.9 222.6,363.7 221.1,363.5 219.6,363.3 218.1,363.2 216.6,363 215.1,362.8 213.6,362.7 212.1,362.5 210.6,362.3 209.1,362.2 207.6,362 206.1,361.9 204.6,361.8 203.1,361.6 201.6,361.5 200.1,361.4 198.6,361.3 197.1,361.2 195.6,361.1 194.1,361 192.6,360.9 191.1,360.8 189.6,360.8 188.1,360.7 186.6,360.6 185.1,360.6 183.6,360.5 182.1,360.5 180.6,360.4 179.1,360.4 177.6,360.4 176.1,360.3 174.6,360.3 173.1,360.3 171.6,360.2 170.1,360.2 168.6,360.2 167.1,360.2 165.6,360.2 164.1,360.1 162.6,360.1 161.1,360.1 159.6,360.1 158.1,360.1 156.6,360.1 155.1,360.1 153.6,360.1 152.1,360 150.6,360 149.1,360 147.7,360 146.2,360 144.7,360 143.2,360 141.7,360 140.2,360 138.7,360 137.2,360 135.7,360 134.2,359.9 132.7,359.9 131.2,359.9 129.7,359.9 128.2,359.9 126.7,359.9 125.2,359.9 123.7,359.8 122.2,359.8 120.7,359.8 119.2,359.8 117.7,359.8 116.2,359.7 114.7,359.7 113.2,359.7 111.7,359.6 110.2,359.6 108.7,359.6 107.2,359.5 105.7,359.5 104.2,359.4 102.7,359.4 101.2,359.3 99.7,359.3 98.2,359.2 96.7,359.1 95.2,359.1 93.7,359 92.2,358.9 90.7,358.9 89.2,358.8 87.7,358.7 86.2,358.6 84.7,358.5 83.2,358.4 81.7,358.4 80.2,358.3 78.7,358.2 77.2,358.1 75.7,358 74.2,358 72.7,357.9 71.2,357.8 69.7,357.8 68.2,357.7 66.7,357.6 65.3,357.6 63.8,357.5 62.3,357.5 60.8,357.4 59.3,357.4 57.8,357.3 56.3,357.3 54.8,357.3 53.3,357.2 51.8,357.2 50.3,357.2 48.8,357.1 47.3,357.1 45.8,357.1 44.3,357.1 42.8,357.1 41.3,357 39.8,357 38.3,357 36.8,357 35.3,357 33.8,357 32.3,357 30.8,357 29.3,357 27.8,357 26.3,357 24.8,356.9" fill="#4cbdf5" />
<polygon points="24.8,356.9 26.3,356.9 27.8,356.9 29.3,356.9 30.8,356.9 32.3,356.9 33.8,356.9 35.3,357 36.8,357 38.3,357 39.8,357 41.3,357 42.8,357 44.3,357 45.8,357.1 47.3,357.1 48.8,357.1 50.3,357.1 51.8,357.1 53.3,357.2 54.8,357.2 56.3,357.2 57.8,357.3 59.3,357.3 60.8,357.4 62.3,357.4 63.8,357.5 65.3,357.5 66.7,357.6 68.2,357.6 69.7,357.7 71.2,357.8 72.7,357.8 74.2,357.9 75.7,358 77.2,358 78.7,358.1 80.2,358.2 81.7,358.3 83.2,358.4 84.7,358.5 86.2,358.5 87.7,358.6 89.2,358.7 90.7,358.8 92.2,358.8 93.7,358.9 95.2,359 96.7,359 98.2,359.1 99.7,359.2 101.2,359.2 102.7,359.3 104.2,359.3 105.7,359.4 107.2,359.4 108.7,359.5 110.2,359.5 111.7,359.5 113.2,359.6 114.7,359.6 116.2,359.6 117.7,359.6 119.2,359.6 120.7,359.7 122.2,359.7 123.7,359.7 125.2,359.7 126.7,359.7 128.2,359.7 129.7,359.7 131.2,359.7 132.7,359.8 134.2,359.8 135.7,359.8 137.2,359.8 138.7,359.8 140.2,359.8 141.7,359.8 143.2,359.8 144.7,359.8 146.2,359.8 147.7,359.8 149.1,359.8 150.6,359.8 152.1,359.8 153.6,359.8 155.1,359.8 156.6,359.8 158.1,359.7 159.6,359.7 161.1,359.7 162.6,359.7 164.1,359.7 165.6,359.7 167.1,359.7 168.6,359.7 170.1,359.7 171.6,359.7 173.1,359.6 174.6,359.6 176.1,359.6 177.6,359.5 179.1,359.4 180.6,359.3 182.1,359.2 183.6,359.1 185.1,358.9 186.6,358.6 188.1,358.3 189.6,358 191.1,357.5 192.6,357 194.1,356.5 195.6,355.8 197.1,355 198.6,354.1 200.1,353.2 201.6,352.1 203.1,351 204.6,349.8 206.1,348.5 207.6,347.2 209.1,345.9 210.6,344.7 212.1,343.4 213.6,342.3 215.1,341.2 216.6,340.3 218.1,339.6 219.6,339.2 221.1,339 222.6,339 224.1,339.3 225.6,339.8 227.1,340.6 228.6,341.5 230.1,342.6 231.5,343.8 233,345.1 234.5,346.5 236,348 237.5,349.4 239,350.9 240.5,352.3 242,353.7 243.5,355.1 245,356.3 246.5,357.5 248,358.6 249.5,359.6 251,360.5 252.5,361.3 254,362.1 255.5,362.7 257,363.3 258.5,363.8 260,364.2 261.5,364.6 263,364.9 264.5,365.1 266,365.4 267.5,365.5 269,365.7 270.5,365.8 272,366 272,366.8 270.5,366.8 269,366.7 267.5,366.7 266,366.7 264.5,366.6 263,366.6 261.5,366.6 260,366.5 258.5,366.5 257,366.4 255.5,366.4 254,366.3 252.5,366.2 251,366.2 249.5,366.1 248,366 246.5,365.9 245,365.8 243.5,365.7 242,365.6 240.5,365.5 239,365.4 237.5,365.3 236,365.1 234.5,365 233,364.8 231.5,364.7 230.1,364.5 228.6,364.4 227.1,364.2 225.6,364 224.1,363.9 222.6,363.7 221.1,363.5 219.6,363.3 218.1,363.2 216.6,363 215.1,362.8 213.6,362.7 212.1,362.5 210.6,362.3 209.1,362.2 207.6,362 206.1,361.9 204.6,361.8 203.1,361.6 201.6,361.5 200.1,361.4 198.6,361.3 197.1,361.2 195.6,361.1 194.1,361 192.6,360.9 191.1,360.8 189.6,360.8 188.1,360.7 186.6,360.6 185.1,360.6 183.6,360.5 182.1,360.5 180.6,360.4 179.1,360.4 177.6,360.4 176.1,360.3 174.6,360.3 173.1,360.3 171.6,360.2 170.1,360.2 168.6,360.2 167.1,360.2 165.6,360.2 164.1,360.1 162.6,360.1 161.1,360.1 159.6,360.1 158.1,360.1 156.6,360.1 155.1,360.1 153.6,360.1 152.1,360 150.6,360 149.1,360 147.7,360 146.2,360 144.7,360 143.2,360 141.7,360 140.2,360 138.7,360 137.2,360 135.7,360 134.2,359.9 132.7,359.9 131.2,359.9 129.7,359.9 128.2,359.9 126.7,359.9 125.2,359.9 123.7,359.8 122.2,359.8 120.7,359.8 119.2,359.8 117.7,359.8 116.2,359.7 114.7,359.7 113.2,359.7 111.7,359.6 110.2,359.6 108.7,359.6 107.2,359.5 105.7,359.5 104.2,359.4 102.7,359.4 101.2,359.3 99.7,359.3 98.2,359.2 96.7,359.1 95.2,359.1 93.7,359 92.2,358.9 90.7,358.9 89.2,358.8 87.7,358.7 86.2,358.6 84.7,358.5 83.2,358.4 81.7,358.4 80.2,358.3 78.7,358.2 77.2,358.1 75.7,358 74.2,358 72.7,357.9 71.2,357.8 69.7,357.8 68.2,357.7 66.7,357.6 65.3,357.6 63.8,357.5 62.3,357.5 60.8,357.4 59.3,357.4 57.8,357.3 56.3,357.3 54.8,357.3 53.3,357.2 51.8,357.2 50.3,357.2 48.8,357.1 47.3,357.1 45.8,357.1 44.3,357.1 42.8,357.1 41.3,357 39.8,357 38.3,357 36.8,357 35.3,357 33.8,357 32.3,357 30.8,357 29.3,357 27.8,357 26.3,357 24.8,356.9" fill="#f7b8b9" />
<polyline points="24.8,356.9 26.3,357 27.8,357 29.3,357 30.8,357 32.3,357 33.8,357 35.3,357 36.8,357 38.3,357 39.8,357 41.3,357 42.8,357.1 44.3,357.1 45.8,357.1 47.3,357.1 48.8,357.1 50.3,357.2 51.8,357.2 53.3,357.2 54.8,357.3 56.3,357.3 57.8,357.3 59.3,357.4 60.8,357.4 62.3,357.5 63.8,357.5 65.3,357.6 66.7,357.6 68.2,357.7 69.7,357.8 71.2,357.8 72.7,357.9 74.2,358 75.7,358 77.2,358.1 78.7,358.2 80.2,358.3 81.7,358.4 83.2,358.4 84.7,358.5 86.2,358.6 87.7,358.7 89.2,358.8 90.7,358.9 92.2,358.9 93.7,359 95.2,359.1 96.7,359.1 98.2,359.2 99.7,359.3 101.2,359.3 102.7,359.4 104.2,359.4 105.7,359.5 107.2,359.5 108.7,359.6 110.2,359.6 111.7,359.6 113.2,359.7 114.7,359.7 116.2,359.7 117.7,359.8 119.2,359.8 120.7,359.8 122.2,359.8 123.7,359.8 125.2,359.9 126.7,359.9 128.2,359.9 129.7,359.9 131.2,359.9 132.7,359.9 134.2,359.9 135.7,360 137.2,360 138.7,360 140.2,360 141.7,360 143.2,360 144.7,360 146.2,360 147.7,360 149.1,360 150.6,360 152.1,360 153.6,360.1 155.1,360.1 156.6,360.1 158.1,360.1 159.6,360.1 161.1,360.1 162.6,360.1 164.1,360.1 165.6,360.2 167.1,360.2 168.6,360.2 170.1,360.2 171.6,360.2 173.1,360.3 174.6,360.3 176.1,360.3 177.6,360.4 179.1,360.4 180.6,360.4 182.1,360.5 183.6,360.5 185.1,360.6 186.6,360.6" fill="none" stroke="#f01818" stroke-width="1.6" stroke-linejoin="round" />
<polyline points="188.1,360.7 189.6,360.8 191.1,360.8 192.6,360.9 194.1,361 195.6,361.1 197.1,361.2 198.6,361.3 200.1,361.4 201.6,361.5 203.1,361.6 204.6,361.8 206.1,361.9 207.6,362 209.1,362.2 210.6,362.3 212.1,362.5 213.6,362.7 215.1,362.8 216.6,363 218.1,363.2 219.6,363.3 221.1,363.5 222.6,363.7 224.1,363.9 225.6,364 227.1,364.2 228.6,364.4 230.1,364.5 231.5,364.7 233,364.8 234.5,365 236,365.1 237.5,365.3 239,365.4 240.5,365.5 242,365.6 243.5,365.7 245,365.8 246.5,365.9 248,366 249.5,366.1 251,366.2 252.5,366.2 254,366.3 255.5,366.4 257,366.4 258.5,366.5 260,366.5 261.5,366.6 263,366.6 264.5,366.6 266,366.7 267.5,366.7 269,366.7 270.5,366.8 272,366.8" fill="none" stroke="#1c60e0" stroke-width="1.6" stroke-linejoin="round" />
<polyline points="24.8,356.1 26.3,356.1 27.8,356.1 29.3,356 30.8,356 32.3,356 33.8,355.9 35.3,355.9 36.8,355.8 38.3,355.8 39.8,355.7 41.3,355.6 42.8,355.5 44.3,355.5 45.8,355.4 47.3,355.3 48.8,355.1 50.3,355 51.8,354.9 53.3,354.7 54.8,354.5 56.3,354.3 57.8,354 59.3,353.7 60.8,353.4 62.3,353 63.8,352.6 65.3,352.2 66.7,351.7 68.2,351.1 69.7,350.5 71.2,349.8 72.7,349.1 74.2,348.4 75.7,347.6 77.2,346.9 78.7,346.2 80.2,345.7 81.7,345.2 83.2,345 84.7,344.9 86.2,345.1 87.7,345.5 89.2,346.1 90.7,346.9 92.2,347.7 93.7,348.7 95.2,349.6 96.7,350.5 98.2,351.3 99.7,352.1 101.2,352.9 102.7,353.5 104.2,354.2 105.7,354.7 107.2,355.2 108.7,355.7 110.2,356.1 111.7,356.4 113.2,356.7 114.7,357 116.2,357.2 117.7,357.4 119.2,357.6 120.7,357.8 122.2,358 123.7,358.1 125.2,358.2 126.7,358.3 128.2,358.4 129.7,358.5 131.2,358.6 132.7,358.7 134.2,358.7 135.7,358.8 137.2,358.8 138.7,358.9 140.2,358.9 141.7,359 143.2,359 144.7,359 146.2,359.1 147.7,359.1 149.1,359.1 150.6,359.2 152.1,359.2 153.6,359.2 155.1,359.2 156.6,359.2 158.1,359.3 159.6,359.3 161.1,359.3 162.6,359.3 164.1,359.3 165.6,359.3 167.1,359.3 168.6,359.3" fill="none" stroke="#1c60e0" stroke-width="2.2" stroke-linejoin="round" />
<polyline points="24.8,356.1 26.3,356.1 27.8,356.1 29.3,356 30.8,356 32.3,356 33.8,355.9 35.3,355.9 36.8,355.8 38.3,355.8 39.8,355.7 41.3,355.6 42.8,355.5 44.3,355.5 45.8,355.4 47.3,355.3 48.8,355.1 50.3,355 51.8,354.9 53.3,354.7 54.8,354.5 56.3,354.3 57.8,354 59.3,353.7 60.8,353.4 62.3,353 63.8,352.6 65.3,352.2 66.7,351.7 68.2,351.1 69.7,350.5 71.2,349.8 72.7,349.1 74.2,348.4 75.7,347.6 77.2,346.9 78.7,346.2 80.2,345.7 81.7,345.2 83.2,345 84.7,344.9 86.2,345.1 87.7,345.5 89.2,346.1 90.7,346.9 92.2,347.7 93.7,348.7 95.2,349.6 96.7,350.5 98.2,351.3 99.7,352.1 101.2,352.9 102.7,353.5 104.2,354.2 105.7,354.7 107.2,355.2 108.7,355.7 110.2,356.1 111.7,356.4 113.2,356.7 114.7,357 116.2,357.2 117.7,357.4 119.2,357.6 120.7,357.8 122.2,358 123.7,358.1 125.2,358.2 126.7,358.3 128.2,358.4 129.7,358.5 131.2,358.6 132.7,358.7 134.2,358.7 135.7,358.8 137.2,358.8 138.7,358.9 140.2,358.9 141.7,359 143.2,359 144.7,359 146.2,359.1 147.7,359.1 149.1,359.1 150.6,359.2 152.1,359.2 153.6,359.2 155.1,359.2 156.6,359.2 158.1,359.3 159.6,359.3 161.1,359.3 162.6,359.3 164.1,359.3 165.6,359.3 167.1,359.3 168.6,359.3 170.1,359.3 171.6,359.3 173.1,359.3 174.6,359.3 176.1,359.2 177.6,359.2 179.1,359.1 180.6,359 182.1,358.9 183.6,358.8 185.1,358.6 186.6,358.4 188.1,358.1 189.6,357.7 191.1,357.3 192.6,356.8 194.1,356.2 195.6,355.6 197.1,354.8 198.6,353.9 200.1,353 201.6,351.9 203.1,350.8 204.6,349.6 206.1,348.4 207.6,347.1 209.1,345.8 210.6,344.5 212.1,343.2 213.6,342.1 215.1,341.1 216.6,340.2 218.1,339.5 219.6,339 221.1,338.8 222.6,338.9 224.1,339.2 225.6,339.7 227.1,340.4 228.6,341.4 230.1,342.4 231.5,343.7 233,345 234.5,346.4 236,347.8 237.5,349.3 239,350.8 240.5,352.2 242,353.6 243.5,355 245,356.2 246.5,357.4 248,358.5 249.5,359.5 251,360.4 252.5,361.2 254,362 255.5,362.6 257,363.2 258.5,363.7 260,364.1 261.5,364.5 263,364.8 264.5,365 266,365.3 267.5,365.5 269,365.6 270.5,365.8 272,365.9" fill="none" stroke="#0a0c20" stroke-width="1.3" stroke-linejoin="round" />
<text x="98" y="346.1" font-size="9.25" text-anchor="start" style="font-family:'Liberation Serif',serif;font-weight:bold;stroke:#000;stroke-width:0.25px;" >Cu<tspan font-size="6.5" dy="2">2</tspan><tspan dy="-2">O-CuO/<tspan style="font-style:italic">α</tspan>-MnO<tspan font-size="6.5" dy="2">2</tspan><tspan dy="-2">-260</tspan></tspan></text>
<polygon points="24.8,393.7 26.3,393.7 27.8,393.6 29.3,393.6 30.8,393.5 32.3,393.5 33.7,393.4 35.2,393.4 36.7,393.3 38.2,393.3 39.7,393.2 41.2,393.1 42.7,393.1 44.2,393 45.7,392.9 47.2,392.7 48.7,392.6 50.2,392.4 51.6,392.3 53.1,392.1 54.6,391.9 56.1,391.6 57.6,391.3 59.1,391 60.6,390.6 62.1,390.2 63.6,389.8 65.1,389.3 66.6,388.7 68,388.1 69.5,387.5 71,386.8 72.5,386.2 74,385.5 75.5,384.9 77,384.3 78.5,383.9 80,383.6 81.5,383.5 83,383.6 84.5,383.9 85.9,384.4 87.4,385.1 88.9,385.8 90.4,386.7 91.9,387.5 93.4,388.3 94.9,389.1 96.4,389.9 97.9,390.6 99.4,391.2 100.9,391.8 102.4,392.4 103.8,392.8 105.3,393.3 106.8,393.6 108.3,394 109.8,394.3 111.3,394.5 112.8,394.8 114.3,395 115.8,395.2 117.3,395.4 118.8,395.5 120.2,395.6 121.7,395.8 123.2,395.9 124.7,396 126.2,396 127.7,396.1 129.2,396.2 130.7,396.3 132.2,396.3 133.7,396.4 135.2,396.4 136.7,396.5 138.1,396.5 139.6,396.6 141.1,396.6 142.6,396.7 144.1,396.7 145.6,396.7 147.1,396.8 148.6,396.8 150.1,396.8 151.6,396.9 153.1,396.9 154.5,396.9 156,396.9 157.5,397 159,397 160.5,397 162,397.1 163.5,397.1 165,397.1 166.5,397.2 168,397.2 169.5,397.2 171,397.3 172.4,397.3 173.9,397.3 175.4,397.4 176.9,397.4 178.4,397.5 179.9,397.5 181.4,397.6 182.9,397.6 184.4,397.7 185.9,397.8 187.4,397.8 188.8,397.9 190.3,398 191.8,398.1 193.3,398.2 194.8,398.3 196.3,398.4 197.8,398.5 199.3,398.6 200.8,398.7 202.3,398.8 203.8,399 205.3,399.1 206.7,399.3 208.2,399.4 209.7,399.6 211.2,399.7 212.7,399.9 214.2,400.1 215.7,400.3 217.2,400.4 218.7,400.6 220.2,400.8 221.7,401 223.2,401.1 224.6,401.3 226.1,401.5 227.6,401.6 229.1,401.8 230.6,402 232.1,402.1 233.6,402.3 235.1,402.4 236.6,402.5 238.1,402.6 239.6,402.8 241,402.9 242.5,403 244,403.1 245.5,403.2 247,403.3 248.5,403.3 250,403.4 251.5,403.5 253,403.5 254.5,403.6 256,403.7 257.5,403.7 258.9,403.8 260.4,403.8 261.9,403.8 263.4,403.9 264.9,403.9 266.4,403.9 266.4,404 264.9,404 263.4,404 261.9,403.9 260.4,403.9 258.9,403.8 257.5,403.8 256,403.7 254.5,403.7 253,403.6 251.5,403.6 250,403.5 248.5,403.4 247,403.4 245.5,403.3 244,403.2 242.5,403.1 241,403 239.6,402.9 238.1,402.8 236.6,402.6 235.1,402.5 233.6,402.4 232.1,402.2 230.6,402.1 229.1,401.9 227.6,401.8 226.1,401.6 224.6,401.4 223.2,401.3 221.7,401.1 220.2,400.9 218.7,400.7 217.2,400.6 215.7,400.4 214.2,400.2 212.7,400.1 211.2,399.9 209.7,399.7 208.2,399.6 206.7,399.4 205.3,399.3 203.8,399.1 202.3,399 200.8,398.9 199.3,398.8 197.8,398.7 196.3,398.5 194.8,398.5 193.3,398.4 191.8,398.3 190.3,398.2 188.8,398.1 187.4,398 185.9,398 184.4,397.9 182.9,397.9 181.4,397.8 179.9,397.8 178.4,397.7 176.9,397.7 175.4,397.7 173.9,397.6 172.4,397.6 171,397.6 169.5,397.5 168,397.5 166.5,397.5 165,397.5 163.5,397.5 162,397.4 160.5,397.4 159,397.4 157.5,397.4 156,397.4 154.5,397.4 153.1,397.4 151.6,397.4 150.1,397.3 148.6,397.3 147.1,397.3 145.6,397.3 144.1,397.3 142.6,397.3 141.1,397.3 139.6,397.3 138.1,397.3 136.7,397.3 135.2,397.3 133.7,397.3 132.2,397.3 130.7,397.2 129.2,397.2 127.7,397.2 126.2,397.2 124.7,397.2 123.2,397.2 121.7,397.2 120.2,397.1 118.8,397.1 117.3,397.1 115.8,397.1 114.3,397.1 112.8,397 111.3,397 109.8,397 108.3,397 106.8,396.9 105.3,396.9 103.8,396.8 102.4,396.8 100.9,396.8 99.4,396.7 97.9,396.7 96.4,396.6 94.9,396.5 93.4,396.5 91.9,396.4 90.4,396.3 88.9,396.3 87.4,396.2 85.9,396.1 84.5,396.1 83,396 81.5,395.9 80,395.8 78.5,395.7 77,395.7 75.5,395.6 74,395.5 72.5,395.4 71,395.4 69.5,395.3 68,395.2 66.6,395.2 65.1,395.1 63.6,395.1 62.1,395 60.6,395 59.1,394.9 57.6,394.9 56.1,394.8 54.6,394.8 53.1,394.8 51.6,394.7 50.2,394.7 48.7,394.7 47.2,394.6 45.7,394.6 44.2,394.6 42.7,394.6 41.2,394.6 39.7,394.5 38.2,394.5 36.7,394.5 35.2,394.5 33.7,394.5 32.3,394.5 30.8,394.5 29.3,394.5 27.8,394.5 26.3,394.5 24.8,394.5" fill="#4cbdf5" />
<polygon points="24.8,394.4 26.3,394.4 27.8,394.4 29.3,394.4 30.8,394.4 32.3,394.4 33.7,394.5 35.2,394.5 36.7,394.5 38.2,394.5 39.7,394.5 41.2,394.5 42.7,394.5 44.2,394.6 45.7,394.6 47.2,394.6 48.7,394.6 50.2,394.6 51.6,394.7 53.1,394.7 54.6,394.7 56.1,394.8 57.6,394.8 59.1,394.9 60.6,394.9 62.1,395 63.6,395 65.1,395.1 66.6,395.1 68,395.2 69.5,395.2 71,395.3 72.5,395.4 74,395.5 75.5,395.5 77,395.6 78.5,395.7 80,395.8 81.5,395.8 83,395.9 84.5,396 85.9,396.1 87.4,396.1 88.9,396.2 90.4,396.3 91.9,396.3 93.4,396.4 94.9,396.4 96.4,396.5 97.9,396.6 99.4,396.6 100.9,396.7 102.4,396.7 103.8,396.7 105.3,396.8 106.8,396.8 108.3,396.8 109.8,396.9 111.3,396.9 112.8,396.9 114.3,396.9 115.8,397 117.3,397 118.8,397 120.2,397 121.7,397 123.2,397 124.7,397 126.2,397.1 127.7,397.1 129.2,397.1 130.7,397.1 132.2,397.1 133.7,397.1 135.2,397.1 136.7,397.1 138.1,397.1 139.6,397.1 141.1,397.1 142.6,397.1 144.1,397.1 145.6,397.1 147.1,397.1 148.6,397.1 150.1,397.1 151.6,397.1 153.1,397.1 154.5,397.1 156,397.1 157.5,397.1 159,397.1 160.5,397.1 162,397.1 163.5,397 165,397 166.5,397 168,397 169.5,397 171,397 172.4,397 173.9,396.9 175.4,396.9 176.9,396.8 178.4,396.7 179.9,396.6 181.4,396.5 182.9,396.3 184.4,396.1 185.9,395.8 187.4,395.5 188.8,395.1 190.3,394.7 191.8,394.2 193.3,393.6 194.8,392.9 196.3,392.1 197.8,391.2 199.3,390.2 200.8,389.2 202.3,388.1 203.8,386.9 205.3,385.7 206.7,384.5 208.2,383.2 209.7,382.1 211.2,380.9 212.7,379.9 214.2,379 215.7,378.3 217.2,377.8 218.7,377.5 220.2,377.5 221.7,377.7 223.2,378.1 224.6,378.7 226.1,379.5 227.6,380.5 229.1,381.6 230.6,382.8 232.1,384.1 233.6,385.5 235.1,386.9 236.6,388.3 238.1,389.7 239.6,391 241,392.3 242.5,393.5 244,394.7 245.5,395.8 247,396.8 248.5,397.7 250,398.5 251.5,399.2 253,399.9 254.5,400.5 256,401 257.5,401.4 258.9,401.8 260.4,402.1 261.9,402.4 263.4,402.6 264.9,402.8 266.4,403 266.4,404 264.9,404 263.4,404 261.9,403.9 260.4,403.9 258.9,403.8 257.5,403.8 256,403.7 254.5,403.7 253,403.6 251.5,403.6 250,403.5 248.5,403.4 247,403.4 245.5,403.3 244,403.2 242.5,403.1 241,403 239.6,402.9 238.1,402.8 236.6,402.6 235.1,402.5 233.6,402.4 232.1,402.2 230.6,402.1 229.1,401.9 227.6,401.8 226.1,401.6 224.6,401.4 223.2,401.3 221.7,401.1 220.2,400.9 218.7,400.7 217.2,400.6 215.7,400.4 214.2,400.2 212.7,400.1 211.2,399.9 209.7,399.7 208.2,399.6 206.7,399.4 205.3,399.3 203.8,399.1 202.3,399 200.8,398.9 199.3,398.8 197.8,398.7 196.3,398.5 194.8,398.5 193.3,398.4 191.8,398.3 190.3,398.2 188.8,398.1 187.4,398 185.9,398 184.4,397.9 182.9,397.9 181.4,397.8 179.9,397.8 178.4,397.7 176.9,397.7 175.4,397.7 173.9,397.6 172.4,397.6 171,397.6 169.5,397.5 168,397.5 166.5,397.5 165,397.5 163.5,397.5 162,397.4 160.5,397.4 159,397.4 157.5,397.4 156,397.4 154.5,397.4 153.1,397.4 151.6,397.4 150.1,397.3 148.6,397.3 147.1,397.3 145.6,397.3 144.1,397.3 142.6,397.3 141.1,397.3 139.6,397.3 138.1,397.3 136.7,397.3 135.2,397.3 133.7,397.3 132.2,397.3 130.7,397.2 129.2,397.2 127.7,397.2 126.2,397.2 124.7,397.2 123.2,397.2 121.7,397.2 120.2,397.1 118.8,397.1 117.3,397.1 115.8,397.1 114.3,397.1 112.8,397 111.3,397 109.8,397 108.3,397 106.8,396.9 105.3,396.9 103.8,396.8 102.4,396.8 100.9,396.8 99.4,396.7 97.9,396.7 96.4,396.6 94.9,396.5 93.4,396.5 91.9,396.4 90.4,396.3 88.9,396.3 87.4,396.2 85.9,396.1 84.5,396.1 83,396 81.5,395.9 80,395.8 78.5,395.7 77,395.7 75.5,395.6 74,395.5 72.5,395.4 71,395.4 69.5,395.3 68,395.2 66.6,395.2 65.1,395.1 63.6,395.1 62.1,395 60.6,395 59.1,394.9 57.6,394.9 56.1,394.8 54.6,394.8 53.1,394.8 51.6,394.7 50.2,394.7 48.7,394.7 47.2,394.6 45.7,394.6 44.2,394.6 42.7,394.6 41.2,394.6 39.7,394.5 38.2,394.5 36.7,394.5 35.2,394.5 33.7,394.5 32.3,394.5 30.8,394.5 29.3,394.5 27.8,394.5 26.3,394.5 24.8,394.5" fill="#f7b8b9" />
<polyline points="24.8,394.5 26.3,394.5 27.8,394.5 29.3,394.5 30.8,394.5 32.3,394.5 33.7,394.5 35.2,394.5 36.7,394.5 38.2,394.5 39.7,394.5 41.2,394.6 42.7,394.6 44.2,394.6 45.7,394.6 47.2,394.6 48.7,394.7 50.2,394.7 51.6,394.7 53.1,394.8 54.6,394.8 56.1,394.8 57.6,394.9 59.1,394.9 60.6,395 62.1,395 63.6,395.1 65.1,395.1 66.6,395.2 68,395.2 69.5,395.3 71,395.4 72.5,395.4 74,395.5 75.5,395.6 77,395.7 78.5,395.7 80,395.8 81.5,395.9 83,396 84.5,396.1 85.9,396.1 87.4,396.2 88.9,396.3 90.4,396.3 91.9,396.4 93.4,396.5 94.9,396.5 96.4,396.6 97.9,396.7 99.4,396.7 100.9,396.8 102.4,396.8 103.8,396.8 105.3,396.9 106.8,396.9 108.3,397 109.8,397 111.3,397 112.8,397 114.3,397.1 115.8,397.1 117.3,397.1 118.8,397.1 120.2,397.1 121.7,397.2 123.2,397.2 124.7,397.2 126.2,397.2 127.7,397.2 129.2,397.2 130.7,397.2 132.2,397.3 133.7,397.3 135.2,397.3 136.7,397.3 138.1,397.3 139.6,397.3 141.1,397.3 142.6,397.3 144.1,397.3 145.6,397.3 147.1,397.3 148.6,397.3 150.1,397.3 151.6,397.4 153.1,397.4 154.5,397.4 156,397.4 157.5,397.4 159,397.4 160.5,397.4 162,397.4 163.5,397.5 165,397.5 166.5,397.5 168,397.5 169.5,397.5 171,397.6 172.4,397.6 173.9,397.6 175.4,397.7 176.9,397.7 178.4,397.7 179.9,397.8 181.4,397.8 182.9,397.9 184.4,397.9 185.9,398 187.4,398" fill="none" stroke="#f01818" stroke-width="1.6" stroke-linejoin="round" />
<polyline points="188.8,398.1 190.3,398.2 191.8,398.3 193.3,398.4 194.8,398.5 196.3,398.5 197.8,398.7 199.3,398.8 200.8,398.9 202.3,399 203.8,399.1 205.3,399.3 206.7,399.4 208.2,399.6 209.7,399.7 211.2,399.9 212.7,400.1 214.2,400.2 215.7,400.4 217.2,400.6 218.7,400.7 220.2,400.9 221.7,401.1 223.2,401.3 224.6,401.4 226.1,401.6 227.6,401.8 229.1,401.9 230.6,402.1 232.1,402.2 233.6,402.4 235.1,402.5 236.6,402.6 238.1,402.8 239.6,402.9 241,403 242.5,403.1 244,403.2 245.5,403.3 247,403.4 248.5,403.4 250,403.5 251.5,403.6 253,403.6 254.5,403.7 256,403.7 257.5,403.8 258.9,403.8 260.4,403.9 261.9,403.9 263.4,404 264.9,404 266.4,404" fill="none" stroke="#1c60e0" stroke-width="1.6" stroke-linejoin="round" />
<polyline points="24.8,393.6 26.3,393.6 27.8,393.6 29.3,393.5 30.8,393.5 32.3,393.5 33.7,393.4 35.2,393.4 36.7,393.3 38.2,393.2 39.7,393.2 41.2,393.1 42.7,393 44.2,392.9 45.7,392.8 47.2,392.7 48.7,392.6 50.2,392.4 51.6,392.2 53.1,392 54.6,391.8 56.1,391.6 57.6,391.3 59.1,390.9 60.6,390.6 62.1,390.2 63.6,389.7 65.1,389.2 66.6,388.7 68,388.1 69.5,387.4 71,386.8 72.5,386.1 74,385.4 75.5,384.8 77,384.2 78.5,383.8 80,383.5 81.5,383.4 83,383.5 84.5,383.8 85.9,384.3 87.4,385 88.9,385.8 90.4,386.6 91.9,387.4 93.4,388.3 94.9,389.1 96.4,389.8 97.9,390.5 99.4,391.1 100.9,391.7 102.4,392.3 103.8,392.7 105.3,393.2 106.8,393.5 108.3,393.9 109.8,394.2 111.3,394.4 112.8,394.7 114.3,394.9 115.8,395.1 117.3,395.2 118.8,395.4 120.2,395.5 121.7,395.6 123.2,395.7 124.7,395.8 126.2,395.9 127.7,396 129.2,396 130.7,396.1 132.2,396.2 133.7,396.2 135.2,396.3 136.7,396.3 138.1,396.3 139.6,396.4 141.1,396.4 142.6,396.4 144.1,396.5 145.6,396.5 147.1,396.5 148.6,396.5 150.1,396.6 151.6,396.6 153.1,396.6 154.5,396.6 156,396.6 157.5,396.6 159,396.6 160.5,396.7 162,396.7 163.5,396.7 165,396.7 166.5,396.7 168,396.7 169.5,396.7" fill="none" stroke="#1c60e0" stroke-width="2.2" stroke-linejoin="round" />
<polyline points="171,396.7 172.4,396.6 173.9,396.6 175.4,396.6 176.9,396.5 178.4,396.4 179.9,396.4 181.4,396.2 182.9,396.1 184.4,395.9 185.9,395.6 187.4,395.3 188.8,394.9 190.3,394.5 191.8,394 193.3,393.4 194.8,392.7 196.3,391.9 197.8,391 199.3,390.1 200.8,389 202.3,387.9 203.8,386.7 205.3,385.5 206.7,384.3 208.2,383.1 209.7,381.9 211.2,380.8 212.7,379.8 214.2,378.9 215.7,378.2 217.2,377.7 218.7,377.4 220.2,377.3 221.7,377.5 223.2,377.9 224.6,378.6 226.1,379.4 227.6,380.4 229.1,381.5 230.6,382.7 232.1,384 233.6,385.4 235.1,386.8 236.6,388.2 238.1,389.6 239.6,390.9 241,392.2 242.5,393.4 244,394.6 245.5,395.7 247,396.7 248.5,397.6 250,398.4 251.5,399.1 253,399.8 254.5,400.4 256,400.9 257.5,401.3 258.9,401.7 260.4,402 261.9,402.3 263.4,402.5 264.9,402.7 266.4,402.9" fill="none" stroke="#f01818" stroke-width="2.4" stroke-linejoin="round" />
<polyline points="24.8,393.6 26.3,393.6 27.8,393.6 29.3,393.5 30.8,393.5 32.3,393.5 33.7,393.4 35.2,393.4 36.7,393.3 38.2,393.2 39.7,393.2 41.2,393.1 42.7,393 44.2,392.9 45.7,392.8 47.2,392.7 48.7,392.6 50.2,392.4 51.6,392.2 53.1,392 54.6,391.8 56.1,391.6 57.6,391.3 59.1,390.9 60.6,390.6 62.1,390.2 63.6,389.7 65.1,389.2 66.6,388.7 68,388.1 69.5,387.4 71,386.8 72.5,386.1 74,385.4 75.5,384.8 77,384.2 78.5,383.8 80,383.5 81.5,383.4 83,383.5 84.5,383.8 85.9,384.3 87.4,385 88.9,385.8 90.4,386.6 91.9,387.4 93.4,388.3 94.9,389.1 96.4,389.8 97.9,390.5 99.4,391.1 100.9,391.7 102.4,392.3 103.8,392.7 105.3,393.2 106.8,393.5 108.3,393.9 109.8,394.2 111.3,394.4 112.8,394.7 114.3,394.9 115.8,395.1 117.3,395.2 118.8,395.4 120.2,395.5 121.7,395.6 123.2,395.7 124.7,395.8 126.2,395.9 127.7,396 129.2,396 130.7,396.1 132.2,396.2 133.7,396.2 135.2,396.3 136.7,396.3 138.1,396.3 139.6,396.4 141.1,396.4 142.6,396.4 144.1,396.5 145.6,396.5 147.1,396.5 148.6,396.5 150.1,396.6 151.6,396.6 153.1,396.6 154.5,396.6 156,396.6 157.5,396.6 159,396.6 160.5,396.7 162,396.7 163.5,396.7 165,396.7 166.5,396.7 168,396.7 169.5,396.7 171,396.7 172.4,396.6 173.9,396.6 175.4,396.6 176.9,396.5 178.4,396.4 179.9,396.4 181.4,396.2 182.9,396.1 184.4,395.9 185.9,395.6 187.4,395.3 188.8,394.9 190.3,394.5 191.8,394 193.3,393.4 194.8,392.7 196.3,391.9 197.8,391 199.3,390.1 200.8,389 202.3,387.9 203.8,386.7 205.3,385.5 206.7,384.3 208.2,383.1 209.7,381.9 211.2,380.8 212.7,379.8 214.2,378.9 215.7,378.2 217.2,377.7 218.7,377.4 220.2,377.3 221.7,377.5 223.2,377.9 224.6,378.6 226.1,379.4 227.6,380.4 229.1,381.5 230.6,382.7 232.1,384 233.6,385.4 235.1,386.8 236.6,388.2 238.1,389.6 239.6,390.9 241,392.2 242.5,393.4 244,394.6 245.5,395.7 247,396.7 248.5,397.6 250,398.4 251.5,399.1 253,399.8 254.5,400.4 256,400.9 257.5,401.3 258.9,401.7 260.4,402 261.9,402.3 263.4,402.5 264.9,402.7 266.4,402.9" fill="none" stroke="#0a0c20" stroke-width="1.3" stroke-linejoin="round" />
<text x="98" y="385.2" font-size="9.25" text-anchor="start" style="font-family:'Liberation Serif',serif;font-weight:bold;stroke:#000;stroke-width:0.25px;" >Cu<tspan font-size="6.5" dy="2">2</tspan><tspan dy="-2">O-CuO/<tspan style="font-style:italic">α</tspan>-MnO<tspan font-size="6.5" dy="2">2</tspan><tspan dy="-2">-280</tspan></tspan></text>
<polygon points="24.8,428.9 26.3,428.9 27.8,428.8 29.3,428.8 30.8,428.7 32.3,428.7 33.8,428.6 35.3,428.6 36.8,428.5 38.3,428.4 39.8,428.4 41.3,428.3 42.8,428.2 44.3,428.1 45.8,428 47.3,427.9 48.8,427.7 50.3,427.5 51.8,427.4 53.3,427.2 54.8,426.9 56.3,426.6 57.8,426.3 59.3,426 60.8,425.6 62.3,425.1 63.8,424.7 65.3,424.1 66.7,423.5 68.2,422.8 69.7,422.1 71.2,421.4 72.7,420.6 74.2,419.8 75.7,419 77.2,418.3 78.7,417.7 80.2,417.3 81.7,417 83.2,417 84.7,417.3 86.2,417.7 87.7,418.4 89.2,419.3 90.7,420.2 92.2,421.2 93.7,422.2 95.2,423.1 96.7,424.1 98.2,424.9 99.7,425.7 101.2,426.4 102.7,427.1 104.2,427.7 105.7,428.2 107.2,428.7 108.7,429.1 110.2,429.5 111.7,429.8 113.2,430.1 114.7,430.4 116.2,430.6 117.7,430.8 119.2,431 120.7,431.2 122.2,431.3 123.7,431.5 125.2,431.6 126.7,431.7 128.2,431.8 129.7,431.9 131.2,432 132.7,432 134.2,432.1 135.7,432.2 137.2,432.2 138.7,432.3 140.2,432.3 141.7,432.4 143.2,432.4 144.7,432.5 146.2,432.5 147.7,432.5 149.1,432.6 150.6,432.6 152.1,432.7 153.6,432.7 155.1,432.7 156.6,432.8 158.1,432.8 159.6,432.8 161.1,432.8 162.6,432.9 164.1,432.9 165.6,432.9 167.1,433 168.6,433 170.1,433 171.6,433.1 173.1,433.1 174.6,433.2 176.1,433.2 177.6,433.2 179.1,433.3 180.6,433.3 182.1,433.4 183.6,433.4 185.1,433.5 186.6,433.6 188.1,433.6 189.6,433.7 191.1,433.8 192.6,433.9 194.1,434 195.6,434.1 197.1,434.2 198.6,434.3 200.1,434.4 201.6,434.5 203.1,434.6 204.6,434.7 206.1,434.9 207.6,435 209.1,435.2 210.6,435.3 212.1,435.5 213.6,435.6 215.1,435.8 216.6,436 218.1,436.1 219.6,436.3 221.1,436.5 222.6,436.6 224.1,436.8 225.6,437 227.1,437.1 228.6,437.3 230.1,437.4 231.5,437.6 233,437.7 234.5,437.9 236,438 237.5,438.1 239,438.2 240.5,438.4 242,438.5 243.5,438.6 245,438.6 246.5,438.7 248,438.8 249.5,438.9 251,439 252.5,439 254,439.1 255.5,439.1 257,439.2 258.5,439.2 260,439.3 261.5,439.3 263,439.4 264.5,439.4 266,439.4 267.5,439.4 269,439.5 270.5,439.5 272,439.5 272,439.6 270.5,439.6 269,439.6 267.5,439.5 266,439.5 264.5,439.5 263,439.4 261.5,439.4 260,439.4 258.5,439.3 257,439.3 255.5,439.2 254,439.2 252.5,439.1 251,439.1 249.5,439 248,438.9 246.5,438.8 245,438.8 243.5,438.7 242,438.6 240.5,438.5 239,438.4 237.5,438.2 236,438.1 234.5,438 233,437.9 231.5,437.7 230.1,437.6 228.6,437.4 227.1,437.3 225.6,437.1 224.1,437 222.6,436.8 221.1,436.6 219.6,436.5 218.1,436.3 216.6,436.1 215.1,436 213.6,435.8 212.1,435.7 210.6,435.5 209.1,435.4 207.6,435.2 206.1,435.1 204.6,434.9 203.1,434.8 201.6,434.7 200.1,434.6 198.6,434.5 197.1,434.4 195.6,434.3 194.1,434.2 192.6,434.1 191.1,434 189.6,434 188.1,433.9 186.6,433.8 185.1,433.8 183.6,433.7 182.1,433.7 180.6,433.6 179.1,433.6 177.6,433.6 176.1,433.5 174.6,433.5 173.1,433.5 171.6,433.4 170.1,433.4 168.6,433.4 167.1,433.4 165.6,433.4 164.1,433.3 162.6,433.3 161.1,433.3 159.6,433.3 158.1,433.3 156.6,433.3 155.1,433.3 153.6,433.3 152.1,433.2 150.6,433.2 149.1,433.2 147.7,433.2 146.2,433.2 144.7,433.2 143.2,433.2 141.7,433.2 140.2,433.2 138.7,433.2 137.2,433.2 135.7,433.2 134.2,433.1 132.7,433.1 131.2,433.1 129.7,433.1 128.2,433.1 126.7,433.1 125.2,433.1 123.7,433 122.2,433 120.7,433 119.2,433 117.7,433 116.2,432.9 114.7,432.9 113.2,432.9 111.7,432.8 110.2,432.8 108.7,432.8 107.2,432.7 105.7,432.7 104.2,432.6 102.7,432.6 101.2,432.5 99.7,432.4 98.2,432.4 96.7,432.3 95.2,432.2 93.7,432.2 92.2,432.1 90.7,432 89.2,431.9 87.7,431.8 86.2,431.7 84.7,431.6 83.2,431.6 81.7,431.5 80.2,431.4 78.7,431.3 77.2,431.2 75.7,431.1 74.2,431 72.7,430.9 71.2,430.8 69.7,430.8 68.2,430.7 66.7,430.6 65.3,430.5 63.8,430.5 62.3,430.4 60.8,430.3 59.3,430.3 57.8,430.2 56.3,430.2 54.8,430.1 53.3,430.1 51.8,430.1 50.3,430 48.8,430 47.3,430 45.8,430 44.3,429.9 42.8,429.9 41.3,429.9 39.8,429.9 38.3,429.9 36.8,429.8 35.3,429.8 33.8,429.8 32.3,429.8 30.8,429.8 29.3,429.8 27.8,429.8 26.3,429.8 24.8,429.8" fill="#4cbdf5" />
<polygon points="24.8,429.7 26.3,429.7 27.8,429.7 29.3,429.7 30.8,429.7 32.3,429.8 33.8,429.8 35.3,429.8 36.8,429.8 38.3,429.8 39.8,429.8 41.3,429.8 42.8,429.9 44.3,429.9 45.8,429.9 47.3,429.9 48.8,430 50.3,430 51.8,430 53.3,430.1 54.8,430.1 56.3,430.1 57.8,430.2 59.3,430.2 60.8,430.3 62.3,430.3 63.8,430.4 65.3,430.5 66.7,430.5 68.2,430.6 69.7,430.7 71.2,430.8 72.7,430.8 74.2,430.9 75.7,431 77.2,431.1 78.7,431.2 80.2,431.3 81.7,431.4 83.2,431.5 84.7,431.6 86.2,431.7 87.7,431.7 89.2,431.8 90.7,431.9 92.2,432 93.7,432.1 95.2,432.1 96.7,432.2 98.2,432.3 99.7,432.3 101.2,432.4 102.7,432.5 104.2,432.5 105.7,432.6 107.2,432.6 108.7,432.6 110.2,432.7 111.7,432.7 113.2,432.7 114.7,432.8 116.2,432.8 117.7,432.8 119.2,432.8 120.7,432.9 122.2,432.9 123.7,432.9 125.2,432.9 126.7,432.9 128.2,432.9 129.7,432.9 131.2,432.9 132.7,432.9 134.2,432.9 135.7,432.9 137.2,433 138.7,433 140.2,433 141.7,433 143.2,433 144.7,433 146.2,433 147.7,433 149.1,432.9 150.6,432.9 152.1,432.9 153.6,432.9 155.1,432.9 156.6,432.9 158.1,432.9 159.6,432.9 161.1,432.9 162.6,432.9 164.1,432.9 165.6,432.9 167.1,432.9 168.6,432.9 170.1,432.8 171.6,432.8 173.1,432.8 174.6,432.7 176.1,432.7 177.6,432.6 179.1,432.5 180.6,432.4 182.1,432.2 183.6,432 185.1,431.8 186.6,431.5 188.1,431.1 189.6,430.7 191.1,430.2 192.6,429.6 194.1,428.9 195.6,428.2 197.1,427.3 198.6,426.3 200.1,425.3 201.6,424.1 203.1,422.9 204.6,421.6 206.1,420.2 207.6,418.9 209.1,417.5 210.6,416.2 212.1,415 213.6,413.8 215.1,412.9 216.6,412.1 218.1,411.5 219.6,411.2 221.1,411.2 222.6,411.4 224.1,411.9 225.6,412.5 227.1,413.4 228.6,414.5 230.1,415.7 231.5,417 233,418.5 234.5,419.9 236,421.4 237.5,422.9 239,424.4 240.5,425.9 242,427.2 243.5,428.6 245,429.8 246.5,430.9 248,432 249.5,432.9 251,433.8 252.5,434.6 254,435.3 255.5,435.9 257,436.4 258.5,436.8 260,437.2 261.5,437.6 263,437.8 264.5,438.1 266,438.3 267.5,438.5 269,438.6 270.5,438.7 272,438.8 272,439.6 270.5,439.6 269,439.6 267.5,439.5 266,439.5 264.5,439.5 263,439.4 261.5,439.4 260,439.4 258.5,439.3 257,439.3 255.5,439.2 254,439.2 252.5,439.1 251,439.1 249.5,439 248,438.9 246.5,438.8 245,438.8 243.5,438.7 242,438.6 240.5,438.5 239,438.4 237.5,438.2 236,438.1 234.5,438 233,437.9 231.5,437.7 230.1,437.6 228.6,437.4 227.1,437.3 225.6,437.1 224.1,437 222.6,436.8 221.1,436.6 219.6,436.5 218.1,436.3 216.6,436.1 215.1,436 213.6,435.8 212.1,435.7 210.6,435.5 209.1,435.4 207.6,435.2 206.1,435.1 204.6,434.9 203.1,434.8 201.6,434.7 200.1,434.6 198.6,434.5 197.1,434.4 195.6,434.3 194.1,434.2 192.6,434.1 191.1,434 189.6,434 188.1,433.9 186.6,433.8 185.1,433.8 183.6,433.7 182.1,433.7 180.6,433.6 179.1,433.6 177.6,433.6 176.1,433.5 174.6,433.5 173.1,433.5 171.6,433.4 170.1,433.4 168.6,433.4 167.1,433.4 165.6,433.4 164.1,433.3 162.6,433.3 161.1,433.3 159.6,433.3 158.1,433.3 156.6,433.3 155.1,433.3 153.6,433.3 152.1,433.2 150.6,433.2 149.1,433.2 147.7,433.2 146.2,433.2 144.7,433.2 143.2,433.2 141.7,433.2 140.2,433.2 138.7,433.2 137.2,433.2 135.7,433.2 134.2,433.1 132.7,433.1 131.2,433.1 129.7,433.1 128.2,433.1 126.7,433.1 125.2,433.1 123.7,433 122.2,433 120.7,433 119.2,433 117.7,433 116.2,432.9 114.7,432.9 113.2,432.9 111.7,432.8 110.2,432.8 108.7,432.8 107.2,432.7 105.7,432.7 104.2,432.6 102.7,432.6 101.2,432.5 99.7,432.4 98.2,432.4 96.7,432.3 95.2,432.2 93.7,432.2 92.2,432.1 90.7,432 89.2,431.9 87.7,431.8 86.2,431.7 84.7,431.6 83.2,431.6 81.7,431.5 80.2,431.4 78.7,431.3 77.2,431.2 75.7,431.1 74.2,431 72.7,430.9 71.2,430.8 69.7,430.8 68.2,430.7 66.7,430.6 65.3,430.5 63.8,430.5 62.3,430.4 60.8,430.3 59.3,430.3 57.8,430.2 56.3,430.2 54.8,430.1 53.3,430.1 51.8,430.1 50.3,430 48.8,430 47.3,430 45.8,430 44.3,429.9 42.8,429.9 41.3,429.9 39.8,429.9 38.3,429.9 36.8,429.8 35.3,429.8 33.8,429.8 32.3,429.8 30.8,429.8 29.3,429.8 27.8,429.8 26.3,429.8 24.8,429.8" fill="#f7b8b9" />
<polyline points="24.8,429.8 26.3,429.8 27.8,429.8 29.3,429.8 30.8,429.8 32.3,429.8 33.8,429.8 35.3,429.8 36.8,429.8 38.3,429.9 39.8,429.9 41.3,429.9 42.8,429.9 44.3,429.9 45.8,430 47.3,430 48.8,430 50.3,430 51.8,430.1 53.3,430.1 54.8,430.1 56.3,430.2 57.8,430.2 59.3,430.3 60.8,430.3 62.3,430.4 63.8,430.5 65.3,430.5 66.7,430.6 68.2,430.7 69.7,430.8 71.2,430.8 72.7,430.9 74.2,431 75.7,431.1 77.2,431.2 78.7,431.3 80.2,431.4 81.7,431.5 83.2,431.6 84.7,431.6 86.2,431.7 87.7,431.8 89.2,431.9 90.7,432 92.2,432.1 93.7,432.2 95.2,432.2 96.7,432.3 98.2,432.4 99.7,432.4 101.2,432.5 102.7,432.6 104.2,432.6 105.7,432.7 107.2,432.7 108.7,432.8 110.2,432.8 111.7,432.8 113.2,432.9 114.7,432.9 116.2,432.9 117.7,433 119.2,433 120.7,433 122.2,433 123.7,433 125.2,433.1 126.7,433.1 128.2,433.1 129.7,433.1 131.2,433.1 132.7,433.1 134.2,433.1 135.7,433.2 137.2,433.2 138.7,433.2 140.2,433.2 141.7,433.2 143.2,433.2 144.7,433.2 146.2,433.2 147.7,433.2 149.1,433.2 150.6,433.2 152.1,433.2 153.6,433.3 155.1,433.3 156.6,433.3 158.1,433.3 159.6,433.3 161.1,433.3 162.6,433.3 164.1,433.3 165.6,433.4 167.1,433.4 168.6,433.4 170.1,433.4 171.6,433.4 173.1,433.5 174.6,433.5 176.1,433.5 177.6,433.6 179.1,433.6 180.6,433.6 182.1,433.7 183.6,433.7 185.1,433.8 186.6,433.8" fill="none" stroke="#f01818" stroke-width="1.6" stroke-linejoin="round" />
<polyline points="188.1,433.9 189.6,434 191.1,434 192.6,434.1 194.1,434.2 195.6,434.3 197.1,434.4 198.6,434.5 200.1,434.6 201.6,434.7 203.1,434.8 204.6,434.9 206.1,435.1 207.6,435.2 209.1,435.4 210.6,435.5 212.1,435.7 213.6,435.8 215.1,436 216.6,436.1 218.1,436.3 219.6,436.5 221.1,436.6 222.6,436.8 224.1,437 225.6,437.1 227.1,437.3 228.6,437.4 230.1,437.6 231.5,437.7 233,437.9 234.5,438 236,438.1 237.5,438.2 239,438.4 240.5,438.5 242,438.6 243.5,438.7 245,438.8 246.5,438.8 248,438.9 249.5,439 251,439.1 252.5,439.1 254,439.2 255.5,439.2 257,439.3 258.5,439.3 260,439.4 261.5,439.4 263,439.4 264.5,439.5 266,439.5 267.5,439.5 269,439.6 270.5,439.6 272,439.6" fill="none" stroke="#1c60e0" stroke-width="1.6" stroke-linejoin="round" />
<polyline points="24.8,428.9 26.3,428.8 27.8,428.8 29.3,428.7 30.8,428.7 32.3,428.6 33.8,428.6 35.3,428.5 36.8,428.5 38.3,428.4 39.8,428.3 41.3,428.2 42.8,428.1 44.3,428 45.8,427.9 47.3,427.8 48.8,427.7 50.3,427.5 51.8,427.3 53.3,427.1 54.8,426.9 56.3,426.6 57.8,426.3 59.3,425.9 60.8,425.5 62.3,425.1 63.8,424.6 65.3,424 66.7,423.4 68.2,422.8 69.7,422.1 71.2,421.3 72.7,420.5 74.2,419.7 75.7,418.9 77.2,418.2 78.7,417.6 80.2,417.2 81.7,416.9 83.2,416.9 84.7,417.2 86.2,417.7 87.7,418.3 89.2,419.2 90.7,420.1 92.2,421.1 93.7,422.1 95.2,423 96.7,424 98.2,424.8 99.7,425.6 101.2,426.3 102.7,427 104.2,427.6 105.7,428.1 107.2,428.6 108.7,429 110.2,429.4 111.7,429.7 113.2,430 114.7,430.3 116.2,430.5 117.7,430.7 119.2,430.9 120.7,431 122.2,431.2 123.7,431.3 125.2,431.4 126.7,431.5 128.2,431.6 129.7,431.7 131.2,431.8 132.7,431.8 134.2,431.9 135.7,432 137.2,432 138.7,432.1 140.2,432.1 141.7,432.1 143.2,432.2 144.7,432.2 146.2,432.2 147.7,432.3 149.1,432.3 150.6,432.3 152.1,432.3 153.6,432.4 155.1,432.4 156.6,432.4 158.1,432.4 159.6,432.4 161.1,432.4 162.6,432.5 164.1,432.5 165.6,432.5 167.1,432.5 168.6,432.5" fill="none" stroke="#1c60e0" stroke-width="2.2" stroke-linejoin="round" />
<polyline points="24.8,428.9 26.3,428.8 27.8,428.8 29.3,428.7 30.8,428.7 32.3,428.6 33.8,428.6 35.3,428.5 36.8,428.5 38.3,428.4 39.8,428.3 41.3,428.2 42.8,428.1 44.3,428 45.8,427.9 47.3,427.8 48.8,427.7 50.3,427.5 51.8,427.3 53.3,427.1 54.8,426.9 56.3,426.6 57.8,426.3 59.3,425.9 60.8,425.5 62.3,425.1 63.8,424.6 65.3,424 66.7,423.4 68.2,422.8 69.7,422.1 71.2,421.3 72.7,420.5 74.2,419.7 75.7,418.9 77.2,418.2 78.7,417.6 80.2,417.2 81.7,416.9 83.2,416.9 84.7,417.2 86.2,417.7 87.7,418.3 89.2,419.2 90.7,420.1 92.2,421.1 93.7,422.1 95.2,423 96.7,424 98.2,424.8 99.7,425.6 101.2,426.3 102.7,427 104.2,427.6 105.7,428.1 107.2,428.6 108.7,429 110.2,429.4 111.7,429.7 113.2,430 114.7,430.3 116.2,430.5 117.7,430.7 119.2,430.9 120.7,431 122.2,431.2 123.7,431.3 125.2,431.4 126.7,431.5 128.2,431.6 129.7,431.7 131.2,431.8 132.7,431.8 134.2,431.9 135.7,432 137.2,432 138.7,432.1 140.2,432.1 141.7,432.1 143.2,432.2 144.7,432.2 146.2,432.2 147.7,432.3 149.1,432.3 150.6,432.3 152.1,432.3 153.6,432.4 155.1,432.4 156.6,432.4 158.1,432.4 159.6,432.4 161.1,432.4 162.6,432.5 164.1,432.5 165.6,432.5 167.1,432.5 168.6,432.5 170.1,432.5 171.6,432.4 173.1,432.4 174.6,432.4 176.1,432.3 177.6,432.3 179.1,432.2 180.6,432.1 182.1,431.9 183.6,431.7 185.1,431.5 186.6,431.2 188.1,430.9 189.6,430.5 191.1,430 192.6,429.4 194.1,428.7 195.6,427.9 197.1,427.1 198.6,426.1 200.1,425 201.6,423.9 203.1,422.7 204.6,421.4 206.1,420 207.6,418.7 209.1,417.3 210.6,416 212.1,414.8 213.6,413.7 215.1,412.7 216.6,411.9 218.1,411.4 219.6,411.1 221.1,411 222.6,411.2 224.1,411.7 225.6,412.4 227.1,413.3 228.6,414.4 230.1,415.6 231.5,416.9 233,418.3 234.5,419.8 236,421.3 237.5,422.8 239,424.3 240.5,425.7 242,427.1 243.5,428.4 245,429.7 246.5,430.8 248,431.9 249.5,432.8 251,433.7 252.5,434.5 254,435.2 255.5,435.8 257,436.3 258.5,436.7 260,437.1 261.5,437.5 263,437.7 264.5,438 266,438.2 267.5,438.4 269,438.5 270.5,438.6 272,438.7" fill="none" stroke="#0a0c20" stroke-width="1.3" stroke-linejoin="round" />
<text x="102.9" y="423.2" font-size="9.25" text-anchor="start" style="font-family:'Liberation Serif',serif;font-weight:bold;stroke:#000;stroke-width:0.25px;" >CuO/<tspan style="font-style:italic">α</tspan>-MnO<tspan font-size="6.5" dy="2">2</tspan><tspan dy="-2">-500</tspan></text>
<rect x="24.8" y="244" width="247" height="199.5" fill="none" stroke="#000" stroke-width="1.4"/>
<path d="M71.8,443.5v-3.5M130.9,443.5v-3.5M190,443.5v-3.5M249,443.5v-3.5M42.3,443.5v-2M101.4,443.5v-2M160.4,443.5v-2M219.5,443.5v-2" stroke="#000" stroke-width="1.2"/>
<text x="71.8" y="456.3" font-size="10.2" text-anchor="middle" style="font-family:'Liberation Serif',serif;font-weight:bold;stroke:#000;stroke-width:0.25px;" >655</text>
<text x="130.9" y="456.3" font-size="10.2" text-anchor="middle" style="font-family:'Liberation Serif',serif;font-weight:bold;stroke:#000;stroke-width:0.25px;" >650</text>
<text x="190" y="456.3" font-size="10.2" text-anchor="middle" style="font-family:'Liberation Serif',serif;font-weight:bold;stroke:#000;stroke-width:0.25px;" >645</text>
<text x="249" y="456.3" font-size="10.2" text-anchor="middle" style="font-family:'Liberation Serif',serif;font-weight:bold;stroke:#000;stroke-width:0.25px;" >640</text>
<text x="149" y="467.3" font-size="13.1" text-anchor="middle" style="font-family:'Liberation Serif',serif;font-weight:bold;stroke:#000;stroke-width:0.25px;" >Binding Energy (eV)</text>
<text x="0" y="0" font-size="12.6" text-anchor="middle" style="font-family:'Liberation Serif',serif;font-weight:bold;stroke:#000;stroke-width:0.25px;" transform="translate(16.5,344.2) rotate(-90)">Intensity (a.u.)</text>
<text x="3.8" y="253.8" font-size="16.3" text-anchor="start" style="font-family:'Liberation Serif',serif;font-weight:bold;stroke:#000;stroke-width:0.25px;" >(c)</text>
<text x="35.6" y="328" font-size="8.9" text-anchor="start" style="font-family:'Liberation Serif',serif;font-weight:bold;stroke:#000;stroke-width:0.25px;" >Mn(II)2p<tspan font-size="6.6" dy="2">1/2</tspan><tspan dy="-2"></tspan></text>
<text x="220.7" y="330.2" font-size="8.9" text-anchor="start" style="font-family:'Liberation Serif',serif;font-weight:bold;stroke:#000;stroke-width:0.25px;" >Mn(II)2p<tspan font-size="6.6" dy="2">3/2</tspan><tspan dy="-2"></tspan></text>
<line x1="55.2" y1="332.8" x2="64.5" y2="342.6" stroke="#000" stroke-width="1.2"/>
<polygon points="67.9,346.2 62.9,344.1 66.1,341.1" fill="#000"/>
<line x1="248.6" y1="333.3" x2="239" y2="343.4" stroke="#000" stroke-width="1.2"/>
<polygon points="235.5,347 237.4,341.9 240.5,344.9" fill="#000"/>
</svg>
</body></html>
